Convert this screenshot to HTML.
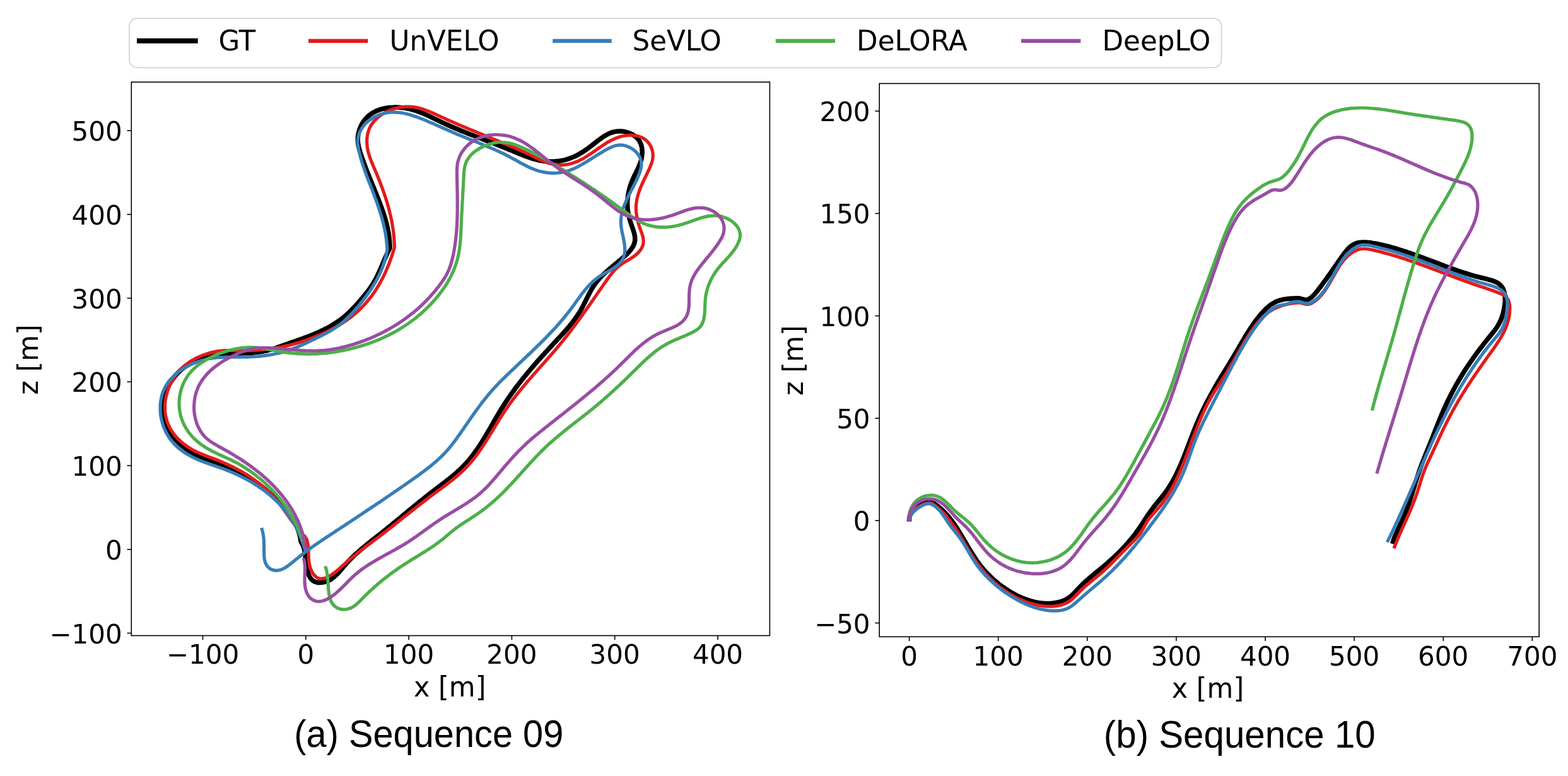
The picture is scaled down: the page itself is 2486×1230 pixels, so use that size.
<!DOCTYPE html>
<html><head><meta charset="utf-8"><style>
html,body{margin:0;padding:0;background:#fff;}
svg{display:block;}
.t{font-family:'DejaVu Sans', 'Liberation Sans', sans-serif;font-size:44.5px;fill:#000;}
.tk1{font-family:'DejaVu Sans', 'Liberation Sans', sans-serif;font-size:42.0px;fill:#000;}
.tl{font-family:'DejaVu Sans', 'Liberation Sans', sans-serif;font-size:43.6px;fill:#000;}
.cap{font-family:'Liberation Sans', sans-serif;font-size:61px;fill:#000;}
.tk{stroke:#000;stroke-width:1.6;}
.sp{fill:none;stroke:#000;stroke-width:1.6;}
</style></head><body>
<svg xmlns="http://www.w3.org/2000/svg" width="2486" height="1230" viewBox="0 0 2486 1230">
<rect width="2486" height="1230" fill="#fff"/>
<defs><clipPath id="cL"><rect x="208.3" y="130.1" width="1012.1000000000001" height="877.4"/></clipPath><clipPath id="cR"><rect x="1394.2" y="132.4" width="1045.9999999999998" height="876.9"/></clipPath></defs>
<g clip-path="url(#cL)"><path d="M476.1,857.1 C476.6,857.8 478.1,860.0 478.9,861.5 C479.7,863.0 480.3,864.5 480.9,866.0 C481.5,867.5 481.9,869.1 482.3,870.6 C482.7,872.2 483.1,873.8 483.3,875.4 C483.6,877.0 483.8,878.6 484.0,880.2 C484.2,881.9 484.4,883.5 484.5,885.2 C484.7,886.9 484.8,888.6 485.0,890.3 C485.2,892.0 485.4,893.8 485.7,895.5 C485.9,897.3 486.2,899.1 486.5,900.8 C486.9,902.6 487.3,904.3 487.8,906.0 C488.3,907.7 488.8,909.4 489.4,910.9 C490.1,912.4 490.8,913.9 491.6,915.2 C492.5,916.6 493.4,917.8 494.4,918.8 C495.5,919.9 496.7,920.8 498.0,921.4 C499.2,922.1 500.7,922.6 502.2,923.0 C503.6,923.3 505.2,923.5 506.8,923.5 C508.4,923.5 510.1,923.4 511.7,923.1 C513.4,922.8 515.0,922.4 516.6,921.9 C518.2,921.4 519.8,920.7 521.3,920.0 C522.8,919.3 524.2,918.4 525.6,917.5 C527.0,916.6 528.3,915.6 529.6,914.6 C530.9,913.5 532.1,912.4 533.3,911.2 C534.5,910.0 535.7,908.8 536.9,907.5 C538.0,906.3 539.1,905.0 540.3,903.7 C541.4,902.4 542.5,901.0 543.6,899.7 C544.7,898.4 545.8,897.1 547.0,895.8 C548.1,894.5 549.2,893.2 550.4,891.9 C551.5,890.7 552.7,889.4 553.9,888.2 C555.0,887.0 556.2,885.8 557.4,884.6 C558.6,883.4 559.8,882.2 561.1,881.0 C562.3,879.9 563.5,878.7 564.7,877.6 C566.0,876.5 567.2,875.4 568.5,874.3 C569.7,873.2 571.0,872.1 572.2,871.0 C573.5,869.9 574.8,868.8 576.0,867.8 C577.3,866.7 578.6,865.6 579.9,864.6 C581.2,863.5 582.5,862.5 583.7,861.5 C585.0,860.4 586.3,859.4 587.6,858.4 C588.9,857.3 590.2,856.3 591.5,855.3 C592.8,854.3 594.1,853.2 595.4,852.2 C596.7,851.2 598.0,850.2 599.3,849.2 C600.6,848.1 601.9,847.1 603.2,846.1 C604.5,845.1 605.8,844.0 607.1,843.0 C608.4,842.0 609.7,840.9 610.9,839.9 C612.2,838.9 613.5,837.8 614.8,836.8 C616.1,835.8 617.4,834.7 618.6,833.7 C619.9,832.6 621.2,831.6 622.5,830.5 C623.8,829.5 625.0,828.4 626.3,827.4 C627.6,826.3 628.9,825.3 630.1,824.2 C631.4,823.2 632.7,822.1 634.0,821.1 C635.2,820.0 636.5,819.0 637.8,817.9 C639.1,816.9 640.3,815.8 641.6,814.8 C642.9,813.7 644.2,812.6 645.4,811.6 C646.7,810.5 648.0,809.5 649.3,808.4 C650.6,807.4 651.8,806.3 653.1,805.3 C654.4,804.2 655.7,803.2 657.0,802.1 C658.3,801.0 659.6,800.0 660.8,798.9 C662.1,797.9 663.4,796.8 664.7,795.8 C666.0,794.8 667.3,793.7 668.6,792.7 C669.9,791.6 671.2,790.6 672.5,789.5 C673.8,788.5 675.1,787.5 676.5,786.4 C677.8,785.4 679.1,784.3 680.4,783.3 C681.7,782.3 683.0,781.3 684.4,780.2 C685.7,779.2 687.0,778.2 688.4,777.2 C689.7,776.1 691.0,775.1 692.4,774.1 C693.7,773.1 695.1,772.1 696.4,771.0 C697.7,770.0 699.1,769.0 700.4,768.0 C701.7,767.0 703.1,765.9 704.4,764.9 C705.7,763.9 707.1,762.8 708.4,761.8 C709.7,760.8 711.0,759.7 712.3,758.7 C713.6,757.6 714.9,756.6 716.2,755.5 C717.5,754.4 718.8,753.4 720.1,752.3 C721.3,751.2 722.6,750.1 723.9,749.0 C725.1,747.9 726.3,746.8 727.6,745.7 C728.8,744.6 730.0,743.5 731.2,742.3 C732.4,741.2 733.5,740.0 734.7,738.8 C735.9,737.7 737.0,736.5 738.1,735.3 C739.2,734.1 740.3,732.8 741.4,731.6 C742.5,730.4 743.6,729.1 744.6,727.9 C745.7,726.6 746.7,725.3 747.7,724.0 C748.7,722.7 749.7,721.4 750.7,720.1 C751.7,718.8 752.7,717.5 753.6,716.1 C754.6,714.8 755.5,713.5 756.5,712.1 C757.4,710.7 758.3,709.4 759.3,708.0 C760.2,706.6 761.1,705.2 762.0,703.8 C762.9,702.5 763.7,701.1 764.6,699.7 C765.5,698.2 766.4,696.8 767.2,695.4 C768.1,694.0 769.0,692.6 769.8,691.1 C770.7,689.7 771.5,688.3 772.3,686.8 C773.2,685.4 774.0,684.0 774.9,682.5 C775.7,681.1 776.5,679.6 777.4,678.2 C778.2,676.7 779.0,675.3 779.9,673.9 C780.7,672.4 781.5,671.0 782.3,669.5 C783.2,668.1 784.0,666.6 784.8,665.2 C785.7,663.7 786.5,662.3 787.4,660.8 C788.2,659.4 789.0,657.9 789.9,656.5 C790.7,655.1 791.6,653.6 792.5,652.2 C793.3,650.8 794.2,649.4 795.1,648.0 C795.9,646.5 796.8,645.1 797.7,643.7 C798.6,642.3 799.5,640.9 800.4,639.5 C801.3,638.1 802.2,636.7 803.1,635.4 C804.1,634.0 805.0,632.6 805.9,631.2 C806.9,629.9 807.8,628.5 808.8,627.1 C809.7,625.8 810.7,624.4 811.6,623.1 C812.6,621.7 813.6,620.4 814.6,619.1 C815.5,617.7 816.5,616.4 817.5,615.1 C818.5,613.7 819.5,612.4 820.5,611.1 C821.5,609.8 822.5,608.5 823.5,607.1 C824.6,605.8 825.6,604.5 826.6,603.2 C827.6,601.9 828.7,600.6 829.7,599.3 C830.8,598.1 831.8,596.8 832.8,595.5 C833.9,594.2 834.9,592.9 836.0,591.6 C837.1,590.4 838.1,589.1 839.2,587.8 C840.3,586.5 841.3,585.3 842.4,584.0 C843.5,582.8 844.6,581.5 845.7,580.2 C846.7,579.0 847.8,577.7 848.9,576.5 C850.0,575.2 851.1,574.0 852.2,572.7 C853.3,571.5 854.4,570.2 855.5,569.0 C856.6,567.8 857.7,566.5 858.8,565.3 C859.9,564.0 861.1,562.8 862.2,561.6 C863.3,560.3 864.4,559.1 865.5,557.9 C866.7,556.7 867.8,555.4 868.9,554.2 C870.0,553.0 871.2,551.8 872.3,550.5 C873.4,549.3 874.5,548.1 875.7,546.9 C876.8,545.7 877.9,544.4 879.1,543.2 C880.2,542.0 881.4,540.8 882.5,539.6 C883.6,538.3 884.8,537.1 885.9,535.9 C887.0,534.7 888.2,533.5 889.3,532.2 C890.4,531.0 891.5,529.8 892.6,528.6 C893.8,527.3 894.9,526.1 896.0,524.8 C897.1,523.6 898.2,522.4 899.2,521.1 C900.3,519.8 901.4,518.6 902.5,517.3 C903.5,516.0 904.6,514.7 905.6,513.4 C906.7,512.1 907.7,510.8 908.7,509.5 C909.7,508.2 910.7,506.9 911.7,505.5 C912.6,504.2 913.6,502.8 914.5,501.5 C915.5,500.1 916.4,498.7 917.3,497.3 C918.2,495.9 919.1,494.5 919.9,493.0 C920.8,491.6 921.6,490.1 922.4,488.7 C923.3,487.2 924.0,485.7 924.8,484.2 C925.6,482.7 926.4,481.2 927.1,479.7 C927.9,478.2 928.6,476.6 929.4,475.1 C930.1,473.6 930.8,472.1 931.6,470.6 C932.4,469.1 933.1,467.5 933.9,466.1 C934.6,464.6 935.4,463.1 936.2,461.6 C937.0,460.2 937.8,458.7 938.7,457.3 C939.5,455.9 940.4,454.5 941.3,453.1 C942.2,451.8 943.1,450.4 944.1,449.1 C945.0,447.8 946.0,446.6 947.1,445.3 C948.1,444.1 949.1,442.9 950.2,441.7 C951.3,440.5 952.4,439.3 953.5,438.1 C954.7,437.0 955.8,435.8 957.0,434.7 C958.2,433.6 959.4,432.5 960.6,431.4 C961.8,430.3 963.0,429.2 964.3,428.1 C965.5,427.0 966.8,426.0 968.0,424.9 C969.3,423.8 970.6,422.8 971.9,421.7 C973.2,420.6 974.5,419.5 975.8,418.5 C977.1,417.4 978.4,416.3 979.7,415.2 C981.0,414.1 982.3,413.0 983.7,411.9 C985.0,410.8 986.3,409.7 987.6,408.5 C988.9,407.4 990.2,406.2 991.5,405.0 C992.8,403.9 994.0,402.7 995.2,401.4 C996.4,400.2 997.6,399.0 998.6,397.7 C999.7,396.4 1000.7,395.1 1001.6,393.8 C1002.5,392.5 1003.4,391.2 1004.0,389.8 C1004.7,388.4 1005.3,387.0 1005.8,385.5 C1006.2,384.1 1006.5,382.6 1006.7,381.1 C1006.8,379.6 1006.8,378.0 1006.7,376.5 C1006.6,374.9 1006.3,373.3 1005.9,371.7 C1005.6,370.0 1005.1,368.4 1004.6,366.7 C1004.2,365.1 1003.6,363.4 1003.0,361.7 C1002.4,360.1 1001.8,358.4 1001.3,356.7 C1000.7,355.1 1000.1,353.4 999.6,351.8 C999.0,350.1 998.6,348.5 998.1,346.8 C997.7,345.2 997.3,343.6 996.9,341.9 C996.5,340.3 996.2,338.7 995.9,337.1 C995.6,335.5 995.4,333.9 995.2,332.2 C995.0,330.6 994.9,329.0 994.8,327.4 C994.7,325.8 994.6,324.1 994.7,322.5 C994.7,320.9 994.7,319.3 994.8,317.6 C994.9,316.0 995.1,314.4 995.3,312.7 C995.5,311.1 995.7,309.5 996.0,307.8 C996.3,306.2 996.7,304.6 997.0,303.0 C997.4,301.3 997.8,299.7 998.3,298.1 C998.7,296.5 999.2,294.9 999.8,293.3 C1000.3,291.7 1000.9,290.2 1001.5,288.6 C1002.1,287.0 1002.8,285.5 1003.4,283.9 C1004.1,282.4 1004.8,280.9 1005.5,279.3 C1006.3,277.8 1007.0,276.3 1007.8,274.8 C1008.5,273.3 1009.2,271.8 1010.0,270.3 C1010.7,268.8 1011.4,267.2 1012.1,265.7 C1012.8,264.2 1013.4,262.7 1014.0,261.1 C1014.6,259.5 1015.2,258.0 1015.7,256.4 C1016.2,254.8 1016.6,253.2 1017.0,251.6 C1017.3,249.9 1017.6,248.3 1017.8,246.6 C1018.0,245.0 1018.1,243.3 1018.2,241.6 C1018.2,240.0 1018.1,238.3 1018.0,236.7 C1017.8,235.1 1017.5,233.5 1017.2,232.0 C1016.8,230.4 1016.3,228.9 1015.7,227.4 C1015.1,226.0 1014.4,224.5 1013.6,223.2 C1012.7,221.9 1011.8,220.6 1010.7,219.4 C1009.6,218.2 1008.4,217.1 1007.0,216.0 C1005.7,215.0 1004.2,214.1 1002.7,213.2 C1001.2,212.4 999.6,211.6 998.0,211.0 C996.3,210.3 994.6,209.8 992.9,209.3 C991.2,208.9 989.4,208.5 987.7,208.3 C986.0,208.1 984.3,207.9 982.6,207.9 C980.9,207.9 979.2,208.0 977.6,208.2 C976.0,208.4 974.4,208.8 972.9,209.2 C971.3,209.6 969.8,210.1 968.3,210.6 C966.8,211.2 965.3,211.9 963.9,212.6 C962.4,213.3 961.0,214.1 959.6,214.9 C958.1,215.7 956.7,216.6 955.4,217.6 C954.0,218.5 952.6,219.5 951.3,220.5 C949.9,221.5 948.5,222.5 947.2,223.5 C945.9,224.5 944.5,225.6 943.2,226.7 C941.9,227.7 940.5,228.8 939.2,229.8 C937.9,230.9 936.5,231.9 935.2,232.9 C933.9,233.9 932.5,234.9 931.2,235.9 C929.8,236.9 928.5,237.8 927.1,238.7 C925.7,239.7 924.3,240.6 922.9,241.4 C921.6,242.3 920.2,243.1 918.7,243.9 C917.3,244.8 915.9,245.5 914.4,246.3 C913.0,247.0 911.5,247.7 910.0,248.4 C908.5,249.1 907.0,249.7 905.5,250.3 C904.0,250.9 902.4,251.4 900.8,251.9 C899.3,252.4 897.7,252.9 896.0,253.3 C894.4,253.7 892.8,254.1 891.1,254.4 C889.5,254.8 887.8,255.0 886.1,255.3 C884.4,255.5 882.7,255.7 881.0,255.8 C879.3,256.0 877.7,256.1 876.0,256.1 C874.3,256.1 872.6,256.1 870.9,256.1 C869.3,256.0 867.6,255.9 866.0,255.8 C864.3,255.6 862.7,255.4 861.0,255.2 C859.4,255.0 857.8,254.7 856.2,254.4 C854.6,254.0 853.0,253.7 851.4,253.3 C849.8,252.9 848.2,252.5 846.6,252.0 C845.0,251.6 843.5,251.1 841.9,250.6 C840.3,250.1 838.8,249.6 837.2,249.0 C835.7,248.5 834.1,247.9 832.6,247.3 C831.0,246.8 829.5,246.2 827.9,245.5 C826.4,244.9 824.8,244.3 823.3,243.7 C821.7,243.1 820.2,242.4 818.7,241.8 C817.1,241.1 815.6,240.5 814.0,239.8 C812.5,239.2 811.0,238.6 809.4,237.9 C807.9,237.3 806.3,236.6 804.8,236.0 C803.2,235.4 801.7,234.8 800.1,234.1 C798.6,233.5 797.0,232.9 795.5,232.3 C793.9,231.7 792.4,231.1 790.8,230.5 C789.3,229.8 787.7,229.2 786.2,228.6 C784.6,228.0 783.0,227.4 781.5,226.8 C779.9,226.2 778.4,225.6 776.8,225.0 C775.3,224.4 773.7,223.8 772.1,223.2 C770.6,222.6 769.0,222.0 767.5,221.4 C765.9,220.8 764.4,220.2 762.8,219.6 C761.2,219.0 759.7,218.4 758.1,217.8 C756.6,217.2 755.0,216.6 753.5,216.0 C751.9,215.4 750.4,214.8 748.8,214.2 C747.3,213.6 745.7,213.0 744.2,212.4 C742.6,211.8 741.1,211.2 739.5,210.6 C738.0,209.9 736.4,209.3 734.9,208.7 C733.4,208.1 731.8,207.5 730.3,206.8 C728.8,206.2 727.2,205.6 725.7,204.9 C724.2,204.3 722.6,203.6 721.1,203.0 C719.6,202.3 718.1,201.7 716.5,201.0 C715.0,200.4 713.5,199.7 712.0,199.0 C710.5,198.3 709.0,197.7 707.5,197.0 C705.9,196.3 704.4,195.6 702.9,194.9 C701.4,194.2 700.0,193.5 698.5,192.8 C697.0,192.1 695.5,191.3 694.0,190.6 C692.5,189.9 691.0,189.2 689.5,188.5 C688.0,187.7 686.6,187.0 685.1,186.3 C683.6,185.6 682.1,184.9 680.6,184.2 C679.1,183.5 677.6,182.8 676.1,182.1 C674.6,181.4 673.1,180.8 671.5,180.1 C670.0,179.5 668.5,178.9 667.0,178.3 C665.4,177.7 663.9,177.1 662.3,176.5 C660.7,176.0 659.2,175.5 657.6,175.0 C656.0,174.5 654.4,174.0 652.8,173.6 C651.1,173.1 649.5,172.7 647.9,172.4 C646.2,172.0 644.5,171.7 642.9,171.4 C641.2,171.2 639.5,170.9 637.8,170.7 C636.1,170.5 634.4,170.4 632.7,170.3 C631.0,170.2 629.3,170.1 627.5,170.1 C625.8,170.1 624.1,170.1 622.4,170.2 C620.8,170.2 619.1,170.4 617.4,170.6 C615.7,170.7 614.1,171.0 612.4,171.2 C610.8,171.5 609.1,171.9 607.5,172.3 C605.9,172.6 604.4,173.1 602.8,173.6 C601.2,174.1 599.7,174.7 598.2,175.3 C596.7,175.9 595.3,176.6 593.9,177.3 C592.4,178.1 591.0,178.9 589.7,179.7 C588.4,180.6 587.1,181.5 585.8,182.5 C584.5,183.5 583.3,184.6 582.2,185.7 C581.0,186.8 579.9,188.0 578.9,189.3 C577.8,190.5 576.8,191.9 575.9,193.3 C575.0,194.7 574.1,196.1 573.3,197.6 C572.5,199.1 571.8,200.7 571.2,202.3 C570.5,203.9 569.9,205.5 569.4,207.2 C568.9,208.8 568.5,210.5 568.2,212.2 C567.8,213.8 567.6,215.5 567.4,217.2 C567.3,218.9 567.2,220.6 567.3,222.3 C567.3,224.0 567.4,225.6 567.7,227.3 C567.9,228.9 568.2,230.5 568.5,232.2 C568.9,233.8 569.3,235.4 569.8,237.0 C570.2,238.6 570.7,240.2 571.2,241.8 C571.7,243.4 572.3,244.9 572.8,246.5 C573.3,248.1 573.9,249.7 574.4,251.2 C575.0,252.8 575.5,254.4 576.1,255.9 C576.7,257.5 577.2,259.1 577.8,260.6 C578.4,262.2 579.0,263.7 579.5,265.3 C580.1,266.8 580.7,268.4 581.3,269.9 C581.9,271.5 582.5,273.0 583.1,274.6 C583.7,276.1 584.4,277.6 585.0,279.2 C585.6,280.7 586.2,282.3 586.8,283.8 C587.5,285.3 588.1,286.9 588.7,288.4 C589.3,290.0 590.0,291.5 590.6,293.0 C591.2,294.6 591.8,296.1 592.5,297.6 C593.1,299.2 593.7,300.7 594.4,302.3 C595.0,303.8 595.6,305.4 596.2,306.9 C596.9,308.4 597.5,310.0 598.1,311.5 C598.7,313.1 599.3,314.6 600.0,316.2 C600.6,317.7 601.2,319.3 601.8,320.8 C602.4,322.4 603.0,323.9 603.5,325.5 C604.1,327.1 604.7,328.6 605.3,330.2 C605.8,331.8 606.4,333.3 606.9,334.9 C607.5,336.5 608.0,338.0 608.5,339.6 C609.0,341.2 609.5,342.8 610.0,344.4 C610.5,346.0 610.9,347.5 611.4,349.1 C611.8,350.7 612.3,352.3 612.7,353.9 C613.1,355.5 613.5,357.1 613.9,358.8 C614.2,360.4 614.6,362.0 614.9,363.6 C615.2,365.2 615.5,366.9 615.8,368.5 C616.1,370.1 616.4,371.8 616.6,373.4 C616.8,375.0 617.0,376.7 617.2,378.3 C617.4,380.0 617.5,381.7 617.7,383.3 C617.8,385.0 617.9,386.7 617.9,388.3 C618.0,390.0 618.4,391.8 618.0,393.4 C617.6,395.0 616.5,396.3 615.8,397.8 C615.0,399.3 614.3,400.8 613.6,402.3 C612.9,403.8 612.2,405.4 611.6,406.9 C610.9,408.4 610.2,409.9 609.6,411.5 C608.9,413.0 608.3,414.5 607.6,416.1 C607.0,417.6 606.3,419.1 605.7,420.7 C605.0,422.2 604.3,423.7 603.7,425.3 C603.0,426.8 602.3,428.3 601.7,429.8 C601.0,431.4 600.3,432.9 599.6,434.4 C598.9,435.9 598.1,437.4 597.4,438.9 C596.6,440.3 595.9,441.8 595.1,443.3 C594.3,444.7 593.5,446.2 592.6,447.6 C591.8,449.0 590.9,450.4 590.0,451.8 C589.1,453.2 588.2,454.6 587.2,456.0 C586.3,457.4 585.3,458.7 584.3,460.1 C583.4,461.4 582.3,462.7 581.3,464.0 C580.3,465.4 579.3,466.7 578.2,468.0 C577.1,469.3 576.1,470.6 575.0,471.8 C573.9,473.1 572.8,474.4 571.7,475.7 C570.6,476.9 569.5,478.2 568.4,479.4 C567.3,480.7 566.2,481.9 565.1,483.2 C563.9,484.4 562.8,485.6 561.7,486.9 C560.5,488.1 559.4,489.3 558.2,490.5 C557.0,491.7 555.9,492.8 554.7,494.0 C553.5,495.1 552.3,496.3 551.1,497.4 C549.8,498.5 548.6,499.6 547.3,500.7 C546.1,501.8 544.8,502.8 543.5,503.9 C542.2,504.9 540.9,505.9 539.6,506.9 C538.2,507.9 536.9,508.8 535.5,509.8 C534.2,510.7 532.8,511.6 531.4,512.5 C530.0,513.4 528.6,514.3 527.1,515.2 C525.7,516.0 524.3,516.8 522.8,517.7 C521.4,518.5 519.9,519.3 518.4,520.1 C516.9,520.8 515.5,521.6 514.0,522.3 C512.5,523.1 511.0,523.8 509.5,524.5 C507.9,525.2 506.4,525.9 504.9,526.6 C503.4,527.3 501.8,528.0 500.3,528.6 C498.8,529.3 497.2,529.9 495.7,530.6 C494.1,531.2 492.6,531.8 491.0,532.4 C489.5,533.0 487.9,533.6 486.4,534.2 C484.8,534.8 483.3,535.4 481.7,535.9 C480.2,536.5 478.6,537.1 477.0,537.6 C475.5,538.2 473.9,538.8 472.3,539.3 C470.8,539.9 469.2,540.4 467.6,541.0 C466.0,541.5 464.5,542.1 462.9,542.6 C461.3,543.1 459.7,543.7 458.1,544.2 C456.6,544.8 455.0,545.3 453.4,545.9 C451.8,546.5 450.2,547.0 448.6,547.6 C447.1,548.1 445.5,548.7 443.9,549.3 C442.3,549.8 440.7,550.4 439.1,550.9 C437.5,551.5 435.9,552.0 434.3,552.5 C432.7,553.1 431.1,553.6 429.5,554.0 C427.9,554.5 426.3,554.9 424.7,555.3 C423.1,555.7 421.5,556.1 419.9,556.4 C418.3,556.8 416.7,557.0 415.1,557.3 C413.4,557.6 411.8,557.8 410.2,558.0 C408.6,558.2 406.9,558.4 405.3,558.6 C403.7,558.7 402.0,558.9 400.4,559.0 C398.7,559.2 397.1,559.3 395.4,559.4 C393.8,559.5 392.1,559.6 390.5,559.6 C388.8,559.7 387.2,559.8 385.5,559.9 C383.8,560.0 382.2,560.0 380.5,560.1 C378.8,560.2 377.1,560.3 375.4,560.4 C373.8,560.4 372.1,560.5 370.4,560.6 C368.7,560.7 367.0,560.8 365.3,560.9 C363.6,561.1 361.9,561.2 360.2,561.3 C358.6,561.5 356.9,561.6 355.2,561.8 C353.5,561.9 351.8,562.1 350.2,562.3 C348.5,562.5 346.8,562.7 345.1,563.0 C343.5,563.2 341.8,563.4 340.2,563.7 C338.5,564.0 336.9,564.3 335.2,564.6 C333.6,564.9 332.0,565.3 330.4,565.6 C328.8,566.0 327.2,566.4 325.6,566.8 C324.0,567.2 322.4,567.7 320.8,568.2 C319.3,568.6 317.7,569.1 316.2,569.7 C314.6,570.2 313.1,570.8 311.6,571.4 C310.1,572.0 308.6,572.7 307.1,573.4 C305.7,574.0 304.2,574.8 302.8,575.5 C301.4,576.3 299.9,577.1 298.6,577.9 C297.2,578.8 295.8,579.7 294.4,580.6 C293.1,581.5 291.8,582.5 290.5,583.5 C289.2,584.6 287.9,585.6 286.6,586.7 C285.4,587.9 284.2,589.0 283.0,590.2 C281.8,591.4 280.6,592.7 279.5,593.9 C278.4,595.2 277.2,596.5 276.2,597.9 C275.1,599.2 274.1,600.6 273.1,602.0 C272.1,603.3 271.1,604.8 270.2,606.2 C269.3,607.6 268.4,609.1 267.6,610.5 C266.7,612.0 265.9,613.4 265.2,614.9 C264.5,616.4 263.7,617.9 263.1,619.4 C262.5,620.9 261.9,622.5 261.3,624.0 C260.8,625.6 260.3,627.2 259.9,628.8 C259.4,630.4 259.1,632.0 258.8,633.7 C258.5,635.3 258.2,637.0 258.0,638.7 C257.8,640.4 257.7,642.1 257.6,643.8 C257.6,645.5 257.5,647.2 257.6,648.9 C257.6,650.5 257.7,652.2 257.9,653.9 C258.1,655.6 258.3,657.2 258.6,658.9 C258.9,660.5 259.2,662.1 259.6,663.7 C260.0,665.3 260.5,666.9 261.0,668.5 C261.5,670.0 262.1,671.5 262.7,673.0 C263.3,674.5 264.0,676.0 264.7,677.5 C265.5,678.9 266.2,680.3 267.1,681.8 C267.9,683.2 268.7,684.5 269.6,685.9 C270.6,687.2 271.5,688.6 272.5,689.9 C273.5,691.2 274.5,692.5 275.6,693.7 C276.6,695.0 277.7,696.2 278.9,697.4 C280.0,698.6 281.2,699.8 282.4,701.0 C283.6,702.1 284.8,703.3 286.1,704.4 C287.4,705.5 288.6,706.5 290.0,707.6 C291.3,708.7 292.6,709.7 294.0,710.7 C295.3,711.7 296.7,712.7 298.1,713.6 C299.5,714.5 301.0,715.5 302.4,716.4 C303.8,717.3 305.3,718.1 306.8,719.0 C308.2,719.8 309.7,720.6 311.2,721.4 C312.7,722.2 314.2,722.9 315.7,723.7 C317.3,724.4 318.8,725.1 320.3,725.8 C321.8,726.5 323.4,727.1 324.9,727.8 C326.5,728.4 328.0,729.1 329.6,729.7 C331.1,730.3 332.7,730.9 334.3,731.5 C335.8,732.1 337.4,732.6 339.0,733.2 C340.5,733.8 342.1,734.3 343.7,734.9 C345.2,735.5 346.8,736.0 348.4,736.6 C350.0,737.1 351.5,737.7 353.1,738.2 C354.7,738.8 356.2,739.4 357.8,739.9 C359.3,740.5 360.9,741.1 362.4,741.7 C364.0,742.3 365.5,742.9 367.1,743.5 C368.6,744.1 370.1,744.7 371.7,745.3 C373.2,746.0 374.7,746.6 376.2,747.3 C377.7,748.0 379.2,748.7 380.7,749.4 C382.2,750.1 383.7,750.9 385.1,751.7 C386.6,752.4 388.0,753.2 389.5,754.0 C390.9,754.8 392.3,755.7 393.8,756.5 C395.2,757.4 396.6,758.3 398.0,759.1 C399.4,760.0 400.8,760.9 402.2,761.9 C403.6,762.8 404.9,763.7 406.3,764.7 C407.7,765.7 409.0,766.6 410.4,767.6 C411.7,768.6 413.0,769.6 414.4,770.7 C415.7,771.7 417.0,772.7 418.3,773.8 C419.6,774.8 420.9,775.9 422.2,777.0 C423.5,778.1 424.8,779.2 426.0,780.3 C427.3,781.4 428.6,782.5 429.8,783.6 C431.1,784.8 432.3,785.9 433.6,787.1 C434.8,788.2 436.0,789.4 437.2,790.6 C438.5,791.7 439.7,792.9 440.9,794.1 C442.1,795.3 443.2,796.5 444.4,797.7 C445.6,799.0 446.7,800.2 447.8,801.4 C449.0,802.7 450.1,803.9 451.2,805.2 C452.3,806.5 453.3,807.8 454.4,809.1 C455.4,810.4 456.5,811.7 457.5,813.0 C458.5,814.3 459.4,815.7 460.4,817.0 C461.3,818.4 462.2,819.8 463.1,821.1 C464.0,822.5 464.8,823.9 465.7,825.4 C466.5,826.8 467.3,828.2 468.0,829.7 C468.8,831.2 469.5,832.6 470.1,834.1 C470.8,835.6 471.4,837.1 472.0,838.7 C472.6,840.2 473.2,841.7 473.7,843.3 C474.2,844.9 474.7,846.5 475.1,848.1 C475.5,849.7 475.9,851.3 476.2,853.0 C476.5,854.6 476.9,857.2 477.0,858.0" fill="none" stroke="#000000" stroke-width="7.5" stroke-linejoin="round" stroke-linecap="butt"/>
<path d="M484.9,851.9 C485.2,852.7 486.2,855.1 486.7,856.7 C487.2,858.3 487.5,859.9 487.8,861.5 C488.1,863.1 488.3,864.8 488.5,866.4 C488.7,868.1 488.8,869.7 488.9,871.4 C489.0,873.1 489.0,874.7 489.1,876.4 C489.1,878.1 489.2,879.7 489.2,881.4 C489.3,883.1 489.4,884.8 489.5,886.5 C489.6,888.1 489.8,889.8 490.0,891.5 C490.3,893.2 490.6,894.9 491.0,896.5 C491.4,898.2 491.9,899.9 492.5,901.5 C493.1,903.1 493.8,904.8 494.6,906.3 C495.5,907.8 496.4,909.3 497.4,910.6 C498.4,911.9 499.5,913.2 500.6,914.1 C501.8,915.1 503.0,915.9 504.4,916.5 C505.7,917.0 507.1,917.3 508.5,917.4 C510.0,917.4 511.5,917.2 513.0,916.9 C514.6,916.6 516.1,916.0 517.7,915.4 C519.3,914.7 520.8,913.9 522.4,913.0 C524.0,912.1 525.5,911.1 527.0,910.1 C528.5,909.0 530.0,907.9 531.4,906.9 C532.8,905.8 534.1,904.7 535.4,903.6 C536.7,902.5 538.0,901.4 539.2,900.3 C540.4,899.2 541.6,898.1 542.9,897.1 C544.1,896.0 545.2,894.9 546.5,893.8 C547.7,892.7 548.9,891.6 550.1,890.5 C551.3,889.5 552.5,888.4 553.8,887.3 C555.0,886.3 556.3,885.2 557.6,884.2 C558.8,883.1 560.1,882.1 561.4,881.0 C562.7,880.0 564.0,878.9 565.3,877.9 C566.6,876.9 567.9,875.8 569.2,874.8 C570.5,873.8 571.8,872.8 573.1,871.7 C574.5,870.7 575.8,869.7 577.1,868.7 C578.5,867.7 579.8,866.6 581.1,865.6 C582.5,864.6 583.8,863.6 585.2,862.6 C586.5,861.6 587.8,860.6 589.2,859.6 C590.5,858.6 591.9,857.5 593.2,856.5 C594.6,855.5 595.9,854.5 597.2,853.5 C598.6,852.5 599.9,851.5 601.3,850.5 C602.6,849.5 603.9,848.4 605.2,847.4 C606.6,846.4 607.9,845.4 609.2,844.4 C610.5,843.4 611.8,842.3 613.2,841.3 C614.5,840.3 615.8,839.3 617.1,838.2 C618.4,837.2 619.7,836.2 621.0,835.2 C622.3,834.1 623.6,833.1 624.9,832.1 C626.2,831.1 627.5,830.0 628.8,829.0 C630.1,828.0 631.4,826.9 632.7,825.9 C634.0,824.9 635.3,823.9 636.6,822.8 C637.9,821.8 639.2,820.8 640.4,819.7 C641.7,818.7 643.0,817.7 644.3,816.6 C645.6,815.6 646.9,814.6 648.2,813.6 C649.5,812.5 650.8,811.5 652.1,810.5 C653.4,809.4 654.7,808.4 656.0,807.4 C657.3,806.4 658.6,805.3 659.9,804.3 C661.2,803.3 662.5,802.3 663.8,801.2 C665.1,800.2 666.4,799.2 667.7,798.2 C669.0,797.2 670.3,796.1 671.7,795.1 C673.0,794.1 674.3,793.1 675.6,792.1 C676.9,791.1 678.3,790.1 679.6,789.0 C680.9,788.0 682.3,787.0 683.6,786.0 C685.0,785.0 686.3,784.0 687.7,783.0 C689.0,782.0 690.4,781.0 691.7,780.0 C693.1,779.0 694.4,778.0 695.8,777.0 C697.1,776.0 698.5,775.0 699.9,774.0 C701.2,773.0 702.6,772.0 703.9,771.0 C705.3,770.0 706.6,768.9 708.0,767.9 C709.3,766.9 710.6,765.9 712.0,764.8 C713.3,763.8 714.6,762.8 715.9,761.7 C717.3,760.7 718.6,759.6 719.9,758.6 C721.2,757.5 722.5,756.4 723.7,755.4 C725.0,754.3 726.3,753.2 727.5,752.1 C728.8,751.0 730.0,749.9 731.2,748.7 C732.5,747.6 733.7,746.5 734.8,745.3 C736.0,744.1 737.2,743.0 738.4,741.8 C739.5,740.6 740.6,739.4 741.8,738.2 C742.9,737.0 744.0,735.7 745.1,734.5 C746.1,733.3 747.2,732.0 748.3,730.7 C749.3,729.5 750.4,728.2 751.4,726.9 C752.4,725.6 753.4,724.3 754.4,723.0 C755.4,721.7 756.4,720.3 757.3,719.0 C758.3,717.7 759.3,716.3 760.2,715.0 C761.2,713.6 762.1,712.2 763.0,710.9 C764.0,709.5 764.9,708.1 765.8,706.7 C766.7,705.4 767.6,704.0 768.5,702.6 C769.4,701.2 770.3,699.8 771.2,698.4 C772.1,697.0 773.0,695.5 773.9,694.1 C774.7,692.7 775.6,691.3 776.5,689.9 C777.3,688.5 778.2,687.0 779.1,685.6 C780.0,684.2 780.8,682.8 781.7,681.3 C782.5,679.9 783.4,678.5 784.3,677.0 C785.1,675.6 786.0,674.2 786.9,672.8 C787.8,671.3 788.6,669.9 789.5,668.5 C790.4,667.1 791.3,665.6 792.1,664.2 C793.0,662.8 793.9,661.4 794.8,660.0 C795.7,658.6 796.6,657.2 797.5,655.8 C798.4,654.4 799.3,653.0 800.2,651.6 C801.2,650.2 802.1,648.8 803.0,647.5 C804.0,646.1 804.9,644.7 805.9,643.4 C806.8,642.0 807.8,640.7 808.8,639.3 C809.8,638.0 810.8,636.6 811.8,635.3 C812.7,634.0 813.7,632.6 814.8,631.3 C815.8,630.0 816.8,628.7 817.8,627.4 C818.8,626.1 819.9,624.7 820.9,623.4 C821.9,622.1 823.0,620.9 824.0,619.6 C825.1,618.3 826.1,617.0 827.2,615.7 C828.2,614.4 829.3,613.1 830.4,611.9 C831.4,610.6 832.5,609.3 833.6,608.0 C834.7,606.8 835.7,605.5 836.8,604.2 C837.9,603.0 839.0,601.7 840.1,600.5 C841.2,599.2 842.3,598.0 843.4,596.7 C844.5,595.4 845.6,594.2 846.7,592.9 C847.8,591.7 848.9,590.4 850.0,589.2 C851.1,588.0 852.2,586.7 853.3,585.5 C854.4,584.2 855.5,583.0 856.6,581.7 C857.7,580.5 858.8,579.2 859.9,578.0 C861.0,576.7 862.1,575.5 863.3,574.2 C864.4,573.0 865.5,571.8 866.6,570.5 C867.7,569.3 868.8,568.0 869.9,566.8 C871.0,565.5 872.1,564.3 873.2,563.0 C874.3,561.7 875.4,560.5 876.5,559.2 C877.5,558.0 878.6,556.7 879.7,555.5 C880.8,554.2 881.9,552.9 883.0,551.7 C884.0,550.4 885.1,549.1 886.2,547.8 C887.2,546.6 888.3,545.3 889.4,544.0 C890.4,542.7 891.5,541.4 892.5,540.1 C893.6,538.8 894.6,537.5 895.6,536.2 C896.7,534.9 897.7,533.6 898.7,532.3 C899.8,531.0 900.8,529.7 901.8,528.4 C902.8,527.1 903.8,525.8 904.8,524.5 C905.8,523.1 906.8,521.8 907.8,520.5 C908.8,519.1 909.8,517.8 910.8,516.5 C911.8,515.2 912.8,513.8 913.8,512.5 C914.8,511.1 915.8,509.8 916.7,508.5 C917.7,507.1 918.7,505.8 919.7,504.4 C920.6,503.1 921.6,501.7 922.6,500.4 C923.6,499.0 924.5,497.7 925.5,496.3 C926.5,494.9 927.4,493.6 928.4,492.2 C929.3,490.9 930.3,489.5 931.2,488.2 C932.2,486.8 933.2,485.4 934.1,484.1 C935.1,482.7 936.0,481.3 937.0,480.0 C937.9,478.6 938.9,477.2 939.8,475.9 C940.8,474.5 941.7,473.1 942.7,471.8 C943.6,470.4 944.6,469.0 945.5,467.7 C946.5,466.3 947.4,464.9 948.4,463.5 C949.3,462.2 950.3,460.8 951.2,459.4 C952.2,458.1 953.1,456.7 954.1,455.3 C955.0,454.0 956.0,452.6 956.9,451.2 C957.9,449.9 958.8,448.5 959.8,447.1 C960.8,445.8 961.7,444.4 962.7,443.1 C963.7,441.7 964.6,440.4 965.6,439.0 C966.6,437.7 967.6,436.4 968.6,435.1 C969.7,433.8 970.7,432.5 971.8,431.3 C972.9,430.0 974.0,428.8 975.1,427.6 C976.2,426.4 977.4,425.3 978.6,424.2 C979.8,423.1 981.1,422.0 982.3,420.9 C983.6,419.9 985.0,418.9 986.3,418.0 C987.7,417.0 989.1,416.2 990.6,415.3 C992.0,414.4 993.6,413.6 995.1,412.8 C996.5,411.9 998.1,411.1 999.6,410.1 C1001.0,409.2 1002.5,408.2 1004.0,407.2 C1005.4,406.2 1006.8,405.1 1008.1,404.0 C1009.4,402.8 1010.7,401.6 1011.9,400.4 C1013.0,399.2 1014.1,397.9 1015.1,396.6 C1016.1,395.3 1016.9,393.9 1017.7,392.5 C1018.4,391.1 1019.0,389.7 1019.4,388.3 C1019.8,386.8 1020.0,385.3 1020.1,383.8 C1020.2,382.3 1020.1,380.7 1019.9,379.2 C1019.7,377.6 1019.4,376.0 1019.0,374.4 C1018.5,372.8 1018.0,371.2 1017.5,369.5 C1016.9,367.9 1016.3,366.3 1015.7,364.6 C1015.1,363.0 1014.5,361.3 1013.9,359.6 C1013.4,358.0 1012.8,356.3 1012.3,354.7 C1011.8,353.0 1011.4,351.3 1011.0,349.7 C1010.5,348.0 1010.2,346.3 1009.9,344.7 C1009.6,343.0 1009.3,341.4 1009.1,339.7 C1008.9,338.1 1008.7,336.4 1008.6,334.8 C1008.5,333.1 1008.4,331.5 1008.4,329.8 C1008.4,328.2 1008.5,326.6 1008.6,325.0 C1008.7,323.4 1008.9,321.8 1009.1,320.2 C1009.3,318.6 1009.6,317.0 1010.0,315.4 C1010.3,313.8 1010.7,312.2 1011.1,310.7 C1011.5,309.1 1012.0,307.5 1012.5,306.0 C1013.0,304.4 1013.5,302.8 1014.1,301.3 C1014.7,299.7 1015.3,298.2 1015.9,296.6 C1016.5,295.1 1017.2,293.6 1017.9,292.0 C1018.6,290.5 1019.3,288.9 1020.0,287.4 C1020.7,285.9 1021.4,284.3 1022.1,282.8 C1022.9,281.2 1023.6,279.7 1024.4,278.2 C1025.1,276.6 1025.9,275.1 1026.6,273.5 C1027.4,272.0 1028.1,270.5 1028.8,268.9 C1029.6,267.4 1030.3,265.8 1030.9,264.2 C1031.6,262.7 1032.2,261.1 1032.8,259.5 C1033.3,258.0 1033.8,256.4 1034.2,254.8 C1034.5,253.2 1034.9,251.6 1035.0,250.0 C1035.2,248.4 1035.3,246.8 1035.2,245.2 C1035.1,243.5 1034.9,241.9 1034.6,240.3 C1034.3,238.7 1033.8,237.0 1033.2,235.5 C1032.7,233.9 1031.9,232.3 1031.1,230.9 C1030.3,229.4 1029.4,228.0 1028.4,226.7 C1027.4,225.4 1026.2,224.1 1025.0,223.0 C1023.8,221.9 1022.5,220.9 1021.1,220.0 C1019.8,219.1 1018.3,218.4 1016.8,217.7 C1015.3,217.0 1013.7,216.5 1012.1,216.0 C1010.5,215.6 1008.8,215.2 1007.2,215.0 C1005.5,214.7 1003.8,214.5 1002.1,214.4 C1000.4,214.4 998.7,214.4 997.0,214.4 C995.3,214.5 993.6,214.7 991.9,214.9 C990.2,215.1 988.6,215.4 986.9,215.8 C985.3,216.1 983.7,216.6 982.2,217.0 C980.6,217.5 979.0,218.1 977.5,218.6 C976.0,219.2 974.5,219.9 973.0,220.6 C971.5,221.2 970.0,222.0 968.5,222.7 C967.1,223.5 965.6,224.3 964.2,225.1 C962.7,226.0 961.3,226.8 959.9,227.7 C958.5,228.6 957.1,229.5 955.7,230.5 C954.3,231.4 952.9,232.3 951.5,233.3 C950.1,234.2 948.7,235.2 947.3,236.2 C945.9,237.2 944.6,238.1 943.2,239.1 C941.8,240.1 940.4,241.0 939.0,242.0 C937.6,243.0 936.2,243.9 934.8,244.8 C933.5,245.8 932.1,246.7 930.6,247.6 C929.2,248.5 927.8,249.4 926.4,250.2 C924.9,251.0 923.5,251.9 922.0,252.6 C920.6,253.4 919.1,254.1 917.6,254.8 C916.2,255.5 914.7,256.2 913.1,256.8 C911.6,257.4 910.1,258.0 908.5,258.5 C907.0,259.0 905.4,259.4 903.8,259.8 C902.2,260.2 900.5,260.5 898.9,260.7 C897.2,261.0 895.5,261.1 893.8,261.3 C892.2,261.4 890.4,261.4 888.7,261.4 C887.0,261.4 885.3,261.3 883.6,261.2 C881.9,261.0 880.2,260.8 878.5,260.5 C876.8,260.3 875.2,259.9 873.5,259.6 C871.9,259.2 870.3,258.7 868.7,258.2 C867.1,257.7 865.5,257.2 864.0,256.6 C862.5,256.0 861.0,255.3 859.5,254.7 C858.0,254.0 856.5,253.3 855.0,252.6 C853.5,251.9 852.0,251.1 850.6,250.4 C849.1,249.7 847.6,248.9 846.1,248.2 C844.7,247.5 843.2,246.7 841.7,246.0 C840.2,245.3 838.7,244.6 837.2,243.9 C835.7,243.2 834.2,242.5 832.7,241.8 C831.2,241.1 829.6,240.4 828.1,239.7 C826.6,239.1 825.1,238.4 823.5,237.7 C822.0,237.0 820.5,236.4 819.0,235.7 C817.4,235.1 815.9,234.4 814.4,233.7 C812.8,233.1 811.3,232.4 809.7,231.8 C808.2,231.1 806.7,230.5 805.1,229.8 C803.6,229.2 802.0,228.6 800.5,227.9 C799.0,227.3 797.4,226.6 795.9,226.0 C794.3,225.4 792.8,224.7 791.3,224.1 C789.7,223.4 788.2,222.8 786.6,222.2 C785.1,221.5 783.5,220.9 782.0,220.3 C780.5,219.6 778.9,219.0 777.4,218.4 C775.8,217.8 774.3,217.1 772.8,216.5 C771.2,215.9 769.7,215.2 768.1,214.6 C766.6,214.0 765.0,213.3 763.5,212.7 C762.0,212.1 760.4,211.4 758.9,210.8 C757.3,210.2 755.8,209.5 754.3,208.9 C752.7,208.3 751.2,207.6 749.6,207.0 C748.1,206.4 746.6,205.7 745.0,205.1 C743.5,204.4 741.9,203.8 740.4,203.2 C738.9,202.5 737.3,201.9 735.8,201.2 C734.3,200.6 732.7,199.9 731.2,199.3 C729.7,198.6 728.1,198.0 726.6,197.3 C725.1,196.7 723.5,196.0 722.0,195.3 C720.5,194.7 718.9,194.0 717.4,193.3 C715.9,192.7 714.4,192.0 712.8,191.3 C711.3,190.6 709.8,190.0 708.3,189.3 C706.7,188.6 705.2,187.9 703.7,187.2 C702.2,186.5 700.7,185.8 699.1,185.1 C697.6,184.4 696.1,183.7 694.6,183.0 C693.1,182.3 691.6,181.6 690.0,180.9 C688.5,180.2 687.0,179.6 685.5,178.9 C684.0,178.2 682.4,177.6 680.9,177.0 C679.4,176.3 677.8,175.7 676.3,175.2 C674.7,174.6 673.2,174.0 671.6,173.5 C670.1,173.0 668.5,172.5 666.9,172.1 C665.4,171.6 663.8,171.2 662.2,170.9 C660.6,170.5 659.0,170.2 657.4,169.9 C655.8,169.7 654.1,169.5 652.5,169.3 C650.9,169.2 649.2,169.1 647.5,169.1 C645.9,169.1 644.2,169.1 642.5,169.2 C640.8,169.3 639.1,169.5 637.4,169.7 C635.7,169.9 634.0,170.2 632.3,170.5 C630.7,170.8 629.0,171.2 627.3,171.7 C625.6,172.1 624.0,172.6 622.3,173.2 C620.7,173.8 619.1,174.4 617.5,175.0 C615.9,175.7 614.3,176.4 612.8,177.2 C611.3,178.0 609.8,178.8 608.3,179.7 C606.8,180.5 605.4,181.4 604.0,182.4 C602.6,183.4 601.3,184.4 600.0,185.5 C598.7,186.5 597.5,187.6 596.3,188.8 C595.1,189.9 594.0,191.1 592.9,192.4 C591.9,193.6 590.9,194.9 590.0,196.2 C589.0,197.5 588.2,198.9 587.4,200.3 C586.6,201.7 585.9,203.1 585.3,204.6 C584.7,206.1 584.1,207.6 583.7,209.2 C583.2,210.7 582.9,212.3 582.6,213.9 C582.3,215.5 582.0,217.2 581.9,218.8 C581.8,220.4 581.7,222.1 581.7,223.8 C581.7,225.4 581.7,227.1 581.9,228.8 C582.0,230.5 582.2,232.2 582.4,233.8 C582.7,235.5 583.0,237.2 583.3,238.8 C583.7,240.4 584.1,242.1 584.6,243.7 C585.0,245.3 585.6,246.9 586.1,248.5 C586.6,250.1 587.2,251.6 587.8,253.2 C588.4,254.8 589.0,256.4 589.6,257.9 C590.3,259.5 590.9,261.0 591.6,262.6 C592.2,264.1 592.9,265.7 593.6,267.2 C594.2,268.7 594.9,270.3 595.5,271.8 C596.2,273.4 596.8,274.9 597.5,276.4 C598.1,278.0 598.7,279.5 599.4,281.1 C600.0,282.6 600.6,284.1 601.2,285.7 C601.9,287.2 602.5,288.8 603.1,290.3 C603.7,291.9 604.3,293.4 604.8,295.0 C605.4,296.5 606.0,298.1 606.6,299.6 C607.1,301.2 607.7,302.8 608.2,304.3 C608.8,305.9 609.3,307.5 609.9,309.0 C610.4,310.6 610.9,312.2 611.4,313.8 C611.9,315.4 612.4,317.0 612.9,318.5 C613.4,320.1 613.9,321.7 614.4,323.3 C614.8,324.9 615.3,326.5 615.7,328.1 C616.2,329.8 616.6,331.4 617.0,333.0 C617.4,334.6 617.8,336.2 618.2,337.8 C618.6,339.4 619.0,341.1 619.4,342.7 C619.7,344.3 620.1,346.0 620.4,347.6 C620.7,349.2 621.1,350.9 621.4,352.5 C621.7,354.1 622.0,355.8 622.2,357.4 C622.5,359.1 622.8,360.7 623.0,362.3 C623.2,364.0 623.5,365.6 623.7,367.3 C623.9,368.9 624.1,370.6 624.2,372.3 C624.4,373.9 624.6,375.6 624.7,377.2 C624.8,378.9 624.9,380.5 625.0,382.2 C625.1,383.9 625.2,385.5 625.3,387.2 C625.3,388.9 625.6,390.6 625.4,392.2 C625.2,393.8 624.5,395.4 624.0,396.9 C623.5,398.5 623.0,400.1 622.5,401.7 C622.0,403.3 621.5,404.8 621.0,406.4 C620.4,408.0 619.9,409.6 619.3,411.1 C618.8,412.7 618.2,414.3 617.6,415.8 C617.0,417.4 616.4,418.9 615.8,420.5 C615.2,422.1 614.5,423.6 613.9,425.1 C613.2,426.7 612.6,428.2 611.9,429.7 C611.2,431.3 610.5,432.8 609.8,434.3 C609.1,435.8 608.3,437.3 607.6,438.8 C606.9,440.3 606.1,441.8 605.3,443.3 C604.5,444.8 603.7,446.3 602.9,447.7 C602.1,449.2 601.3,450.6 600.4,452.1 C599.6,453.5 598.7,454.9 597.9,456.3 C597.0,457.8 596.1,459.2 595.2,460.6 C594.2,461.9 593.3,463.3 592.4,464.7 C591.4,466.1 590.4,467.4 589.5,468.7 C588.5,470.1 587.5,471.4 586.4,472.7 C585.4,474.0 584.4,475.3 583.3,476.6 C582.2,477.8 581.2,479.1 580.1,480.3 C579.0,481.6 577.8,482.8 576.7,484.0 C575.6,485.2 574.4,486.4 573.3,487.6 C572.1,488.8 570.9,489.9 569.7,491.1 C568.5,492.2 567.3,493.3 566.1,494.5 C564.8,495.6 563.6,496.7 562.3,497.7 C561.1,498.8 559.8,499.9 558.5,500.9 C557.2,501.9 555.9,503.0 554.5,504.0 C553.2,505.0 551.9,505.9 550.5,506.9 C549.2,507.9 547.8,508.8 546.4,509.7 C545.0,510.7 543.6,511.6 542.2,512.5 C540.8,513.4 539.4,514.2 538.0,515.1 C536.5,516.0 535.1,516.8 533.6,517.6 C532.2,518.5 530.7,519.3 529.2,520.1 C527.8,520.9 526.3,521.6 524.8,522.4 C523.3,523.2 521.8,523.9 520.3,524.7 C518.8,525.4 517.3,526.1 515.8,526.8 C514.3,527.5 512.7,528.2 511.2,528.9 C509.7,529.6 508.1,530.3 506.6,530.9 C505.1,531.6 503.5,532.2 502.0,532.9 C500.4,533.5 498.9,534.1 497.3,534.7 C495.8,535.3 494.2,535.9 492.6,536.5 C491.1,537.1 489.5,537.7 487.9,538.2 C486.4,538.8 484.8,539.4 483.2,539.9 C481.7,540.4 480.1,540.9 478.5,541.5 C476.9,542.0 475.3,542.5 473.7,543.0 C472.2,543.4 470.6,543.9 469.0,544.4 C467.4,544.8 465.8,545.3 464.2,545.7 C462.6,546.1 461.0,546.5 459.4,547.0 C457.7,547.4 456.1,547.7 454.5,548.1 C452.9,548.5 451.3,548.9 449.7,549.2 C448.0,549.6 446.4,549.9 444.8,550.2 C443.2,550.5 441.5,550.9 439.9,551.1 C438.3,551.4 436.6,551.7 435.0,552.0 C433.3,552.3 431.7,552.5 430.1,552.7 C428.4,553.0 426.8,553.2 425.1,553.4 C423.5,553.6 421.8,553.8 420.1,554.0 C418.5,554.2 416.8,554.3 415.2,554.5 C413.5,554.6 411.8,554.8 410.2,554.9 C408.5,555.0 406.8,555.1 405.2,555.2 C403.5,555.3 401.8,555.4 400.2,555.5 C398.5,555.6 396.8,555.6 395.2,555.7 C393.5,555.7 391.8,555.8 390.2,555.8 C388.5,555.8 386.8,555.8 385.2,555.8 C383.5,555.8 381.8,555.8 380.2,555.8 C378.5,555.8 376.8,555.7 375.2,555.7 C373.5,555.7 371.8,555.6 370.2,555.6 C368.5,555.5 366.9,555.5 365.2,555.5 C363.6,555.5 361.9,555.5 360.2,555.5 C358.6,555.5 356.9,555.6 355.3,555.7 C353.7,555.8 352.0,555.9 350.4,556.1 C348.7,556.3 347.1,556.5 345.5,556.7 C343.8,556.9 342.2,557.2 340.6,557.6 C338.9,557.9 337.3,558.2 335.7,558.6 C334.1,559.0 332.5,559.4 330.9,559.9 C329.3,560.4 327.7,560.9 326.1,561.4 C324.5,561.9 322.9,562.5 321.4,563.1 C319.8,563.7 318.2,564.3 316.7,565.0 C315.2,565.7 313.6,566.4 312.1,567.1 C310.6,567.9 309.1,568.7 307.7,569.5 C306.2,570.3 304.7,571.2 303.3,572.0 C301.9,572.9 300.5,573.9 299.1,574.8 C297.7,575.8 296.4,576.8 295.1,577.8 C293.7,578.8 292.5,579.9 291.2,581.0 C289.9,582.1 288.7,583.3 287.5,584.4 C286.3,585.6 285.2,586.8 284.0,588.1 C282.9,589.3 281.8,590.6 280.8,591.9 C279.7,593.3 278.7,594.6 277.7,596.0 C276.8,597.3 275.8,598.8 274.9,600.2 C274.0,601.6 273.2,603.1 272.4,604.5 C271.6,606.0 270.8,607.5 270.1,609.0 C269.3,610.5 268.6,612.1 268.0,613.6 C267.4,615.2 266.8,616.7 266.2,618.3 C265.7,619.9 265.2,621.5 264.7,623.1 C264.2,624.7 263.8,626.3 263.5,627.9 C263.1,629.6 262.8,631.2 262.5,632.8 C262.2,634.5 262.0,636.1 261.8,637.7 C261.7,639.4 261.6,641.0 261.5,642.7 C261.4,644.3 261.4,646.0 261.5,647.6 C261.5,649.2 261.6,650.9 261.7,652.5 C261.9,654.1 262.1,655.7 262.3,657.4 C262.6,659.0 262.9,660.6 263.3,662.2 C263.7,663.7 264.1,665.3 264.6,666.9 C265.1,668.4 265.6,670.0 266.2,671.5 C266.8,673.0 267.5,674.6 268.2,676.0 C268.9,677.5 269.7,679.0 270.6,680.4 C271.4,681.9 272.3,683.3 273.3,684.7 C274.2,686.1 275.2,687.4 276.3,688.8 C277.3,690.1 278.4,691.4 279.5,692.7 C280.7,694.0 281.9,695.2 283.1,696.4 C284.3,697.6 285.6,698.8 286.8,700.0 C288.1,701.1 289.4,702.2 290.8,703.3 C292.1,704.4 293.5,705.4 294.9,706.4 C296.2,707.4 297.7,708.4 299.1,709.3 C300.5,710.2 301.9,711.1 303.4,711.9 C304.8,712.7 306.3,713.5 307.8,714.3 C309.3,715.0 310.7,715.8 312.2,716.5 C313.7,717.2 315.2,717.8 316.8,718.5 C318.3,719.1 319.8,719.8 321.3,720.4 C322.8,721.0 324.4,721.6 325.9,722.2 C327.5,722.8 329.0,723.4 330.5,724.0 C332.1,724.5 333.6,725.1 335.2,725.7 C336.7,726.3 338.3,726.8 339.8,727.4 C341.4,728.0 342.9,728.6 344.5,729.2 C346.0,729.8 347.5,730.5 349.1,731.1 C350.6,731.7 352.1,732.4 353.7,733.0 C355.2,733.7 356.7,734.4 358.3,735.1 C359.8,735.7 361.3,736.4 362.8,737.2 C364.3,737.9 365.8,738.6 367.3,739.3 C368.8,740.1 370.3,740.8 371.8,741.6 C373.3,742.3 374.8,743.1 376.3,743.9 C377.7,744.7 379.2,745.5 380.7,746.3 C382.1,747.1 383.6,747.9 385.0,748.8 C386.5,749.6 387.9,750.5 389.3,751.4 C390.8,752.2 392.2,753.1 393.6,754.0 C395.0,754.9 396.4,755.8 397.8,756.8 C399.1,757.7 400.5,758.6 401.9,759.6 C403.3,760.5 404.6,761.5 405.9,762.5 C407.3,763.5 408.6,764.5 409.9,765.5 C411.2,766.5 412.5,767.6 413.8,768.6 C415.1,769.7 416.4,770.7 417.7,771.8 C418.9,772.9 420.2,774.0 421.4,775.1 C422.6,776.2 423.9,777.4 425.1,778.5 C426.3,779.6 427.4,780.8 428.6,782.0 C429.8,783.2 430.9,784.4 432.1,785.6 C433.2,786.8 434.3,788.0 435.4,789.3 C436.5,790.5 437.6,791.8 438.7,793.0 C439.8,794.3 440.8,795.6 441.9,796.9 C442.9,798.2 443.9,799.6 444.9,800.9 C445.9,802.2 446.9,803.6 447.9,804.9 C448.9,806.3 449.9,807.6 450.9,809.0 C451.8,810.4 452.8,811.7 453.8,813.1 C454.7,814.5 455.7,815.9 456.7,817.2 C457.6,818.6 458.6,820.0 459.5,821.4 C460.5,822.7 461.5,824.1 462.5,825.4 C463.4,826.8 464.4,828.2 465.4,829.5 C466.4,830.8 467.4,832.2 468.4,833.5 C469.4,834.8 470.4,836.1 471.5,837.4 C472.5,838.7 473.6,840.0 474.7,841.2 C475.7,842.5 476.8,843.7 477.9,844.9 C479.1,846.1 480.2,847.3 481.3,848.5 C482.5,849.6 484.3,851.3 484.9,851.9" fill="none" stroke="#e41a1c" stroke-width="5.2" stroke-linejoin="round" stroke-linecap="butt"/>
<path d="M414.6,836.6 C414.8,837.4 415.6,839.9 416.0,841.5 C416.5,843.1 416.8,844.8 417.1,846.4 C417.4,848.0 417.6,849.6 417.8,851.2 C418.0,852.8 418.1,854.4 418.3,856.1 C418.4,857.7 418.5,859.3 418.5,861.0 C418.6,862.6 418.6,864.3 418.6,865.9 C418.6,867.6 418.6,869.3 418.6,871.0 C418.6,872.7 418.6,874.5 418.6,876.2 C418.7,878.0 418.7,879.8 418.8,881.5 C418.9,883.3 419.1,885.0 419.4,886.7 C419.7,888.4 420.1,890.0 420.6,891.6 C421.2,893.1 421.9,894.6 422.8,896.0 C423.7,897.3 424.7,898.6 425.9,899.7 C427.1,900.7 428.4,901.6 429.8,902.3 C431.2,903.0 432.8,903.6 434.3,903.9 C435.8,904.2 437.4,904.3 439.0,904.3 C440.5,904.2 442.1,903.9 443.6,903.5 C445.2,903.1 446.7,902.5 448.2,901.8 C449.7,901.2 451.2,900.3 452.7,899.4 C454.2,898.6 455.6,897.5 457.1,896.5 C458.5,895.5 459.9,894.4 461.3,893.3 C462.7,892.2 464.1,891.0 465.4,889.9 C466.8,888.8 468.1,887.7 469.4,886.6 C470.8,885.6 472.0,884.5 473.3,883.5 C474.6,882.4 475.9,881.4 477.2,880.4 C478.4,879.4 479.7,878.4 481.0,877.4 C482.2,876.4 483.5,875.4 484.8,874.4 C486.1,873.5 487.4,872.5 488.7,871.5 C490.0,870.6 491.4,869.6 492.7,868.6 C494.0,867.7 495.4,866.7 496.7,865.8 C498.1,864.8 499.4,863.9 500.8,863.0 C502.2,862.0 503.5,861.1 504.9,860.2 C506.3,859.2 507.7,858.3 509.1,857.4 C510.5,856.4 511.9,855.5 513.2,854.6 C514.6,853.7 516.0,852.7 517.4,851.8 C518.8,850.9 520.2,850.0 521.6,849.1 C523.0,848.1 524.4,847.2 525.8,846.3 C527.2,845.4 528.6,844.5 530.0,843.6 C531.4,842.6 532.8,841.7 534.2,840.8 C535.6,839.9 536.9,839.0 538.3,838.1 C539.7,837.1 541.1,836.2 542.5,835.3 C543.9,834.4 545.3,833.5 546.7,832.6 C548.1,831.6 549.4,830.7 550.8,829.8 C552.2,828.9 553.6,828.0 555.0,827.1 C556.4,826.1 557.8,825.2 559.1,824.3 C560.5,823.4 561.9,822.5 563.3,821.6 C564.7,820.6 566.1,819.7 567.4,818.8 C568.8,817.9 570.2,817.0 571.6,816.1 C573.0,815.1 574.4,814.2 575.7,813.3 C577.1,812.4 578.5,811.5 579.9,810.6 C581.3,809.6 582.6,808.7 584.0,807.8 C585.4,806.9 586.8,805.9 588.2,805.0 C589.5,804.1 590.9,803.2 592.3,802.3 C593.7,801.3 595.0,800.4 596.4,799.5 C597.8,798.6 599.2,797.6 600.5,796.7 C601.9,795.8 603.3,794.9 604.7,793.9 C606.0,793.0 607.4,792.1 608.8,791.1 C610.2,790.2 611.5,789.3 612.9,788.3 C614.3,787.4 615.6,786.5 617.0,785.5 C618.4,784.6 619.8,783.7 621.1,782.7 C622.5,781.8 623.9,780.9 625.2,779.9 C626.6,779.0 628.0,778.0 629.4,777.1 C630.7,776.2 632.1,775.2 633.5,774.3 C634.8,773.3 636.2,772.4 637.6,771.4 C638.9,770.5 640.3,769.5 641.7,768.6 C643.0,767.6 644.4,766.7 645.8,765.7 C647.2,764.7 648.5,763.8 649.9,762.8 C651.3,761.9 652.6,760.9 654.0,759.9 C655.4,759.0 656.7,758.0 658.1,757.1 C659.4,756.1 660.8,755.1 662.2,754.1 C663.5,753.2 664.9,752.2 666.2,751.2 C667.6,750.2 668.9,749.2 670.3,748.2 C671.6,747.2 673.0,746.2 674.3,745.2 C675.6,744.2 676.9,743.2 678.3,742.2 C679.6,741.1 680.9,740.1 682.2,739.1 C683.5,738.0 684.8,737.0 686.0,735.9 C687.3,734.8 688.6,733.8 689.8,732.7 C691.1,731.6 692.4,730.5 693.6,729.4 C694.8,728.3 696.0,727.2 697.2,726.0 C698.4,724.9 699.6,723.8 700.8,722.6 C702.0,721.4 703.1,720.3 704.3,719.1 C705.4,717.9 706.5,716.7 707.6,715.4 C708.7,714.2 709.8,713.0 710.9,711.7 C712.0,710.5 713.0,709.2 714.1,707.9 C715.1,706.6 716.2,705.3 717.2,704.0 C718.2,702.7 719.2,701.4 720.2,700.1 C721.2,698.7 722.2,697.4 723.2,696.1 C724.1,694.7 725.1,693.4 726.1,692.0 C727.0,690.7 728.0,689.3 729.0,687.9 C729.9,686.6 730.9,685.2 731.8,683.8 C732.8,682.5 733.7,681.1 734.7,679.7 C735.6,678.4 736.6,677.0 737.5,675.6 C738.5,674.3 739.4,672.9 740.4,671.5 C741.3,670.1 742.2,668.8 743.2,667.4 C744.1,666.0 745.1,664.7 746.1,663.3 C747.0,661.9 748.0,660.6 748.9,659.2 C749.9,657.8 750.8,656.5 751.8,655.1 C752.8,653.8 753.7,652.4 754.7,651.1 C755.7,649.7 756.7,648.4 757.7,647.0 C758.6,645.7 759.6,644.3 760.6,643.0 C761.6,641.7 762.6,640.4 763.6,639.0 C764.7,637.7 765.7,636.4 766.7,635.1 C767.7,633.8 768.7,632.5 769.8,631.2 C770.8,629.9 771.9,628.6 772.9,627.3 C774.0,626.0 775.1,624.8 776.1,623.5 C777.2,622.2 778.3,621.0 779.4,619.7 C780.5,618.5 781.6,617.3 782.7,616.0 C783.8,614.8 785.0,613.6 786.1,612.4 C787.2,611.2 788.4,610.0 789.5,608.8 C790.7,607.6 791.8,606.4 793.0,605.2 C794.2,604.0 795.4,602.8 796.5,601.6 C797.7,600.5 798.9,599.3 800.1,598.1 C801.3,597.0 802.5,595.8 803.7,594.6 C804.8,593.5 806.0,592.3 807.3,591.2 C808.5,590.0 809.7,588.9 810.9,587.7 C812.1,586.6 813.3,585.4 814.5,584.3 C815.7,583.1 816.9,582.0 818.1,580.8 C819.3,579.7 820.6,578.5 821.8,577.4 C823.0,576.3 824.2,575.1 825.4,574.0 C826.6,572.8 827.8,571.7 829.0,570.6 C830.3,569.4 831.5,568.3 832.7,567.1 C833.9,566.0 835.1,564.8 836.3,563.7 C837.5,562.6 838.7,561.4 839.9,560.3 C841.1,559.1 842.3,558.0 843.5,556.8 C844.7,555.7 845.9,554.5 847.1,553.4 C848.3,552.2 849.5,551.1 850.7,549.9 C851.9,548.7 853.1,547.6 854.3,546.4 C855.5,545.2 856.7,544.1 857.8,542.9 C859.0,541.7 860.2,540.6 861.4,539.4 C862.5,538.2 863.7,537.0 864.9,535.9 C866.0,534.7 867.2,533.5 868.3,532.3 C869.5,531.1 870.6,529.9 871.8,528.7 C872.9,527.5 874.1,526.3 875.2,525.1 C876.3,523.9 877.5,522.7 878.6,521.5 C879.7,520.2 880.8,519.0 882.0,517.8 C883.1,516.5 884.2,515.3 885.3,514.1 C886.4,512.8 887.5,511.6 888.5,510.3 C889.6,509.1 890.7,507.8 891.8,506.5 C892.8,505.3 893.9,504.0 895.0,502.7 C896.0,501.4 897.1,500.1 898.1,498.8 C899.1,497.5 900.2,496.2 901.2,494.9 C902.2,493.6 903.2,492.3 904.2,491.0 C905.3,489.6 906.3,488.3 907.2,486.9 C908.2,485.6 909.2,484.3 910.2,482.9 C911.2,481.5 912.1,480.2 913.1,478.8 C914.1,477.5 915.1,476.1 916.0,474.8 C917.0,473.4 918.0,472.0 919.0,470.7 C919.9,469.4 920.9,468.0 921.9,466.7 C922.9,465.4 923.9,464.1 925.0,462.8 C926.0,461.5 927.0,460.2 928.1,458.9 C929.1,457.6 930.2,456.4 931.3,455.2 C932.4,453.9 933.5,452.7 934.6,451.5 C935.7,450.4 936.9,449.2 938.1,448.1 C939.3,446.9 940.5,445.8 941.7,444.8 C942.9,443.7 944.2,442.7 945.5,441.7 C946.8,440.7 948.2,439.7 949.5,438.8 C950.9,437.9 952.3,437.0 953.8,436.1 C955.2,435.3 956.7,434.5 958.2,433.6 C959.7,432.8 961.2,432.0 962.7,431.1 C964.2,430.3 965.7,429.5 967.3,428.6 C968.8,427.7 970.3,426.7 971.8,425.7 C973.3,424.8 974.7,423.7 976.1,422.6 C977.5,421.6 978.9,420.4 980.2,419.3 C981.4,418.1 982.6,416.9 983.7,415.6 C984.8,414.4 985.7,413.0 986.6,411.7 C987.4,410.3 988.1,408.9 988.7,407.5 C989.2,406.1 989.6,404.6 990.0,403.1 C990.3,401.6 990.5,400.0 990.6,398.5 C990.7,396.9 990.7,395.3 990.7,393.7 C990.6,392.1 990.5,390.4 990.3,388.8 C990.1,387.1 989.8,385.5 989.6,383.8 C989.3,382.1 988.9,380.4 988.6,378.7 C988.3,377.0 987.9,375.3 987.5,373.6 C987.2,371.9 986.8,370.2 986.4,368.6 C986.1,366.9 985.8,365.2 985.5,363.5 C985.2,361.8 984.9,360.1 984.7,358.4 C984.6,356.8 984.4,355.1 984.4,353.5 C984.3,351.8 984.3,350.2 984.4,348.6 C984.5,347.0 984.6,345.4 984.9,343.8 C985.1,342.2 985.3,340.6 985.7,339.0 C986.0,337.4 986.4,335.9 986.8,334.3 C987.2,332.8 987.7,331.2 988.2,329.7 C988.7,328.1 989.3,326.6 989.9,325.1 C990.5,323.5 991.1,322.0 991.8,320.5 C992.4,319.0 993.1,317.5 993.8,315.9 C994.5,314.4 995.3,312.9 996.0,311.4 C996.7,309.9 997.5,308.4 998.3,306.9 C999.1,305.4 999.8,303.9 1000.6,302.3 C1001.4,300.8 1002.2,299.3 1003.0,297.8 C1003.8,296.3 1004.6,294.8 1005.3,293.3 C1006.1,291.7 1006.9,290.2 1007.6,288.7 C1008.4,287.1 1009.1,285.6 1009.8,284.1 C1010.5,282.5 1011.2,281.0 1011.9,279.4 C1012.6,277.8 1013.2,276.3 1013.8,274.7 C1014.3,273.1 1014.9,271.5 1015.3,270.0 C1015.7,268.4 1016.1,266.8 1016.4,265.2 C1016.6,263.7 1016.8,262.1 1016.8,260.5 C1016.8,259.0 1016.8,257.4 1016.5,255.9 C1016.2,254.3 1015.8,252.8 1015.2,251.3 C1014.7,249.8 1013.9,248.3 1013.1,246.9 C1012.2,245.5 1011.2,244.1 1010.1,242.8 C1009.0,241.5 1007.8,240.2 1006.5,239.1 C1005.2,237.9 1003.8,236.9 1002.4,235.9 C1000.9,234.9 999.4,234.1 997.8,233.3 C996.3,232.6 994.6,231.9 993.0,231.4 C991.4,230.9 989.7,230.5 988.1,230.2 C986.5,230.0 984.8,229.9 983.2,229.9 C981.6,229.9 980.0,230.1 978.4,230.4 C976.8,230.6 975.3,231.0 973.7,231.5 C972.2,232.0 970.6,232.6 969.1,233.3 C967.6,233.9 966.1,234.6 964.6,235.4 C963.1,236.2 961.6,237.0 960.1,237.8 C958.7,238.7 957.2,239.5 955.8,240.4 C954.3,241.3 952.9,242.1 951.5,243.0 C950.1,243.9 948.7,244.8 947.2,245.6 C945.8,246.5 944.4,247.4 943.0,248.2 C941.6,249.1 940.2,250.0 938.8,250.9 C937.4,251.7 936.0,252.6 934.6,253.5 C933.2,254.4 931.8,255.3 930.3,256.1 C928.9,257.0 927.5,257.9 926.0,258.8 C924.6,259.6 923.1,260.5 921.7,261.3 C920.2,262.1 918.7,262.9 917.2,263.7 C915.8,264.5 914.3,265.2 912.7,266.0 C911.2,266.7 909.7,267.4 908.2,268.0 C906.6,268.7 905.1,269.3 903.5,269.8 C902.0,270.4 900.4,270.9 898.8,271.3 C897.2,271.8 895.6,272.2 893.9,272.5 C892.3,272.9 890.7,273.2 889.0,273.4 C887.4,273.7 885.7,273.9 884.1,274.0 C882.4,274.2 880.7,274.3 879.1,274.3 C877.4,274.3 875.8,274.3 874.1,274.3 C872.4,274.2 870.8,274.1 869.1,273.9 C867.5,273.8 865.8,273.6 864.2,273.3 C862.6,273.0 860.9,272.7 859.3,272.3 C857.7,272.0 856.1,271.6 854.6,271.1 C853.0,270.6 851.4,270.1 849.9,269.6 C848.3,269.0 846.8,268.4 845.3,267.8 C843.7,267.2 842.2,266.6 840.7,265.9 C839.2,265.2 837.7,264.5 836.2,263.8 C834.7,263.0 833.2,262.3 831.7,261.5 C830.2,260.7 828.8,260.0 827.3,259.2 C825.8,258.4 824.3,257.6 822.9,256.7 C821.4,255.9 819.9,255.1 818.5,254.3 C817.0,253.5 815.5,252.7 814.0,251.9 C812.6,251.1 811.1,250.3 809.6,249.5 C808.1,248.7 806.6,247.9 805.1,247.1 C803.7,246.4 802.2,245.6 800.7,244.9 C799.2,244.1 797.7,243.4 796.2,242.7 C794.7,242.0 793.1,241.3 791.6,240.6 C790.1,239.8 788.6,239.2 787.1,238.5 C785.6,237.8 784.1,237.1 782.5,236.4 C781.0,235.8 779.5,235.1 778.0,234.4 C776.4,233.8 774.9,233.1 773.4,232.5 C771.8,231.8 770.3,231.2 768.8,230.6 C767.2,229.9 765.7,229.3 764.2,228.7 C762.6,228.0 761.1,227.4 759.6,226.8 C758.0,226.1 756.5,225.5 755.0,224.9 C753.4,224.3 751.9,223.7 750.3,223.1 C748.8,222.4 747.3,221.8 745.7,221.2 C744.2,220.6 742.6,220.0 741.1,219.3 C739.6,218.7 738.0,218.1 736.5,217.5 C735.0,216.9 733.4,216.2 731.9,215.6 C730.3,215.0 728.8,214.4 727.3,213.7 C725.7,213.1 724.2,212.5 722.7,211.8 C721.2,211.2 719.6,210.5 718.1,209.9 C716.6,209.2 715.1,208.6 713.5,207.9 C712.0,207.2 710.5,206.6 709.0,205.9 C707.5,205.2 705.9,204.6 704.4,203.9 C702.9,203.2 701.4,202.5 699.9,201.8 C698.4,201.2 696.8,200.5 695.3,199.8 C693.8,199.1 692.3,198.4 690.8,197.8 C689.2,197.1 687.7,196.4 686.2,195.7 C684.7,195.1 683.1,194.4 681.6,193.8 C680.1,193.1 678.5,192.4 677.0,191.8 C675.5,191.2 673.9,190.5 672.4,189.9 C670.8,189.3 669.3,188.6 667.7,188.0 C666.1,187.4 664.6,186.8 663.0,186.3 C661.4,185.7 659.9,185.1 658.3,184.6 C656.7,184.0 655.1,183.5 653.5,183.0 C651.9,182.5 650.3,182.0 648.7,181.6 C647.2,181.1 645.5,180.7 643.9,180.4 C642.3,180.0 640.7,179.6 639.1,179.3 C637.5,179.0 635.9,178.8 634.3,178.6 C632.6,178.4 631.0,178.2 629.4,178.1 C627.8,178.0 626.1,177.9 624.5,177.9 C622.9,177.9 621.2,177.9 619.6,178.0 C618.0,178.2 616.3,178.3 614.7,178.6 C613.0,178.8 611.4,179.1 609.8,179.5 C608.1,179.9 606.5,180.3 604.9,180.8 C603.2,181.3 601.6,181.9 600.0,182.5 C598.5,183.2 596.9,183.9 595.3,184.6 C593.8,185.4 592.3,186.2 590.8,187.1 C589.4,188.0 587.9,188.9 586.6,189.9 C585.2,190.9 583.9,192.0 582.6,193.1 C581.3,194.2 580.1,195.4 579.0,196.6 C577.8,197.9 576.7,199.1 575.7,200.5 C574.7,201.8 573.8,203.2 572.9,204.6 C572.1,206.0 571.3,207.5 570.6,208.9 C570.0,210.4 569.4,212.0 568.9,213.5 C568.4,215.1 568.0,216.6 567.7,218.2 C567.4,219.8 567.2,221.5 567.1,223.1 C567.1,224.7 567.1,226.4 567.2,228.0 C567.4,229.7 567.6,231.4 567.8,233.0 C568.1,234.7 568.5,236.4 568.8,238.0 C569.2,239.7 569.6,241.3 570.0,243.0 C570.4,244.6 570.8,246.3 571.2,247.9 C571.7,249.5 572.1,251.1 572.6,252.7 C573.1,254.3 573.5,255.9 574.0,257.5 C574.5,259.1 575.0,260.7 575.6,262.3 C576.1,263.9 576.6,265.4 577.2,267.0 C577.7,268.6 578.3,270.1 578.8,271.7 C579.4,273.3 580.0,274.8 580.5,276.4 C581.1,277.9 581.7,279.5 582.3,281.0 C582.9,282.6 583.5,284.1 584.1,285.7 C584.7,287.2 585.3,288.8 585.9,290.3 C586.5,291.9 587.1,293.4 587.7,294.9 C588.3,296.5 588.9,298.0 589.5,299.6 C590.1,301.1 590.7,302.7 591.3,304.2 C591.9,305.8 592.5,307.3 593.1,308.9 C593.6,310.4 594.2,312.0 594.8,313.6 C595.4,315.1 596.0,316.7 596.5,318.3 C597.1,319.8 597.7,321.4 598.2,323.0 C598.8,324.5 599.3,326.1 599.8,327.7 C600.4,329.3 600.9,330.8 601.4,332.4 C601.9,334.0 602.4,335.6 602.9,337.2 C603.4,338.8 603.9,340.4 604.4,342.0 C604.9,343.6 605.3,345.2 605.8,346.8 C606.2,348.4 606.6,350.0 607.1,351.6 C607.5,353.2 607.9,354.8 608.3,356.4 C608.6,358.0 609.0,359.7 609.4,361.3 C609.7,362.9 610.0,364.5 610.4,366.2 C610.7,367.8 611.0,369.4 611.3,371.1 C611.5,372.7 611.8,374.3 612.0,376.0 C612.3,377.6 612.5,379.3 612.7,380.9 C612.9,382.6 613.0,384.2 613.2,385.9 C613.3,387.6 613.5,389.2 613.6,390.9 C613.7,392.6 613.9,394.2 613.8,395.9 C613.7,397.6 613.3,399.2 613.0,400.8 C612.7,402.5 612.3,404.1 611.9,405.7 C611.6,407.3 611.2,408.9 610.7,410.5 C610.3,412.1 609.8,413.7 609.3,415.3 C608.8,416.9 608.3,418.4 607.8,420.0 C607.2,421.5 606.7,423.1 606.1,424.6 C605.5,426.2 604.8,427.7 604.2,429.2 C603.5,430.7 602.9,432.2 602.2,433.7 C601.5,435.2 600.8,436.7 600.0,438.2 C599.3,439.7 598.5,441.1 597.7,442.6 C596.9,444.1 596.1,445.5 595.3,446.9 C594.5,448.4 593.7,449.8 592.8,451.2 C591.9,452.7 591.1,454.1 590.2,455.5 C589.3,456.9 588.4,458.3 587.4,459.6 C586.5,461.0 585.6,462.4 584.6,463.8 C583.7,465.1 582.7,466.5 581.7,467.8 C580.8,469.2 579.8,470.5 578.8,471.9 C577.8,473.2 576.8,474.5 575.7,475.8 C574.7,477.1 573.7,478.4 572.6,479.7 C571.6,481.0 570.5,482.3 569.5,483.6 C568.4,484.9 567.4,486.2 566.3,487.4 C565.2,488.7 564.1,489.9 563.0,491.2 C562.0,492.4 560.9,493.6 559.7,494.8 C558.6,496.1 557.5,497.2 556.4,498.4 C555.2,499.6 554.1,500.8 552.9,501.9 C551.7,503.1 550.6,504.2 549.4,505.3 C548.2,506.5 547.0,507.6 545.7,508.7 C544.5,509.7 543.3,510.8 542.0,511.8 C540.7,512.9 539.5,513.9 538.2,514.9 C536.9,515.9 535.5,516.9 534.2,517.8 C532.9,518.8 531.5,519.7 530.1,520.6 C528.7,521.5 527.3,522.4 525.9,523.3 C524.5,524.1 523.1,524.9 521.6,525.8 C520.1,526.6 518.7,527.4 517.2,528.2 C515.7,528.9 514.2,529.7 512.7,530.5 C511.2,531.2 509.7,532.0 508.2,532.7 C506.7,533.5 505.2,534.2 503.7,534.9 C502.2,535.7 500.7,536.4 499.2,537.2 C497.7,537.9 496.2,538.6 494.7,539.3 C493.2,540.1 491.7,540.8 490.2,541.5 C488.7,542.2 487.3,542.9 485.8,543.6 C484.3,544.3 482.8,545.0 481.3,545.7 C479.8,546.4 478.3,547.1 476.8,547.7 C475.2,548.4 473.7,549.0 472.2,549.7 C470.7,550.3 469.2,550.9 467.7,551.5 C466.1,552.1 464.6,552.7 463.1,553.3 C461.5,553.8 460.0,554.4 458.4,554.9 C456.8,555.4 455.3,555.9 453.7,556.4 C452.1,556.9 450.5,557.4 448.9,557.8 C447.4,558.3 445.8,558.7 444.1,559.1 C442.5,559.5 440.9,559.9 439.3,560.2 C437.7,560.6 436.0,560.9 434.4,561.3 C432.8,561.6 431.1,561.9 429.5,562.2 C427.8,562.5 426.2,562.7 424.5,563.0 C422.9,563.2 421.2,563.5 419.5,563.7 C417.9,563.9 416.2,564.1 414.6,564.3 C412.9,564.5 411.2,564.6 409.6,564.8 C407.9,564.9 406.2,565.1 404.6,565.2 C402.9,565.3 401.2,565.4 399.6,565.5 C397.9,565.6 396.2,565.7 394.6,565.7 C392.9,565.8 391.3,565.8 389.6,565.9 C388.0,565.9 386.3,565.9 384.7,565.9 C383.0,566.0 381.4,566.0 379.7,566.0 C378.1,566.0 376.5,566.0 374.8,566.0 C373.2,566.0 371.6,565.9 369.9,565.9 C368.3,566.0 366.7,566.0 365.0,566.0 C363.4,566.0 361.8,566.0 360.1,566.0 C358.5,566.1 356.9,566.1 355.2,566.2 C353.6,566.2 352.0,566.3 350.4,566.4 C348.7,566.5 347.1,566.6 345.5,566.7 C343.8,566.9 342.2,567.0 340.6,567.2 C338.9,567.4 337.3,567.6 335.7,567.9 C334.0,568.2 332.4,568.4 330.7,568.8 C329.1,569.1 327.5,569.4 325.8,569.8 C324.2,570.2 322.5,570.6 320.9,571.1 C319.3,571.5 317.6,572.0 316.0,572.6 C314.4,573.1 312.8,573.7 311.2,574.3 C309.6,574.9 308.0,575.5 306.4,576.1 C304.8,576.8 303.2,577.5 301.7,578.2 C300.2,579.0 298.6,579.7 297.1,580.5 C295.6,581.3 294.1,582.2 292.7,583.0 C291.2,583.9 289.8,584.8 288.4,585.7 C287.0,586.7 285.6,587.6 284.2,588.6 C282.9,589.6 281.6,590.6 280.3,591.7 C279.0,592.7 277.7,593.8 276.5,594.9 C275.3,596.1 274.1,597.2 273.0,598.4 C271.9,599.6 270.8,600.8 269.8,602.0 C268.7,603.3 267.7,604.5 266.8,605.8 C265.8,607.2 264.9,608.5 264.1,609.8 C263.2,611.2 262.4,612.6 261.7,614.0 C260.9,615.4 260.2,616.9 259.6,618.4 C258.9,619.8 258.4,621.3 257.8,622.9 C257.3,624.4 256.9,625.9 256.4,627.5 C256.0,629.1 255.7,630.7 255.4,632.3 C255.0,633.9 254.8,635.5 254.6,637.1 C254.4,638.7 254.2,640.4 254.1,642.0 C254.0,643.7 254.0,645.3 254.0,647.0 C254.0,648.7 254.1,650.3 254.2,652.0 C254.3,653.7 254.4,655.3 254.6,657.0 C254.8,658.7 255.1,660.3 255.4,662.0 C255.7,663.6 256.1,665.3 256.5,666.9 C256.9,668.5 257.3,670.2 257.8,671.8 C258.3,673.4 258.9,675.0 259.4,676.6 C260.0,678.1 260.7,679.7 261.4,681.2 C262.0,682.8 262.8,684.3 263.5,685.8 C264.3,687.3 265.1,688.7 266.0,690.2 C266.9,691.6 267.8,693.0 268.7,694.4 C269.7,695.8 270.7,697.1 271.7,698.4 C272.8,699.7 273.8,701.0 275.0,702.2 C276.1,703.5 277.2,704.7 278.4,705.8 C279.6,707.0 280.8,708.1 282.1,709.2 C283.4,710.3 284.7,711.4 286.0,712.4 C287.3,713.4 288.6,714.4 290.0,715.4 C291.4,716.4 292.7,717.3 294.2,718.2 C295.6,719.1 297.0,720.0 298.4,720.8 C299.9,721.7 301.3,722.5 302.8,723.3 C304.3,724.0 305.8,724.8 307.2,725.5 C308.7,726.2 310.2,726.9 311.7,727.6 C313.2,728.3 314.8,728.9 316.3,729.6 C317.8,730.2 319.3,730.8 320.8,731.4 C322.4,732.0 323.9,732.6 325.4,733.1 C327.0,733.7 328.5,734.3 330.1,734.8 C331.6,735.3 333.2,735.9 334.7,736.4 C336.3,737.0 337.8,737.5 339.4,738.0 C340.9,738.6 342.5,739.1 344.0,739.6 C345.6,740.2 347.1,740.7 348.7,741.2 C350.2,741.8 351.8,742.3 353.4,742.9 C354.9,743.5 356.4,744.1 358.0,744.7 C359.5,745.3 361.1,745.9 362.6,746.5 C364.2,747.1 365.7,747.8 367.2,748.4 C368.8,749.1 370.3,749.7 371.8,750.4 C373.3,751.1 374.8,751.8 376.4,752.5 C377.9,753.2 379.4,753.9 380.9,754.6 C382.4,755.4 383.9,756.1 385.4,756.9 C386.8,757.6 388.3,758.4 389.8,759.2 C391.3,760.0 392.7,760.8 394.2,761.6 C395.6,762.4 397.1,763.3 398.5,764.1 C400.0,765.0 401.4,765.8 402.8,766.7 C404.2,767.6 405.6,768.5 407.0,769.4 C408.4,770.3 409.8,771.2 411.2,772.2 C412.6,773.1 413.9,774.0 415.3,775.0 C416.6,776.0 418.0,777.0 419.3,777.9 C420.6,778.9 421.9,780.0 423.2,781.0 C424.5,782.0 425.8,783.0 427.1,784.1 C428.4,785.2 429.6,786.2 430.9,787.3 C432.1,788.4 433.4,789.5 434.6,790.6 C435.8,791.7 437.0,792.9 438.2,794.0 C439.4,795.2 440.5,796.3 441.7,797.5 C442.8,798.7 444.0,799.9 445.1,801.1 C446.2,802.3 447.3,803.5 448.4,804.8 C449.5,806.0 450.5,807.3 451.6,808.5 C452.6,809.8 453.6,811.1 454.6,812.4 C455.6,813.7 456.6,815.0 457.6,816.4 C458.5,817.7 459.5,819.1 460.4,820.4 C461.3,821.8 462.2,823.2 463.1,824.6 C464.0,826.0 464.8,827.4 465.7,828.8 C466.5,830.3 467.3,831.7 468.1,833.2 C468.9,834.7 469.7,836.1 470.4,837.6 C471.2,839.1 471.9,840.6 472.6,842.2 C473.3,843.7 474.0,845.2 474.6,846.7 C475.3,848.3 475.9,849.8 476.6,851.3 C477.2,852.9 477.8,854.4 478.4,856.0 C478.9,857.5 479.5,859.1 480.0,860.6 C480.6,862.2 481.1,863.7 481.6,865.3 C482.1,866.8 482.6,868.4 483.1,869.9 C483.6,871.5 484.3,873.7 484.5,874.5" fill="none" stroke="#377eb8" stroke-width="5.2" stroke-linejoin="round" stroke-linecap="butt"/>
<path d="M515.6,897.3 C515.9,898.1 516.7,900.4 517.1,902.0 C517.6,903.6 517.9,905.2 518.2,906.8 C518.6,908.4 518.8,910.0 519.0,911.7 C519.3,913.3 519.4,914.9 519.6,916.6 C519.8,918.2 519.9,919.9 520.0,921.6 C520.1,923.3 520.2,925.0 520.3,926.7 C520.4,928.4 520.5,930.1 520.6,931.9 C520.8,933.6 520.9,935.4 521.1,937.2 C521.3,938.9 521.5,940.7 521.8,942.4 C522.1,944.2 522.4,945.9 522.9,947.5 C523.3,949.2 523.9,950.8 524.5,952.3 C525.2,953.8 526.0,955.3 526.9,956.6 C527.8,957.9 528.8,959.2 530.0,960.2 C531.1,961.3 532.3,962.3 533.7,963.1 C535.0,963.8 536.5,964.5 538.0,964.9 C539.4,965.4 541.0,965.7 542.6,965.9 C544.2,966.1 545.8,966.1 547.4,966.0 C549.0,965.8 550.6,965.6 552.2,965.1 C553.7,964.7 555.3,964.1 556.7,963.5 C558.2,962.8 559.6,961.9 561.0,961.0 C562.3,960.1 563.7,959.0 565.0,957.9 C566.3,956.9 567.5,955.7 568.8,954.5 C570.0,953.3 571.2,952.0 572.5,950.8 C573.7,949.5 574.9,948.3 576.2,947.0 C577.4,945.8 578.6,944.6 579.8,943.4 C581.1,942.2 582.3,941.0 583.5,939.8 C584.8,938.6 586.0,937.4 587.3,936.3 C588.5,935.1 589.7,934.0 591.0,932.8 C592.2,931.7 593.5,930.6 594.8,929.5 C596.0,928.4 597.3,927.3 598.5,926.2 C599.8,925.1 601.1,924.0 602.4,923.0 C603.6,921.9 604.9,920.9 606.2,919.8 C607.5,918.8 608.8,917.8 610.1,916.7 C611.4,915.7 612.7,914.7 614.0,913.7 C615.3,912.7 616.6,911.7 617.9,910.7 C619.2,909.7 620.5,908.8 621.9,907.8 C623.2,906.8 624.5,905.9 625.9,904.9 C627.2,904.0 628.6,903.0 629.9,902.1 C631.3,901.1 632.6,900.2 634.0,899.3 C635.4,898.4 636.7,897.5 638.1,896.5 C639.5,895.6 640.9,894.7 642.3,893.8 C643.7,892.9 645.1,892.0 646.5,891.1 C647.9,890.3 649.3,889.4 650.7,888.5 C652.2,887.6 653.6,886.7 655.0,885.8 C656.4,885.0 657.9,884.1 659.3,883.2 C660.7,882.3 662.2,881.5 663.6,880.6 C665.0,879.7 666.5,878.8 667.9,877.9 C669.3,877.0 670.8,876.2 672.2,875.3 C673.6,874.4 675.1,873.5 676.5,872.6 C677.9,871.7 679.3,870.7 680.7,869.8 C682.1,868.9 683.5,868.0 684.9,867.0 C686.3,866.1 687.7,865.2 689.0,864.2 C690.4,863.2 691.8,862.3 693.1,861.3 C694.5,860.3 695.8,859.3 697.1,858.3 C698.4,857.3 699.7,856.3 701.0,855.2 C702.3,854.2 703.6,853.1 704.9,852.1 C706.2,851.0 707.4,849.9 708.7,848.9 C710.0,847.8 711.2,846.7 712.5,845.7 C713.8,844.6 715.0,843.5 716.3,842.5 C717.6,841.5 718.9,840.4 720.2,839.4 C721.5,838.4 722.9,837.4 724.2,836.4 C725.5,835.5 726.9,834.5 728.3,833.5 C729.6,832.6 731.0,831.7 732.4,830.7 C733.8,829.8 735.2,828.9 736.6,827.9 C738.0,827.0 739.4,826.1 740.8,825.2 C742.2,824.3 743.6,823.4 745.0,822.5 C746.4,821.6 747.8,820.7 749.2,819.7 C750.6,818.8 752.0,817.9 753.4,817.0 C754.8,816.0 756.2,815.1 757.6,814.2 C759.0,813.2 760.3,812.3 761.7,811.3 C763.0,810.3 764.4,809.4 765.7,808.4 C767.1,807.4 768.4,806.4 769.7,805.3 C771.0,804.3 772.3,803.3 773.6,802.2 C774.9,801.2 776.2,800.1 777.4,799.1 C778.7,798.0 780.0,796.9 781.2,795.8 C782.5,794.7 783.7,793.6 785.0,792.5 C786.2,791.4 787.4,790.3 788.6,789.2 C789.8,788.0 791.1,786.9 792.3,785.7 C793.5,784.6 794.6,783.4 795.8,782.3 C797.0,781.1 798.2,779.9 799.4,778.8 C800.5,777.6 801.7,776.4 802.9,775.2 C804.0,774.0 805.2,772.8 806.3,771.6 C807.5,770.4 808.6,769.2 809.8,768.0 C810.9,766.8 812.0,765.5 813.2,764.3 C814.3,763.1 815.4,761.9 816.5,760.6 C817.7,759.4 818.8,758.2 819.9,756.9 C821.0,755.7 822.1,754.4 823.2,753.2 C824.4,752.0 825.5,750.7 826.6,749.5 C827.7,748.2 828.8,747.0 829.9,745.8 C831.0,744.5 832.2,743.3 833.3,742.0 C834.4,740.8 835.5,739.6 836.6,738.3 C837.7,737.1 838.9,735.8 840.0,734.6 C841.1,733.4 842.2,732.2 843.4,730.9 C844.5,729.7 845.6,728.5 846.8,727.3 C847.9,726.1 849.1,724.8 850.2,723.6 C851.4,722.4 852.5,721.2 853.7,720.0 C854.8,718.9 856.0,717.7 857.2,716.5 C858.3,715.3 859.5,714.1 860.7,713.0 C861.9,711.8 863.1,710.7 864.3,709.5 C865.5,708.4 866.7,707.2 867.9,706.1 C869.2,705.0 870.4,703.8 871.6,702.7 C872.9,701.6 874.1,700.5 875.4,699.4 C876.6,698.3 877.9,697.2 879.1,696.1 C880.4,695.1 881.7,694.0 882.9,692.9 C884.2,691.8 885.5,690.8 886.8,689.7 C888.1,688.6 889.4,687.6 890.7,686.5 C891.9,685.5 893.2,684.4 894.5,683.4 C895.8,682.3 897.1,681.3 898.5,680.2 C899.8,679.2 901.1,678.2 902.4,677.1 C903.7,676.1 905.0,675.1 906.3,674.0 C907.6,673.0 908.9,672.0 910.3,670.9 C911.6,669.9 912.9,668.9 914.2,667.9 C915.5,666.8 916.9,665.8 918.2,664.8 C919.5,663.8 920.8,662.7 922.1,661.7 C923.4,660.7 924.8,659.6 926.1,658.6 C927.4,657.6 928.7,656.5 930.0,655.5 C931.3,654.5 932.6,653.4 933.9,652.4 C935.2,651.4 936.5,650.3 937.8,649.3 C939.1,648.2 940.4,647.2 941.7,646.1 C943.0,645.0 944.3,644.0 945.5,642.9 C946.8,641.9 948.1,640.8 949.4,639.7 C950.6,638.6 951.9,637.6 953.2,636.5 C954.4,635.4 955.7,634.3 956.9,633.2 C958.2,632.1 959.5,631.0 960.7,629.9 C962.0,628.8 963.2,627.7 964.4,626.6 C965.7,625.5 966.9,624.4 968.1,623.3 C969.4,622.2 970.6,621.1 971.8,619.9 C973.1,618.8 974.3,617.7 975.5,616.6 C976.7,615.4 978.0,614.3 979.2,613.2 C980.4,612.0 981.6,610.9 982.8,609.8 C984.0,608.6 985.2,607.5 986.4,606.3 C987.6,605.2 988.8,604.0 990.1,602.9 C991.3,601.7 992.5,600.6 993.7,599.4 C994.8,598.3 996.0,597.1 997.2,595.9 C998.4,594.8 999.6,593.6 1000.8,592.4 C1002.0,591.3 1003.2,590.1 1004.4,588.9 C1005.6,587.8 1006.8,586.6 1008.0,585.4 C1009.1,584.2 1010.3,583.1 1011.5,581.9 C1012.7,580.7 1013.9,579.6 1015.1,578.4 C1016.3,577.2 1017.5,576.1 1018.7,574.9 C1019.9,573.8 1021.1,572.6 1022.3,571.5 C1023.5,570.3 1024.8,569.2 1026.0,568.1 C1027.2,567.0 1028.5,565.9 1029.7,564.8 C1031.0,563.7 1032.2,562.6 1033.5,561.6 C1034.8,560.5 1036.1,559.5 1037.3,558.4 C1038.6,557.4 1040.0,556.4 1041.3,555.4 C1042.6,554.4 1043.9,553.5 1045.3,552.5 C1046.7,551.6 1048.0,550.7 1049.4,549.8 C1050.8,548.9 1052.2,548.0 1053.6,547.2 C1055.1,546.3 1056.5,545.5 1058.0,544.7 C1059.4,543.9 1060.9,543.2 1062.4,542.4 C1063.9,541.7 1065.5,541.0 1067.0,540.3 C1068.5,539.6 1070.1,538.9 1071.6,538.2 C1073.2,537.6 1074.8,536.9 1076.3,536.3 C1077.9,535.6 1079.5,534.9 1081.1,534.3 C1082.6,533.6 1084.2,533.0 1085.8,532.3 C1087.4,531.6 1088.9,530.9 1090.5,530.2 C1092.1,529.5 1093.6,528.8 1095.2,528.1 C1096.7,527.3 1098.3,526.6 1099.8,525.8 C1101.2,524.9 1102.7,524.1 1104.1,523.2 C1105.4,522.3 1106.7,521.3 1107.9,520.3 C1109.0,519.2 1110.1,518.1 1111.0,516.9 C1111.9,515.7 1112.6,514.3 1113.3,513.0 C1114.0,511.6 1114.5,510.2 1115.0,508.7 C1115.5,507.2 1115.8,505.6 1116.1,504.1 C1116.5,502.5 1116.7,500.8 1116.9,499.2 C1117.1,497.5 1117.2,495.8 1117.3,494.1 C1117.5,492.4 1117.5,490.7 1117.6,489.0 C1117.7,487.3 1117.7,485.6 1117.8,483.9 C1117.9,482.2 1117.9,480.5 1118.0,478.8 C1118.1,477.1 1118.2,475.4 1118.4,473.7 C1118.6,472.0 1118.8,470.3 1119.0,468.7 C1119.3,467.0 1119.6,465.4 1120.0,463.7 C1120.3,462.1 1120.8,460.5 1121.2,458.9 C1121.7,457.2 1122.2,455.7 1122.7,454.1 C1123.3,452.5 1123.9,450.9 1124.5,449.4 C1125.1,447.9 1125.8,446.3 1126.5,444.8 C1127.3,443.3 1128.0,441.8 1128.8,440.4 C1129.6,438.9 1130.4,437.5 1131.3,436.0 C1132.1,434.6 1133.0,433.2 1134.0,431.9 C1134.9,430.5 1135.8,429.1 1136.8,427.8 C1137.8,426.5 1138.8,425.2 1139.8,423.9 C1140.9,422.7 1141.9,421.4 1143.0,420.2 C1144.1,419.0 1145.2,417.8 1146.3,416.6 C1147.4,415.4 1148.5,414.2 1149.7,413.0 C1150.8,411.8 1151.9,410.6 1153.0,409.3 C1154.1,408.1 1155.3,406.9 1156.4,405.6 C1157.5,404.4 1158.6,403.1 1159.7,401.7 C1160.8,400.4 1161.8,399.0 1162.9,397.6 C1163.9,396.2 1164.9,394.7 1165.9,393.2 C1166.9,391.7 1167.8,390.2 1168.7,388.6 C1169.5,387.0 1170.3,385.4 1170.9,383.9 C1171.6,382.3 1172.2,380.6 1172.6,379.0 C1173.0,377.5 1173.3,375.8 1173.4,374.3 C1173.5,372.7 1173.5,371.2 1173.3,369.7 C1173.0,368.2 1172.6,366.7 1172.1,365.2 C1171.6,363.8 1170.9,362.4 1170.1,361.1 C1169.3,359.7 1168.3,358.4 1167.3,357.2 C1166.3,356.0 1165.1,354.8 1163.9,353.7 C1162.6,352.6 1161.3,351.5 1159.9,350.5 C1158.5,349.5 1157.0,348.6 1155.5,347.8 C1154.0,346.9 1152.4,346.2 1150.8,345.5 C1149.3,344.8 1147.6,344.3 1146.0,343.8 C1144.4,343.3 1142.7,342.9 1141.1,342.6 C1139.4,342.3 1137.8,342.1 1136.2,341.9 C1134.6,341.8 1132.9,341.8 1131.3,341.8 C1129.7,341.9 1128.1,342.0 1126.5,342.2 C1124.9,342.3 1123.2,342.6 1121.6,342.9 C1120.0,343.2 1118.4,343.6 1116.8,343.9 C1115.2,344.3 1113.6,344.8 1112.0,345.3 C1110.4,345.7 1108.8,346.3 1107.2,346.8 C1105.6,347.3 1104.0,347.9 1102.4,348.4 C1100.8,349.0 1099.1,349.6 1097.5,350.2 C1095.9,350.7 1094.3,351.3 1092.7,351.9 C1091.1,352.5 1089.4,353.1 1087.8,353.6 C1086.2,354.1 1084.5,354.7 1082.9,355.2 C1081.3,355.7 1079.6,356.2 1078.0,356.6 C1076.3,357.0 1074.7,357.4 1073.0,357.8 C1071.4,358.1 1069.7,358.5 1068.0,358.7 C1066.4,359.0 1064.7,359.3 1063.0,359.5 C1061.4,359.7 1059.7,359.8 1058.0,360.0 C1056.4,360.1 1054.7,360.1 1053.1,360.2 C1051.4,360.2 1049.8,360.2 1048.1,360.1 C1046.5,360.1 1044.8,360.0 1043.2,359.8 C1041.6,359.7 1039.9,359.5 1038.3,359.2 C1036.7,359.0 1035.1,358.7 1033.5,358.3 C1031.9,358.0 1030.4,357.6 1028.8,357.1 C1027.2,356.7 1025.7,356.2 1024.1,355.6 C1022.6,355.1 1021.1,354.5 1019.6,353.8 C1018.1,353.1 1016.6,352.4 1015.1,351.7 C1013.6,350.9 1012.2,350.1 1010.7,349.2 C1009.3,348.4 1007.9,347.5 1006.5,346.5 C1005.0,345.6 1003.6,344.7 1002.3,343.7 C1000.9,342.8 999.5,341.8 998.1,340.8 C996.7,339.8 995.4,338.8 994.0,337.9 C992.7,336.9 991.3,335.9 989.9,334.9 C988.6,333.9 987.3,332.9 985.9,331.9 C984.6,331.0 983.2,330.0 981.9,329.0 C980.5,328.0 979.2,327.0 977.9,326.0 C976.5,325.0 975.2,324.1 973.8,323.1 C972.5,322.1 971.1,321.1 969.8,320.2 C968.4,319.2 967.1,318.2 965.7,317.3 C964.4,316.3 963.0,315.4 961.7,314.4 C960.3,313.5 958.9,312.5 957.6,311.6 C956.2,310.6 954.8,309.7 953.5,308.7 C952.1,307.8 950.7,306.8 949.4,305.9 C948.0,305.0 946.6,304.0 945.2,303.1 C943.8,302.2 942.5,301.2 941.1,300.3 C939.7,299.4 938.3,298.5 936.9,297.5 C935.6,296.6 934.2,295.7 932.8,294.8 C931.4,293.9 930.0,293.0 928.6,292.1 C927.2,291.2 925.8,290.2 924.4,289.3 C923.0,288.4 921.6,287.5 920.2,286.6 C918.8,285.7 917.4,284.8 916.0,283.9 C914.6,283.0 913.2,282.1 911.8,281.3 C910.4,280.4 909.0,279.5 907.6,278.6 C906.2,277.7 904.8,276.8 903.3,275.9 C901.9,275.0 900.5,274.2 899.1,273.3 C897.7,272.4 896.3,271.5 894.8,270.6 C893.4,269.8 892.0,268.9 890.6,268.0 C889.2,267.1 887.7,266.3 886.3,265.4 C884.9,264.5 883.5,263.7 882.0,262.8 C880.6,261.9 879.2,261.1 877.7,260.2 C876.3,259.4 874.8,258.5 873.4,257.7 C872.0,256.9 870.5,256.0 869.1,255.2 C867.6,254.4 866.2,253.5 864.7,252.7 C863.3,251.9 861.8,251.1 860.4,250.3 C858.9,249.5 857.4,248.7 856.0,247.9 C854.5,247.1 853.0,246.3 851.5,245.5 C850.1,244.7 848.6,243.9 847.1,243.2 C845.6,242.4 844.1,241.7 842.7,240.9 C841.2,240.2 839.7,239.4 838.2,238.7 C836.7,238.0 835.2,237.3 833.7,236.6 C832.1,235.8 830.6,235.1 829.1,234.5 C827.6,233.8 826.1,233.1 824.5,232.5 C823.0,231.8 821.5,231.2 819.9,230.6 C818.4,230.1 816.8,229.5 815.3,229.0 C813.7,228.5 812.1,228.0 810.5,227.6 C809.0,227.2 807.4,226.9 805.8,226.6 C804.2,226.2 802.6,226.0 801.0,225.8 C799.3,225.6 797.7,225.5 796.1,225.5 C794.4,225.4 792.8,225.4 791.1,225.5 C789.4,225.6 787.7,225.8 786.1,226.1 C784.4,226.3 782.7,226.7 781.0,227.1 C779.3,227.5 777.6,227.9 776.0,228.4 C774.3,229.0 772.7,229.5 771.0,230.2 C769.4,230.8 767.8,231.5 766.2,232.2 C764.6,233.0 763.0,233.7 761.5,234.6 C760.0,235.4 758.5,236.3 757.1,237.2 C755.7,238.1 754.3,239.1 752.9,240.1 C751.6,241.1 750.3,242.2 749.1,243.3 C747.9,244.5 746.7,245.6 745.7,246.9 C744.6,248.1 743.6,249.3 742.7,250.7 C741.8,252.0 740.9,253.4 740.2,254.8 C739.4,256.2 738.8,257.7 738.3,259.2 C737.7,260.7 737.3,262.3 736.9,263.9 C736.6,265.5 736.3,267.2 736.1,268.8 C735.9,270.5 735.7,272.2 735.6,273.9 C735.5,275.6 735.4,277.3 735.3,279.0 C735.2,280.8 735.1,282.5 735.0,284.2 C734.9,285.9 734.8,287.5 734.7,289.2 C734.7,290.9 734.6,292.6 734.5,294.3 C734.4,295.9 734.3,297.6 734.2,299.3 C734.1,300.9 734.0,302.6 733.9,304.2 C733.8,305.9 733.7,307.6 733.6,309.2 C733.5,310.9 733.4,312.5 733.4,314.1 C733.3,315.8 733.2,317.4 733.1,319.1 C733.0,320.7 732.9,322.4 732.8,324.0 C732.7,325.6 732.6,327.3 732.6,328.9 C732.5,330.6 732.4,332.2 732.3,333.9 C732.2,335.5 732.1,337.2 732.0,338.8 C732.0,340.5 731.9,342.1 731.8,343.8 C731.7,345.4 731.7,347.1 731.6,348.7 C731.5,350.4 731.4,352.1 731.4,353.8 C731.3,355.4 731.2,357.1 731.2,358.8 C731.1,360.5 731.0,362.2 730.9,363.9 C730.9,365.5 730.8,367.2 730.7,368.9 C730.6,370.6 730.5,372.3 730.4,374.0 C730.3,375.7 730.2,377.4 730.1,379.1 C729.9,380.8 729.8,382.5 729.6,384.1 C729.5,385.8 729.3,387.5 729.1,389.2 C728.9,390.9 728.7,392.5 728.5,394.2 C728.2,395.9 728.0,397.5 727.7,399.2 C727.4,400.8 727.1,402.5 726.8,404.1 C726.4,405.7 726.1,407.3 725.7,409.0 C725.3,410.6 724.8,412.2 724.4,413.8 C723.9,415.3 723.4,416.9 722.9,418.5 C722.4,420.1 721.9,421.6 721.3,423.2 C720.7,424.7 720.1,426.2 719.5,427.8 C718.8,429.3 718.2,430.8 717.5,432.3 C716.8,433.8 716.1,435.3 715.4,436.8 C714.7,438.2 713.9,439.7 713.1,441.2 C712.3,442.6 711.5,444.1 710.7,445.5 C709.9,446.9 709.0,448.4 708.2,449.8 C707.3,451.2 706.4,452.6 705.5,454.0 C704.6,455.3 703.7,456.7 702.7,458.1 C701.8,459.5 700.8,460.8 699.8,462.1 C698.8,463.5 697.8,464.8 696.8,466.1 C695.8,467.4 694.7,468.7 693.7,470.0 C692.6,471.3 691.6,472.6 690.5,473.9 C689.4,475.1 688.3,476.4 687.2,477.6 C686.0,478.9 684.9,480.1 683.8,481.3 C682.6,482.5 681.5,483.7 680.3,484.9 C679.1,486.1 677.9,487.3 676.7,488.5 C675.5,489.6 674.3,490.8 673.1,491.9 C671.9,493.1 670.6,494.2 669.4,495.3 C668.1,496.4 666.9,497.5 665.6,498.6 C664.3,499.7 663.0,500.8 661.7,501.8 C660.4,502.9 659.1,503.9 657.8,505.0 C656.5,506.0 655.1,507.0 653.8,508.0 C652.4,509.0 651.1,510.0 649.7,511.0 C648.4,512.0 647.0,512.9 645.6,513.9 C644.2,514.8 642.8,515.7 641.4,516.7 C640.0,517.6 638.6,518.5 637.2,519.4 C635.8,520.3 634.4,521.1 632.9,522.0 C631.5,522.8 630.1,523.7 628.6,524.5 C627.2,525.3 625.7,526.2 624.2,527.0 C622.8,527.7 621.3,528.5 619.8,529.3 C618.4,530.1 616.9,530.8 615.4,531.6 C613.9,532.3 612.4,533.0 610.9,533.7 C609.4,534.4 607.9,535.1 606.4,535.8 C604.9,536.5 603.3,537.2 601.8,537.8 C600.3,538.5 598.8,539.1 597.2,539.7 C595.7,540.3 594.1,541.0 592.6,541.5 C591.0,542.1 589.5,542.7 587.9,543.3 C586.4,543.9 584.8,544.4 583.2,544.9 C581.7,545.5 580.1,546.0 578.5,546.5 C576.9,547.0 575.3,547.5 573.7,548.0 C572.2,548.5 570.6,549.0 569.0,549.4 C567.4,549.9 565.8,550.3 564.2,550.8 C562.6,551.2 560.9,551.6 559.3,552.0 C557.7,552.4 556.1,552.8 554.5,553.2 C552.9,553.6 551.2,554.0 549.6,554.3 C548.0,554.7 546.4,555.0 544.7,555.4 C543.1,555.7 541.5,556.0 539.8,556.3 C538.2,556.6 536.5,556.9 534.9,557.2 C533.2,557.4 531.6,557.7 530.0,558.0 C528.3,558.2 526.7,558.4 525.0,558.6 C523.3,558.9 521.7,559.1 520.0,559.3 C518.4,559.5 516.7,559.6 515.1,559.8 C513.4,559.9 511.7,560.1 510.1,560.2 C508.4,560.4 506.8,560.5 505.1,560.6 C503.4,560.7 501.8,560.8 500.1,560.8 C498.4,560.9 496.8,561.0 495.1,561.0 C493.4,561.0 491.8,561.1 490.1,561.1 C488.4,561.1 486.8,561.1 485.1,561.1 C483.4,561.0 481.8,561.0 480.1,560.9 C478.4,560.9 476.7,560.8 475.1,560.7 C473.4,560.6 471.8,560.5 470.1,560.4 C468.4,560.3 466.8,560.2 465.1,560.0 C463.4,559.9 461.8,559.7 460.1,559.5 C458.4,559.3 456.8,559.1 455.1,558.9 C453.5,558.7 451.8,558.4 450.2,558.2 C448.5,557.9 446.8,557.6 445.2,557.4 C443.5,557.1 441.9,556.8 440.2,556.5 C438.6,556.2 437.0,555.8 435.3,555.5 C433.7,555.2 432.0,554.9 430.4,554.6 C428.7,554.3 427.1,554.0 425.4,553.7 C423.8,553.4 422.2,553.1 420.5,552.8 C418.9,552.5 417.2,552.3 415.6,552.0 C413.9,551.8 412.3,551.6 410.6,551.4 C409.0,551.2 407.4,551.0 405.7,550.9 C404.1,550.8 402.4,550.7 400.8,550.6 C399.1,550.6 397.5,550.6 395.8,550.6 C394.2,550.6 392.5,550.7 390.9,550.8 C389.2,550.9 387.5,551.0 385.9,551.2 C384.2,551.4 382.6,551.6 380.9,551.9 C379.3,552.1 377.6,552.4 376.0,552.7 C374.4,553.0 372.7,553.3 371.1,553.6 C369.4,554.0 367.8,554.4 366.2,554.8 C364.6,555.2 363.0,555.6 361.3,556.0 C359.7,556.5 358.1,556.9 356.5,557.4 C354.9,557.9 353.3,558.5 351.8,559.0 C350.2,559.5 348.6,560.1 347.1,560.7 C345.5,561.3 343.9,561.9 342.4,562.6 C340.9,563.2 339.3,563.9 337.8,564.6 C336.3,565.3 334.8,566.1 333.3,566.8 C331.8,567.6 330.3,568.4 328.8,569.2 C327.4,570.0 325.9,570.8 324.5,571.7 C323.1,572.6 321.6,573.4 320.2,574.4 C318.8,575.3 317.4,576.3 316.1,577.2 C314.7,578.2 313.4,579.3 312.1,580.3 C310.8,581.4 309.5,582.5 308.3,583.6 C307.1,584.7 305.9,585.9 304.7,587.1 C303.6,588.3 302.4,589.5 301.4,590.8 C300.3,592.1 299.3,593.4 298.3,594.7 C297.4,596.1 296.4,597.5 295.6,598.9 C294.7,600.3 293.8,601.7 293.1,603.2 C292.3,604.6 291.6,606.1 290.9,607.7 C290.2,609.2 289.5,610.7 289.0,612.3 C288.4,613.8 287.8,615.4 287.4,617.0 C286.9,618.6 286.4,620.2 286.1,621.9 C285.7,623.5 285.4,625.1 285.1,626.8 C284.8,628.4 284.6,630.1 284.4,631.8 C284.2,633.4 284.1,635.1 284.1,636.8 C284.0,638.4 284.0,640.1 284.1,641.8 C284.1,643.5 284.2,645.2 284.4,646.8 C284.5,648.5 284.8,650.2 285.0,651.8 C285.3,653.5 285.6,655.1 286.0,656.8 C286.4,658.4 286.8,660.0 287.3,661.7 C287.8,663.3 288.4,664.9 288.9,666.4 C289.5,668.0 290.2,669.6 290.9,671.1 C291.6,672.6 292.3,674.1 293.1,675.6 C293.9,677.0 294.7,678.5 295.6,679.9 C296.5,681.3 297.4,682.7 298.3,684.0 C299.3,685.4 300.3,686.7 301.4,688.0 C302.4,689.3 303.5,690.5 304.6,691.8 C305.7,693.0 306.9,694.2 308.1,695.3 C309.3,696.5 310.5,697.6 311.7,698.7 C313.0,699.8 314.3,700.9 315.6,701.9 C316.9,703.0 318.2,704.0 319.5,704.9 C320.9,705.9 322.3,706.9 323.7,707.8 C325.1,708.7 326.5,709.6 327.9,710.4 C329.3,711.3 330.8,712.1 332.2,712.9 C333.7,713.7 335.2,714.5 336.7,715.2 C338.2,716.0 339.7,716.7 341.2,717.4 C342.7,718.2 344.2,718.9 345.7,719.6 C347.2,720.3 348.7,721.0 350.3,721.7 C351.8,722.4 353.3,723.1 354.9,723.8 C356.4,724.4 357.9,725.1 359.4,725.8 C361.0,726.5 362.5,727.2 364.0,727.9 C365.5,728.6 367.0,729.4 368.5,730.1 C370.0,730.8 371.5,731.6 373.0,732.4 C374.5,733.1 375.9,733.9 377.4,734.7 C378.8,735.5 380.3,736.4 381.7,737.2 C383.1,738.0 384.6,738.9 386.0,739.8 C387.4,740.7 388.8,741.6 390.2,742.5 C391.6,743.4 392.9,744.3 394.3,745.3 C395.7,746.2 397.0,747.2 398.4,748.1 C399.7,749.1 401.1,750.1 402.4,751.1 C403.8,752.1 405.1,753.1 406.4,754.1 C407.7,755.1 409.0,756.2 410.3,757.2 C411.6,758.3 412.9,759.4 414.2,760.4 C415.5,761.5 416.7,762.6 418.0,763.7 C419.2,764.8 420.5,765.9 421.7,767.1 C422.9,768.2 424.1,769.3 425.3,770.5 C426.6,771.7 427.7,772.8 428.9,774.0 C430.1,775.2 431.3,776.4 432.4,777.6 C433.6,778.8 434.7,780.0 435.9,781.3 C437.0,782.5 438.1,783.7 439.2,785.0 C440.3,786.2 441.4,787.5 442.4,788.8 C443.5,790.1 444.6,791.4 445.6,792.7 C446.7,794.0 447.7,795.3 448.7,796.6 C449.7,797.9 450.7,799.3 451.7,800.6 C452.7,802.0 453.6,803.3 454.6,804.7 C455.5,806.1 456.4,807.4 457.3,808.8 C458.3,810.2 459.1,811.6 460.0,813.0 C460.9,814.5 461.8,815.9 462.6,817.3 C463.4,818.8 464.3,820.2 465.1,821.7 C465.9,823.1 466.6,824.6 467.4,826.1 C468.2,827.5 468.9,829.0 469.7,830.5 C470.4,832.0 471.1,833.5 471.8,835.0 C472.5,836.6 473.1,838.1 473.8,839.6 C474.4,841.2 475.0,842.7 475.6,844.3 C476.3,845.8 476.8,847.4 477.4,848.9 C478.0,850.5 478.5,852.1 479.0,853.7 C479.5,855.3 480.3,857.7 480.5,858.5" fill="none" stroke="#4daf4a" stroke-width="5.2" stroke-linejoin="round" stroke-linecap="butt"/>
<path d="M481.2,884.9 C481.4,885.7 482.2,888.0 482.5,889.6 C482.8,891.2 483.0,892.9 483.2,894.5 C483.4,896.2 483.5,897.8 483.5,899.5 C483.5,901.2 483.5,902.8 483.5,904.5 C483.5,906.2 483.4,907.9 483.3,909.6 C483.3,911.3 483.2,913.1 483.1,914.8 C483.1,916.5 483.0,918.2 483.1,919.9 C483.1,921.6 483.1,923.4 483.2,925.1 C483.4,926.8 483.5,928.5 483.8,930.2 C484.1,931.8 484.4,933.5 484.9,935.2 C485.4,936.8 485.9,938.5 486.6,940.0 C487.3,941.5 488.1,943.0 489.0,944.4 C489.9,945.7 491.0,947.0 492.2,948.1 C493.3,949.1 494.6,950.1 496.0,950.9 C497.3,951.6 498.8,952.3 500.3,952.7 C501.7,953.1 503.2,953.4 504.8,953.4 C506.3,953.5 507.8,953.3 509.4,953.0 C510.9,952.8 512.5,952.3 514.0,951.8 C515.6,951.2 517.1,950.5 518.7,949.7 C520.2,948.9 521.8,948.0 523.3,947.1 C524.8,946.1 526.3,945.1 527.7,944.0 C529.2,942.9 530.6,941.8 532.0,940.7 C533.3,939.6 534.7,938.4 536.0,937.2 C537.3,936.1 538.6,934.9 539.8,933.7 C541.0,932.6 542.3,931.4 543.4,930.2 C544.6,929.0 545.8,927.8 547.0,926.7 C548.2,925.5 549.3,924.3 550.5,923.1 C551.6,921.9 552.7,920.8 553.9,919.6 C555.0,918.5 556.2,917.3 557.4,916.2 C558.5,915.1 559.7,914.0 560.9,912.9 C562.1,911.8 563.3,910.7 564.5,909.7 C565.8,908.6 567.0,907.6 568.3,906.6 C569.6,905.6 570.9,904.6 572.2,903.6 C573.5,902.6 574.8,901.7 576.1,900.7 C577.5,899.8 578.8,898.8 580.2,897.9 C581.6,897.0 582.9,896.1 584.3,895.2 C585.7,894.3 587.1,893.4 588.6,892.6 C590.0,891.7 591.4,890.8 592.8,890.0 C594.3,889.1 595.7,888.3 597.1,887.5 C598.6,886.6 600.1,885.8 601.5,885.0 C603.0,884.1 604.4,883.3 605.9,882.5 C607.4,881.7 608.9,880.9 610.3,880.1 C611.8,879.3 613.3,878.4 614.8,877.6 C616.2,876.8 617.7,876.0 619.2,875.2 C620.7,874.4 622.2,873.6 623.6,872.8 C625.1,871.9 626.6,871.1 628.0,870.3 C629.5,869.5 631.0,868.7 632.4,867.8 C633.9,867.0 635.3,866.1 636.8,865.3 C638.2,864.4 639.7,863.6 641.1,862.7 C642.5,861.8 643.9,860.9 645.4,860.1 C646.8,859.2 648.2,858.3 649.6,857.3 C650.9,856.4 652.3,855.5 653.7,854.6 C655.1,853.6 656.4,852.7 657.8,851.8 C659.2,850.8 660.5,849.9 661.9,848.9 C663.2,848.0 664.6,847.0 665.9,846.0 C667.3,845.1 668.6,844.1 669.9,843.1 C671.3,842.2 672.6,841.2 674.0,840.2 C675.3,839.3 676.6,838.3 678.0,837.3 C679.3,836.3 680.7,835.4 682.0,834.4 C683.4,833.5 684.7,832.5 686.1,831.5 C687.4,830.6 688.8,829.6 690.1,828.7 C691.5,827.8 692.9,826.8 694.3,825.9 C695.6,825.0 697.0,824.0 698.4,823.1 C699.8,822.2 701.2,821.3 702.6,820.4 C704.0,819.5 705.4,818.7 706.9,817.8 C708.3,816.9 709.7,816.0 711.2,815.2 C712.6,814.3 714.0,813.5 715.5,812.6 C716.9,811.7 718.4,810.9 719.8,810.0 C721.2,809.2 722.7,808.3 724.1,807.4 C725.5,806.6 727.0,805.7 728.4,804.8 C729.8,804.0 731.3,803.1 732.7,802.2 C734.1,801.3 735.5,800.5 736.9,799.6 C738.4,798.7 739.8,797.8 741.2,796.8 C742.5,795.9 743.9,795.0 745.3,794.0 C746.7,793.1 748.0,792.2 749.4,791.2 C750.7,790.2 752.1,789.2 753.4,788.2 C754.7,787.2 756.0,786.2 757.3,785.2 C758.6,784.1 759.9,783.1 761.1,782.0 C762.4,780.9 763.6,779.8 764.8,778.7 C766.1,777.6 767.3,776.5 768.4,775.3 C769.6,774.1 770.8,773.0 772.0,771.8 C773.1,770.6 774.3,769.4 775.4,768.2 C776.5,767.0 777.7,765.7 778.8,764.5 C779.9,763.3 781.0,762.0 782.1,760.7 C783.2,759.5 784.3,758.2 785.4,757.0 C786.5,755.7 787.6,754.4 788.6,753.1 C789.7,751.8 790.8,750.6 791.9,749.3 C792.9,748.0 794.0,746.7 795.1,745.4 C796.2,744.2 797.3,742.9 798.3,741.6 C799.4,740.3 800.5,739.0 801.6,737.8 C802.7,736.5 803.8,735.2 804.9,734.0 C806.0,732.7 807.1,731.5 808.2,730.2 C809.3,729.0 810.4,727.7 811.5,726.5 C812.6,725.3 813.8,724.1 814.9,722.8 C816.0,721.6 817.2,720.4 818.3,719.2 C819.4,718.0 820.6,716.8 821.7,715.6 C822.9,714.4 824.1,713.2 825.2,712.0 C826.4,710.9 827.6,709.7 828.8,708.6 C830.0,707.4 831.2,706.2 832.4,705.1 C833.6,704.0 834.8,702.8 836.0,701.7 C837.2,700.6 838.5,699.5 839.7,698.4 C841.0,697.3 842.2,696.2 843.5,695.1 C844.7,694.1 846.0,693.0 847.3,691.9 C848.6,690.9 849.9,689.8 851.1,688.8 C852.4,687.7 853.7,686.7 855.0,685.6 C856.3,684.6 857.6,683.5 858.9,682.5 C860.2,681.4 861.5,680.4 862.8,679.4 C864.1,678.3 865.4,677.3 866.7,676.3 C868.0,675.2 869.3,674.2 870.6,673.2 C871.9,672.1 873.2,671.1 874.6,670.1 C875.9,669.0 877.2,668.0 878.5,667.0 C879.8,665.9 881.1,664.9 882.4,663.9 C883.7,662.8 885.0,661.8 886.3,660.8 C887.6,659.7 889.0,658.7 890.3,657.7 C891.6,656.7 892.9,655.6 894.2,654.6 C895.5,653.6 896.8,652.5 898.1,651.5 C899.4,650.5 900.7,649.4 902.0,648.4 C903.3,647.4 904.6,646.3 906.0,645.3 C907.3,644.2 908.6,643.2 909.9,642.2 C911.2,641.1 912.5,640.1 913.8,639.1 C915.1,638.0 916.4,637.0 917.7,635.9 C919.0,634.9 920.3,633.8 921.6,632.8 C922.9,631.7 924.1,630.7 925.4,629.6 C926.7,628.6 928.0,627.5 929.3,626.5 C930.6,625.4 931.9,624.3 933.2,623.3 C934.4,622.2 935.7,621.2 937.0,620.1 C938.3,619.0 939.6,618.0 940.8,616.9 C942.1,615.8 943.4,614.7 944.6,613.7 C945.9,612.6 947.2,611.5 948.4,610.4 C949.7,609.3 951.0,608.2 952.2,607.1 C953.5,606.0 954.7,605.0 956.0,603.9 C957.2,602.8 958.5,601.7 959.7,600.5 C961.0,599.4 962.2,598.3 963.4,597.2 C964.7,596.1 965.9,595.0 967.1,593.8 C968.3,592.7 969.6,591.6 970.8,590.5 C972.0,589.3 973.2,588.2 974.4,587.1 C975.6,585.9 976.9,584.8 978.1,583.6 C979.3,582.5 980.5,581.3 981.6,580.1 C982.8,579.0 984.0,577.8 985.2,576.6 C986.4,575.5 987.6,574.3 988.8,573.1 C989.9,571.9 991.1,570.8 992.3,569.6 C993.5,568.4 994.7,567.2 995.8,566.1 C997.0,564.9 998.2,563.7 999.4,562.6 C1000.6,561.4 1001.8,560.2 1003.0,559.1 C1004.2,557.9 1005.4,556.8 1006.6,555.7 C1007.8,554.5 1009.0,553.4 1010.3,552.3 C1011.5,551.2 1012.7,550.1 1014.0,549.0 C1015.3,548.0 1016.5,546.9 1017.8,545.8 C1019.1,544.8 1020.4,543.8 1021.7,542.7 C1023.0,541.7 1024.3,540.7 1025.7,539.8 C1027.0,538.8 1028.4,537.8 1029.8,536.9 C1031.2,536.0 1032.6,535.1 1034.0,534.2 C1035.4,533.3 1036.8,532.5 1038.3,531.7 C1039.8,530.9 1041.3,530.1 1042.8,529.3 C1044.3,528.5 1045.9,527.8 1047.4,527.1 C1049.0,526.4 1050.6,525.8 1052.2,525.1 C1053.8,524.4 1055.4,523.8 1057.0,523.1 C1058.6,522.5 1060.2,521.9 1061.8,521.2 C1063.4,520.5 1065.0,519.9 1066.5,519.2 C1068.0,518.5 1069.5,517.8 1071.0,517.0 C1072.5,516.3 1073.9,515.5 1075.3,514.6 C1076.7,513.8 1078.0,512.9 1079.3,511.9 C1080.5,510.9 1081.7,509.9 1082.8,508.8 C1083.9,507.7 1085.0,506.5 1085.9,505.3 C1086.8,504.1 1087.6,502.8 1088.3,501.4 C1089.1,500.0 1089.6,498.6 1090.1,497.1 C1090.6,495.6 1091.0,494.1 1091.3,492.5 C1091.6,491.0 1091.8,489.3 1092.0,487.7 C1092.2,486.1 1092.3,484.4 1092.4,482.7 C1092.4,481.0 1092.5,479.3 1092.5,477.5 C1092.5,475.8 1092.5,474.0 1092.6,472.3 C1092.6,470.6 1092.6,468.8 1092.6,467.1 C1092.7,465.3 1092.8,463.6 1092.9,461.9 C1093.0,460.1 1093.2,458.4 1093.4,456.8 C1093.7,455.1 1094.0,453.4 1094.4,451.8 C1094.8,450.2 1095.2,448.6 1095.8,447.1 C1096.3,445.5 1096.9,444.0 1097.5,442.5 C1098.2,441.0 1098.9,439.5 1099.7,438.1 C1100.5,436.6 1101.3,435.2 1102.1,433.8 C1103.0,432.3 1103.9,431.0 1104.8,429.6 C1105.8,428.2 1106.7,426.8 1107.7,425.5 C1108.7,424.1 1109.7,422.8 1110.8,421.5 C1111.8,420.1 1112.9,418.8 1113.9,417.5 C1115.0,416.2 1116.1,414.9 1117.1,413.6 C1118.2,412.3 1119.3,411.0 1120.3,409.7 C1121.4,408.5 1122.5,407.2 1123.5,405.9 C1124.6,404.6 1125.6,403.3 1126.7,402.0 C1127.7,400.7 1128.8,399.4 1129.8,398.1 C1130.8,396.8 1131.8,395.5 1132.8,394.1 C1133.8,392.8 1134.8,391.4 1135.8,390.1 C1136.8,388.7 1137.7,387.3 1138.7,385.9 C1139.6,384.5 1140.5,383.1 1141.4,381.7 C1142.3,380.3 1143.2,378.8 1144.0,377.3 C1144.7,375.8 1145.5,374.3 1146.0,372.8 C1146.6,371.2 1147.1,369.7 1147.4,368.1 C1147.7,366.5 1147.9,364.9 1148.0,363.3 C1148.0,361.7 1148.0,360.1 1147.8,358.5 C1147.5,356.9 1147.2,355.3 1146.7,353.7 C1146.2,352.2 1145.6,350.6 1144.9,349.2 C1144.1,347.7 1143.3,346.3 1142.3,344.9 C1141.2,343.5 1140.1,342.2 1138.8,341.0 C1137.6,339.7 1136.2,338.6 1134.7,337.5 C1133.3,336.5 1131.8,335.5 1130.2,334.6 C1128.7,333.7 1127.0,333.0 1125.4,332.3 C1123.9,331.6 1122.2,331.1 1120.7,330.7 C1119.1,330.2 1117.5,329.9 1115.9,329.7 C1114.3,329.5 1112.7,329.3 1111.1,329.3 C1109.5,329.2 1107.9,329.3 1106.4,329.4 C1104.8,329.5 1103.2,329.7 1101.6,329.9 C1100.0,330.2 1098.4,330.5 1096.9,330.9 C1095.3,331.2 1093.7,331.6 1092.1,332.1 C1090.5,332.5 1088.9,333.0 1087.3,333.6 C1085.7,334.1 1084.2,334.6 1082.6,335.2 C1081.0,335.8 1079.4,336.3 1077.8,336.9 C1076.1,337.5 1074.5,338.1 1072.9,338.7 C1071.3,339.3 1069.7,339.9 1068.1,340.5 C1066.4,341.0 1064.8,341.6 1063.2,342.1 C1061.5,342.6 1059.9,343.1 1058.2,343.6 C1056.6,344.0 1054.9,344.5 1053.3,344.9 C1051.6,345.3 1049.9,345.7 1048.3,346.0 C1046.6,346.3 1044.9,346.6 1043.3,346.9 C1041.6,347.2 1039.9,347.4 1038.3,347.6 C1036.6,347.8 1035.0,347.9 1033.3,348.1 C1031.6,348.2 1030.0,348.3 1028.3,348.3 C1026.7,348.3 1025.0,348.3 1023.4,348.3 C1021.7,348.2 1020.1,348.1 1018.5,348.0 C1016.9,347.9 1015.3,347.7 1013.6,347.5 C1012.0,347.2 1010.4,347.0 1008.9,346.7 C1007.3,346.3 1005.7,346.0 1004.2,345.5 C1002.6,345.1 1001.1,344.7 999.5,344.1 C998.0,343.6 996.5,343.1 995.0,342.4 C993.5,341.8 992.0,341.1 990.6,340.4 C989.1,339.7 987.7,338.9 986.3,338.0 C984.8,337.2 983.4,336.4 982.0,335.4 C980.6,334.5 979.2,333.6 977.9,332.6 C976.5,331.7 975.1,330.7 973.8,329.6 C972.4,328.6 971.1,327.6 969.7,326.5 C968.4,325.4 967.0,324.3 965.7,323.3 C964.4,322.2 963.0,321.1 961.7,320.0 C960.4,318.9 959.0,317.8 957.7,316.7 C956.4,315.6 955.1,314.5 953.7,313.4 C952.4,312.3 951.1,311.3 949.7,310.2 C948.4,309.2 947.0,308.1 945.7,307.1 C944.3,306.1 943.0,305.1 941.6,304.1 C940.3,303.1 938.9,302.1 937.5,301.2 C936.2,300.2 934.8,299.3 933.4,298.3 C932.0,297.4 930.7,296.5 929.3,295.6 C927.9,294.6 926.5,293.7 925.1,292.8 C923.8,291.9 922.4,291.0 921.0,290.1 C919.6,289.3 918.2,288.4 916.8,287.5 C915.5,286.6 914.1,285.7 912.7,284.8 C911.3,284.0 909.9,283.1 908.5,282.2 C907.2,281.3 905.8,280.4 904.4,279.6 C903.0,278.7 901.6,277.8 900.3,276.9 C898.9,276.0 897.5,275.1 896.1,274.2 C894.8,273.3 893.4,272.4 892.0,271.5 C890.7,270.6 889.3,269.7 887.9,268.7 C886.6,267.8 885.2,266.8 883.9,265.9 C882.5,264.9 881.2,264.0 879.8,263.0 C878.5,262.0 877.1,261.0 875.8,260.0 C874.5,259.0 873.2,257.9 871.8,256.9 C870.5,255.9 869.2,254.8 867.9,253.8 C866.6,252.7 865.3,251.7 863.9,250.6 C862.6,249.5 861.3,248.5 860.0,247.4 C858.7,246.3 857.4,245.3 856.0,244.2 C854.7,243.1 853.4,242.1 852.1,241.0 C850.7,240.0 849.4,239.0 848.1,237.9 C846.7,236.9 845.4,235.9 844.0,234.9 C842.7,233.9 841.3,233.0 839.9,232.0 C838.6,231.1 837.2,230.1 835.8,229.2 C834.4,228.3 833.0,227.4 831.6,226.6 C830.2,225.7 828.7,224.9 827.3,224.1 C825.8,223.3 824.4,222.6 822.9,221.9 C821.4,221.2 819.9,220.5 818.4,219.8 C816.9,219.2 815.4,218.6 813.8,218.1 C812.3,217.5 810.7,217.0 809.1,216.5 C807.5,216.1 805.9,215.7 804.3,215.3 C802.6,215.0 801.0,214.7 799.3,214.4 C797.7,214.1 796.0,213.9 794.3,213.8 C792.7,213.6 791.0,213.5 789.3,213.5 C787.6,213.4 785.9,213.4 784.2,213.5 C782.6,213.6 780.9,213.7 779.2,213.8 C777.5,214.0 775.9,214.2 774.2,214.5 C772.6,214.8 770.9,215.1 769.3,215.5 C767.7,215.9 766.0,216.4 764.5,216.9 C762.9,217.4 761.3,218.0 759.8,218.6 C758.2,219.2 756.7,219.9 755.2,220.7 C753.7,221.4 752.3,222.2 750.9,223.1 C749.5,224.0 748.1,224.9 746.7,225.9 C745.4,226.9 744.1,227.9 742.8,229.1 C741.6,230.2 740.4,231.3 739.2,232.5 C738.0,233.7 736.9,235.0 735.9,236.3 C734.9,237.6 733.9,239.0 733.0,240.4 C732.0,241.7 731.2,243.2 730.4,244.6 C729.6,246.1 728.9,247.6 728.3,249.1 C727.7,250.6 727.1,252.2 726.7,253.7 C726.2,255.3 725.8,256.9 725.5,258.5 C725.2,260.1 725.0,261.7 724.9,263.4 C724.7,265.0 724.6,266.7 724.5,268.3 C724.5,270.0 724.5,271.7 724.5,273.4 C724.5,275.0 724.5,276.7 724.5,278.4 C724.6,280.1 724.6,281.8 724.6,283.5 C724.7,285.2 724.7,286.8 724.7,288.5 C724.8,290.2 724.8,291.9 724.8,293.6 C724.9,295.3 724.9,296.9 724.9,298.6 C725.0,300.3 725.0,302.0 725.0,303.7 C725.1,305.3 725.1,307.0 725.1,308.7 C725.1,310.4 725.2,312.1 725.2,313.7 C725.2,315.4 725.2,317.1 725.2,318.8 C725.2,320.5 725.2,322.1 725.2,323.8 C725.2,325.5 725.2,327.1 725.2,328.8 C725.2,330.5 725.2,332.2 725.2,333.8 C725.2,335.5 725.1,337.2 725.1,338.8 C725.1,340.5 725.0,342.2 725.0,343.8 C724.9,345.5 724.9,347.2 724.8,348.8 C724.7,350.5 724.7,352.2 724.6,353.8 C724.5,355.5 724.4,357.1 724.3,358.8 C724.2,360.5 724.1,362.1 724.0,363.8 C723.9,365.4 723.7,367.1 723.6,368.7 C723.4,370.4 723.3,372.0 723.1,373.7 C723.0,375.3 722.8,377.0 722.6,378.6 C722.4,380.3 722.2,381.9 722.0,383.5 C721.8,385.2 721.6,386.8 721.3,388.5 C721.1,390.1 720.8,391.7 720.5,393.4 C720.3,395.0 720.0,396.6 719.7,398.3 C719.4,399.9 719.1,401.5 718.8,403.1 C718.4,404.8 718.1,406.4 717.7,408.0 C717.3,409.6 716.9,411.2 716.5,412.8 C716.1,414.4 715.7,416.0 715.2,417.6 C714.7,419.2 714.2,420.8 713.6,422.3 C713.1,423.9 712.5,425.5 711.9,427.0 C711.2,428.5 710.6,430.0 709.9,431.5 C709.1,433.0 708.4,434.5 707.6,436.0 C706.8,437.4 705.9,438.9 705.0,440.3 C704.1,441.7 703.2,443.1 702.3,444.5 C701.3,445.9 700.4,447.3 699.4,448.7 C698.4,450.0 697.4,451.4 696.4,452.7 C695.4,454.1 694.3,455.4 693.3,456.7 C692.3,458.0 691.2,459.3 690.1,460.6 C689.1,461.9 688.0,463.2 686.9,464.5 C685.8,465.8 684.7,467.0 683.6,468.3 C682.5,469.5 681.4,470.7 680.2,472.0 C679.1,473.2 677.9,474.4 676.8,475.6 C675.6,476.8 674.5,478.0 673.3,479.1 C672.1,480.3 670.9,481.5 669.7,482.6 C668.5,483.8 667.3,484.9 666.1,486.0 C664.8,487.1 663.6,488.3 662.3,489.3 C661.1,490.4 659.8,491.5 658.6,492.6 C657.3,493.7 656.0,494.7 654.7,495.8 C653.5,496.8 652.2,497.9 650.8,498.9 C649.5,499.9 648.2,500.9 646.9,501.9 C645.6,502.9 644.2,503.9 642.9,504.9 C641.6,505.8 640.2,506.8 638.8,507.7 C637.5,508.7 636.1,509.6 634.7,510.5 C633.3,511.5 632.0,512.4 630.6,513.3 C629.2,514.2 627.8,515.1 626.3,515.9 C624.9,516.8 623.5,517.7 622.1,518.5 C620.6,519.3 619.2,520.2 617.8,521.0 C616.3,521.8 614.9,522.6 613.4,523.4 C611.9,524.2 610.5,525.0 609.0,525.8 C607.5,526.5 606.0,527.3 604.6,528.0 C603.1,528.8 601.6,529.5 600.1,530.2 C598.6,530.9 597.1,531.6 595.5,532.3 C594.0,533.0 592.5,533.7 591.0,534.4 C589.4,535.0 587.9,535.7 586.4,536.3 C584.8,536.9 583.3,537.6 581.7,538.2 C580.2,538.8 578.6,539.4 577.1,540.0 C575.5,540.6 573.9,541.1 572.3,541.7 C570.8,542.3 569.2,542.8 567.6,543.3 C566.0,543.9 564.4,544.4 562.8,544.9 C561.2,545.4 559.6,545.9 558.0,546.4 C556.4,546.9 554.8,547.3 553.2,547.8 C551.6,548.2 550.0,548.7 548.4,549.1 C546.8,549.5 545.1,549.9 543.5,550.3 C541.9,550.7 540.2,551.1 538.6,551.5 C537.0,551.8 535.4,552.2 533.7,552.5 C532.1,552.8 530.4,553.1 528.8,553.4 C527.2,553.7 525.5,553.9 523.9,554.2 C522.2,554.4 520.6,554.6 518.9,554.8 C517.3,555.0 515.6,555.2 514.0,555.4 C512.3,555.5 510.7,555.6 509.0,555.7 C507.4,555.8 505.7,555.9 504.1,556.0 C502.4,556.1 500.8,556.1 499.1,556.1 C497.5,556.1 495.8,556.1 494.2,556.1 C492.5,556.1 490.9,556.1 489.2,556.0 C487.6,556.0 485.9,555.9 484.3,555.8 C482.6,555.8 480.9,555.7 479.3,555.6 C477.6,555.5 476.0,555.3 474.3,555.2 C472.6,555.1 471.0,555.0 469.3,554.8 C467.7,554.7 466.0,554.6 464.3,554.4 C462.7,554.3 461.0,554.1 459.3,553.9 C457.6,553.8 456.0,553.6 454.3,553.5 C452.6,553.3 450.9,553.2 449.3,553.0 C447.6,552.8 445.9,552.7 444.2,552.5 C442.5,552.4 440.8,552.2 439.2,552.1 C437.5,552.0 435.8,551.8 434.1,551.7 C432.4,551.6 430.7,551.5 429.1,551.5 C427.4,551.4 425.7,551.3 424.0,551.3 C422.3,551.3 420.7,551.2 419.0,551.3 C417.4,551.3 415.7,551.3 414.0,551.4 C412.4,551.5 410.7,551.6 409.1,551.8 C407.5,551.9 405.8,552.1 404.2,552.3 C402.6,552.5 401.0,552.8 399.4,553.1 C397.8,553.4 396.2,553.8 394.6,554.2 C393.0,554.6 391.5,555.1 389.9,555.6 C388.4,556.0 386.8,556.6 385.3,557.1 C383.7,557.7 382.2,558.3 380.6,558.9 C379.1,559.5 377.6,560.2 376.0,560.9 C374.5,561.6 373.0,562.3 371.5,563.0 C369.9,563.7 368.4,564.4 366.9,565.2 C365.4,566.0 363.9,566.7 362.4,567.5 C360.9,568.3 359.4,569.2 357.9,570.0 C356.4,570.9 355.0,571.7 353.5,572.6 C352.1,573.5 350.6,574.4 349.2,575.4 C347.8,576.3 346.4,577.3 345.0,578.3 C343.6,579.3 342.3,580.3 341.0,581.3 C339.6,582.3 338.3,583.4 337.0,584.5 C335.8,585.6 334.5,586.7 333.3,587.8 C332.1,589.0 330.9,590.1 329.7,591.3 C328.6,592.5 327.5,593.7 326.4,595.0 C325.3,596.2 324.3,597.5 323.3,598.8 C322.3,600.1 321.3,601.4 320.4,602.8 C319.5,604.1 318.6,605.5 317.8,606.9 C316.9,608.3 316.2,609.8 315.4,611.2 C314.7,612.7 314.0,614.2 313.4,615.7 C312.8,617.3 312.2,618.8 311.6,620.4 C311.1,621.9 310.6,623.5 310.2,625.1 C309.8,626.8 309.4,628.4 309.1,630.0 C308.8,631.6 308.5,633.3 308.3,635.0 C308.0,636.6 307.9,638.3 307.8,640.0 C307.6,641.6 307.6,643.3 307.6,645.0 C307.6,646.7 307.6,648.4 307.7,650.0 C307.8,651.7 308.0,653.4 308.2,655.1 C308.4,656.8 308.7,658.4 309.0,660.1 C309.3,661.7 309.7,663.4 310.1,665.0 C310.6,666.7 311.0,668.3 311.6,669.9 C312.1,671.5 312.7,673.0 313.4,674.6 C314.1,676.1 314.8,677.7 315.6,679.1 C316.3,680.6 317.2,682.1 318.0,683.5 C318.9,684.9 319.9,686.2 320.9,687.6 C321.9,688.9 322.9,690.2 324.0,691.4 C325.1,692.6 326.3,693.8 327.5,694.9 C328.7,696.0 330.0,697.0 331.4,698.0 C332.7,699.1 334.1,700.0 335.4,700.9 C336.8,701.9 338.3,702.7 339.7,703.6 C341.2,704.5 342.7,705.3 344.2,706.1 C345.6,707.0 347.1,707.8 348.6,708.6 C350.1,709.4 351.6,710.2 353.0,711.1 C354.5,711.9 356.0,712.7 357.4,713.5 C358.9,714.4 360.3,715.2 361.8,716.0 C363.2,716.9 364.7,717.7 366.1,718.6 C367.5,719.4 369.0,720.3 370.4,721.1 C371.8,722.0 373.2,722.8 374.6,723.7 C376.0,724.6 377.4,725.5 378.8,726.3 C380.2,727.2 381.6,728.1 383.0,729.0 C384.3,729.9 385.7,730.8 387.1,731.7 C388.4,732.6 389.8,733.6 391.2,734.5 C392.5,735.4 393.8,736.4 395.2,737.3 C396.5,738.3 397.9,739.2 399.2,740.2 C400.5,741.2 401.8,742.2 403.1,743.2 C404.4,744.1 405.7,745.2 407.0,746.2 C408.3,747.2 409.6,748.2 410.9,749.3 C412.2,750.3 413.4,751.4 414.7,752.4 C416.0,753.5 417.2,754.6 418.5,755.7 C419.7,756.8 421.0,757.9 422.2,759.0 C423.5,760.1 424.7,761.3 425.9,762.4 C427.1,763.6 428.3,764.8 429.5,765.9 C430.7,767.1 431.9,768.3 433.1,769.5 C434.3,770.7 435.4,772.0 436.6,773.2 C437.7,774.4 438.9,775.7 440.0,776.9 C441.1,778.2 442.3,779.5 443.3,780.7 C444.4,782.0 445.5,783.3 446.6,784.6 C447.7,785.9 448.7,787.3 449.8,788.6 C450.8,789.9 451.8,791.3 452.8,792.6 C453.8,794.0 454.8,795.3 455.8,796.7 C456.8,798.1 457.7,799.5 458.6,800.9 C459.6,802.3 460.5,803.7 461.4,805.1 C462.3,806.5 463.1,807.9 464.0,809.4 C464.8,810.8 465.7,812.3 466.5,813.7 C467.3,815.2 468.1,816.7 468.8,818.2 C469.6,819.6 470.3,821.1 471.0,822.6 C471.7,824.1 472.4,825.6 473.1,827.2 C473.7,828.7 474.4,830.2 475.0,831.7 C475.6,833.3 476.2,834.8 476.7,836.4 C477.3,837.9 477.8,839.5 478.3,841.1 C478.8,842.6 479.3,844.2 479.8,845.8 C480.2,847.4 480.6,849.0 481.0,850.6 C481.4,852.2 481.7,853.8 482.1,855.4 C482.4,857.0 482.7,858.7 482.9,860.3 C483.2,861.9 483.4,863.6 483.6,865.2 C483.8,866.9 484.0,869.4 484.1,870.2" fill="none" stroke="#984ea3" stroke-width="5.2" stroke-linejoin="round" stroke-linecap="butt"/></g>
<g clip-path="url(#cR)"><path d="M1441.6,826.5 C1441.6,825.6 1441.5,822.6 1441.7,820.9 C1442.0,819.2 1442.4,817.6 1443.0,816.2 C1443.6,814.7 1444.4,813.4 1445.3,812.1 C1446.2,810.9 1447.3,809.7 1448.4,808.6 C1449.6,807.5 1450.8,806.5 1452.2,805.5 C1453.5,804.5 1455.0,803.6 1456.5,802.7 C1458.0,801.8 1459.5,800.8 1461.1,800.0 C1462.7,799.1 1464.3,798.3 1465.9,797.7 C1467.6,797.0 1469.2,796.5 1470.8,796.2 C1472.4,795.9 1474.0,795.8 1475.5,796.1 C1477.1,796.3 1478.6,796.9 1480.0,797.6 C1481.5,798.3 1482.9,799.3 1484.2,800.2 C1485.6,801.2 1487.0,802.3 1488.3,803.4 C1489.6,804.4 1490.8,805.5 1492.1,806.7 C1493.3,807.8 1494.5,808.9 1495.7,810.1 C1496.9,811.3 1498.0,812.5 1499.2,813.7 C1500.3,814.9 1501.4,816.1 1502.5,817.4 C1503.6,818.6 1504.6,819.9 1505.7,821.2 C1506.7,822.5 1507.7,823.8 1508.7,825.1 C1509.7,826.4 1510.7,827.8 1511.6,829.1 C1512.6,830.5 1513.6,831.8 1514.5,833.2 C1515.4,834.6 1516.3,836.0 1517.2,837.4 C1518.1,838.8 1519.0,840.2 1519.9,841.6 C1520.8,843.0 1521.7,844.4 1522.5,845.9 C1523.4,847.3 1524.3,848.7 1525.1,850.2 C1526.0,851.6 1526.8,853.0 1527.7,854.5 C1528.5,855.9 1529.4,857.4 1530.2,858.8 C1531.1,860.3 1531.9,861.7 1532.8,863.2 C1533.6,864.6 1534.5,866.1 1535.3,867.5 C1536.2,868.9 1537.0,870.4 1537.9,871.8 C1538.7,873.3 1539.6,874.7 1540.5,876.1 C1541.4,877.5 1542.3,878.9 1543.2,880.3 C1544.1,881.7 1545.0,883.1 1545.9,884.5 C1546.8,885.9 1547.8,887.3 1548.7,888.7 C1549.7,890.0 1550.6,891.4 1551.6,892.7 C1552.6,894.0 1553.6,895.3 1554.7,896.7 C1555.7,898.0 1556.7,899.2 1557.8,900.5 C1558.8,901.8 1559.9,903.0 1561.0,904.3 C1562.1,905.5 1563.2,906.8 1564.4,908.0 C1565.5,909.2 1566.7,910.4 1567.8,911.5 C1569.0,912.7 1570.2,913.9 1571.4,915.0 C1572.6,916.2 1573.8,917.3 1575.0,918.4 C1576.2,919.5 1577.5,920.6 1578.8,921.7 C1580.0,922.7 1581.3,923.8 1582.6,924.8 C1583.9,925.9 1585.2,926.9 1586.5,927.9 C1587.9,928.9 1589.2,929.8 1590.6,930.8 C1591.9,931.8 1593.3,932.7 1594.7,933.6 C1596.1,934.6 1597.5,935.5 1598.9,936.3 C1600.3,937.2 1601.8,938.1 1603.2,938.9 C1604.6,939.8 1606.1,940.6 1607.6,941.4 C1609.1,942.2 1610.5,943.0 1612.0,943.7 C1613.5,944.5 1615.0,945.2 1616.6,945.9 C1618.1,946.6 1619.6,947.3 1621.2,947.9 C1622.7,948.6 1624.3,949.2 1625.8,949.8 C1627.4,950.3 1629.0,950.9 1630.6,951.4 C1632.1,951.9 1633.7,952.4 1635.3,952.8 C1636.9,953.3 1638.5,953.7 1640.2,954.1 C1641.8,954.4 1643.4,954.8 1645.0,955.1 C1646.6,955.4 1648.3,955.6 1649.9,955.8 C1651.6,956.0 1653.2,956.2 1654.8,956.3 C1656.5,956.4 1658.2,956.5 1659.8,956.5 C1661.5,956.5 1663.1,956.5 1664.8,956.4 C1666.4,956.3 1668.1,956.2 1669.8,956.0 C1671.4,955.9 1673.1,955.6 1674.7,955.3 C1676.3,955.0 1678.0,954.7 1679.6,954.2 C1681.1,953.8 1682.7,953.3 1684.3,952.7 C1685.8,952.2 1687.3,951.5 1688.8,950.8 C1690.2,950.1 1691.7,949.3 1693.1,948.4 C1694.4,947.5 1695.8,946.6 1697.1,945.5 C1698.3,944.5 1699.6,943.4 1700.8,942.3 C1702.0,941.1 1703.2,939.9 1704.4,938.7 C1705.6,937.5 1706.7,936.2 1707.9,935.0 C1709.0,933.7 1710.2,932.5 1711.4,931.2 C1712.5,930.0 1713.7,928.8 1714.9,927.6 C1716.1,926.4 1717.3,925.2 1718.5,924.1 C1719.7,922.9 1720.9,921.8 1722.2,920.7 C1723.4,919.6 1724.7,918.5 1725.9,917.4 C1727.2,916.3 1728.4,915.2 1729.7,914.1 C1731.0,913.1 1732.2,912.0 1733.5,911.0 C1734.8,909.9 1736.1,908.9 1737.3,907.8 C1738.6,906.8 1739.9,905.7 1741.2,904.7 C1742.5,903.6 1743.7,902.6 1745.0,901.5 C1746.3,900.5 1747.6,899.4 1748.9,898.4 C1750.1,897.3 1751.4,896.2 1752.7,895.1 C1753.9,894.1 1755.2,893.0 1756.4,891.9 C1757.7,890.8 1759.0,889.7 1760.2,888.6 C1761.4,887.4 1762.7,886.3 1763.9,885.2 C1765.1,884.1 1766.4,882.9 1767.6,881.8 C1768.8,880.6 1770.0,879.5 1771.2,878.3 C1772.4,877.1 1773.6,876.0 1774.8,874.8 C1776.0,873.6 1777.2,872.4 1778.3,871.2 C1779.5,870.0 1780.6,868.8 1781.8,867.6 C1782.9,866.4 1784.1,865.1 1785.2,863.9 C1786.3,862.7 1787.4,861.4 1788.5,860.2 C1789.6,858.9 1790.7,857.6 1791.8,856.4 C1792.8,855.1 1793.9,853.8 1794.9,852.5 C1796.0,851.2 1797.0,849.9 1798.0,848.6 C1799.0,847.3 1800.0,846.0 1801.0,844.6 C1802.0,843.3 1803.0,842.0 1803.9,840.6 C1804.9,839.3 1805.8,837.9 1806.7,836.5 C1807.7,835.2 1808.6,833.8 1809.5,832.4 C1810.4,831.0 1811.3,829.6 1812.2,828.3 C1813.1,826.9 1814.0,825.5 1814.9,824.1 C1815.8,822.7 1816.7,821.3 1817.7,819.9 C1818.6,818.6 1819.5,817.2 1820.4,815.8 C1821.3,814.4 1822.3,813.1 1823.2,811.7 C1824.2,810.3 1825.2,809.0 1826.2,807.6 C1827.1,806.3 1828.2,805.0 1829.2,803.7 C1830.2,802.3 1831.3,801.0 1832.3,799.7 C1833.4,798.4 1834.5,797.1 1835.5,795.8 C1836.6,794.5 1837.7,793.2 1838.7,791.9 C1839.8,790.6 1840.9,789.3 1841.9,788.0 C1843.0,786.7 1844.0,785.4 1845.0,784.1 C1846.1,782.7 1847.1,781.4 1848.0,780.1 C1849.0,778.7 1850.0,777.4 1850.9,776.0 C1851.8,774.6 1852.8,773.2 1853.6,771.8 C1854.5,770.4 1855.4,769.0 1856.3,767.6 C1857.1,766.2 1858.0,764.8 1858.8,763.3 C1859.6,761.9 1860.4,760.4 1861.2,759.0 C1862.0,757.5 1862.7,756.1 1863.5,754.6 C1864.2,753.1 1865.0,751.6 1865.7,750.2 C1866.4,748.7 1867.1,747.2 1867.8,745.7 C1868.5,744.2 1869.2,742.7 1869.9,741.2 C1870.6,739.6 1871.2,738.1 1871.9,736.6 C1872.6,735.1 1873.2,733.5 1873.9,732.0 C1874.5,730.5 1875.1,728.9 1875.7,727.4 C1876.4,725.8 1877.0,724.3 1877.6,722.7 C1878.2,721.2 1878.8,719.6 1879.4,718.1 C1880.0,716.5 1880.6,715.0 1881.2,713.4 C1881.8,711.8 1882.4,710.3 1883.0,708.7 C1883.6,707.2 1884.2,705.6 1884.8,704.0 C1885.4,702.5 1886.0,700.9 1886.6,699.3 C1887.1,697.8 1887.7,696.2 1888.3,694.6 C1888.9,693.1 1889.5,691.5 1890.1,690.0 C1890.7,688.4 1891.3,686.8 1891.9,685.3 C1892.5,683.7 1893.2,682.2 1893.8,680.6 C1894.4,679.1 1895.0,677.5 1895.7,676.0 C1896.3,674.5 1896.9,672.9 1897.6,671.4 C1898.2,669.8 1898.9,668.3 1899.6,666.8 C1900.2,665.3 1900.9,663.7 1901.6,662.2 C1902.3,660.7 1902.9,659.2 1903.6,657.7 C1904.3,656.2 1905.0,654.7 1905.7,653.2 C1906.5,651.7 1907.2,650.2 1907.9,648.7 C1908.6,647.2 1909.3,645.7 1910.1,644.2 C1910.8,642.7 1911.6,641.2 1912.3,639.7 C1913.1,638.2 1913.8,636.8 1914.6,635.3 C1915.4,633.8 1916.1,632.4 1916.9,630.9 C1917.7,629.4 1918.5,628.0 1919.3,626.5 C1920.1,625.0 1920.9,623.6 1921.7,622.1 C1922.5,620.7 1923.3,619.2 1924.1,617.8 C1924.9,616.3 1925.7,614.9 1926.6,613.4 C1927.4,612.0 1928.2,610.6 1929.1,609.1 C1929.9,607.7 1930.8,606.3 1931.6,604.8 C1932.5,603.4 1933.3,602.0 1934.2,600.6 C1935.0,599.1 1935.9,597.7 1936.8,596.3 C1937.6,594.9 1938.5,593.5 1939.4,592.0 C1940.2,590.6 1941.1,589.2 1942.0,587.8 C1942.9,586.4 1943.7,584.9 1944.6,583.5 C1945.5,582.1 1946.3,580.7 1947.2,579.3 C1948.1,577.8 1949.0,576.4 1949.8,575.0 C1950.7,573.6 1951.6,572.1 1952.4,570.7 C1953.3,569.3 1954.1,567.9 1955.0,566.4 C1955.8,565.0 1956.7,563.6 1957.5,562.1 C1958.4,560.7 1959.2,559.2 1960.1,557.8 C1960.9,556.4 1961.7,554.9 1962.6,553.5 C1963.4,552.0 1964.3,550.6 1965.1,549.1 C1965.9,547.7 1966.8,546.3 1967.6,544.8 C1968.5,543.4 1969.3,541.9 1970.1,540.5 C1971.0,539.1 1971.8,537.6 1972.7,536.2 C1973.5,534.8 1974.4,533.3 1975.3,531.9 C1976.1,530.5 1977.0,529.1 1977.9,527.7 C1978.8,526.3 1979.7,524.9 1980.6,523.5 C1981.5,522.1 1982.4,520.7 1983.3,519.3 C1984.2,517.9 1985.2,516.5 1986.1,515.2 C1987.1,513.8 1988.0,512.4 1989.0,511.1 C1989.9,509.7 1990.9,508.4 1991.9,507.1 C1992.9,505.7 1993.9,504.4 1995.0,503.1 C1996.0,501.8 1997.1,500.5 1998.1,499.2 C1999.2,498.0 2000.3,496.7 2001.4,495.5 C2002.5,494.2 2003.6,493.0 2004.8,491.8 C2006.0,490.6 2007.1,489.5 2008.4,488.3 C2009.6,487.2 2010.8,486.1 2012.1,485.1 C2013.4,484.1 2014.7,483.1 2016.1,482.2 C2017.4,481.3 2018.8,480.5 2020.3,479.7 C2021.7,478.9 2023.2,478.2 2024.7,477.6 C2026.3,477.0 2027.9,476.4 2029.5,475.9 C2031.1,475.5 2032.8,475.1 2034.4,474.7 C2036.1,474.4 2037.8,474.1 2039.5,473.9 C2041.2,473.6 2042.9,473.5 2044.6,473.3 C2046.3,473.1 2048.0,473.0 2049.6,472.9 C2051.3,472.8 2052.9,472.7 2054.5,472.7 C2056.1,472.7 2057.6,472.6 2059.2,472.8 C2060.8,473.0 2062.4,473.5 2064.1,473.9 C2065.7,474.3 2067.4,475.0 2069.0,475.2 C2070.5,475.3 2072.1,475.2 2073.6,474.7 C2075.1,474.2 2076.5,473.3 2077.8,472.3 C2079.2,471.4 2080.4,470.2 2081.6,469.1 C2082.9,467.9 2084.0,466.6 2085.1,465.3 C2086.3,464.0 2087.3,462.7 2088.4,461.3 C2089.5,460.0 2090.5,458.6 2091.5,457.3 C2092.6,455.9 2093.6,454.6 2094.6,453.2 C2095.6,451.9 2096.6,450.6 2097.6,449.2 C2098.6,447.9 2099.5,446.5 2100.5,445.2 C2101.5,443.9 2102.4,442.5 2103.4,441.2 C2104.3,439.9 2105.3,438.5 2106.2,437.2 C2107.2,435.9 2108.1,434.5 2109.1,433.2 C2110.0,431.9 2110.9,430.5 2111.9,429.2 C2112.8,427.8 2113.8,426.5 2114.7,425.1 C2115.7,423.8 2116.6,422.4 2117.5,421.1 C2118.5,419.7 2119.4,418.3 2120.4,417.0 C2121.4,415.6 2122.3,414.2 2123.3,412.9 C2124.3,411.5 2125.3,410.1 2126.2,408.7 C2127.2,407.3 2128.2,405.9 2129.2,404.5 C2130.3,403.1 2131.3,401.7 2132.3,400.3 C2133.4,399.0 2134.5,397.6 2135.6,396.3 C2136.7,395.1 2137.9,393.8 2139.0,392.7 C2140.2,391.5 2141.5,390.5 2142.8,389.5 C2144.1,388.6 2145.4,387.7 2146.8,387.0 C2148.2,386.3 2149.7,385.7 2151.2,385.2 C2152.8,384.8 2154.4,384.5 2156.0,384.3 C2157.6,384.1 2159.3,384.0 2161.0,383.9 C2162.7,383.9 2164.4,384.0 2166.2,384.1 C2167.9,384.2 2169.6,384.4 2171.4,384.6 C2173.1,384.8 2174.8,385.1 2176.5,385.4 C2178.2,385.6 2179.9,385.9 2181.5,386.2 C2183.2,386.5 2184.8,386.8 2186.4,387.2 C2188.0,387.5 2189.6,387.8 2191.2,388.2 C2192.8,388.5 2194.4,388.9 2196.0,389.3 C2197.6,389.7 2199.1,390.1 2200.7,390.5 C2202.3,390.9 2203.9,391.3 2205.4,391.8 C2207.0,392.2 2208.6,392.7 2210.1,393.1 C2211.7,393.6 2213.3,394.1 2214.9,394.5 C2216.5,395.0 2218.1,395.5 2219.6,396.0 C2221.2,396.5 2222.8,397.0 2224.4,397.5 C2226.0,398.1 2227.6,398.6 2229.2,399.1 C2230.8,399.7 2232.4,400.2 2234.0,400.8 C2235.6,401.3 2237.2,401.9 2238.8,402.4 C2240.4,403.0 2242.0,403.5 2243.6,404.1 C2245.2,404.7 2246.8,405.2 2248.4,405.8 C2250.0,406.4 2251.6,407.0 2253.2,407.6 C2254.7,408.1 2256.3,408.7 2257.9,409.3 C2259.5,409.9 2261.0,410.5 2262.6,411.1 C2264.2,411.7 2265.7,412.2 2267.3,412.8 C2268.9,413.4 2270.4,414.0 2272.0,414.6 C2273.5,415.2 2275.0,415.8 2276.6,416.3 C2278.1,416.9 2279.7,417.5 2281.2,418.1 C2282.7,418.7 2284.2,419.2 2285.8,419.8 C2287.3,420.4 2288.8,421.0 2290.3,421.5 C2291.9,422.1 2293.4,422.7 2294.9,423.2 C2296.4,423.8 2298.0,424.4 2299.5,424.9 C2301.0,425.5 2302.6,426.0 2304.1,426.6 C2305.6,427.1 2307.2,427.7 2308.7,428.2 C2310.3,428.7 2311.8,429.3 2313.4,429.8 C2314.9,430.3 2316.5,430.9 2318.1,431.4 C2319.6,431.9 2321.2,432.4 2322.8,432.9 C2324.4,433.4 2326.0,433.9 2327.6,434.4 C2329.2,434.9 2330.8,435.4 2332.4,435.9 C2334.1,436.3 2335.7,436.8 2337.4,437.3 C2339.0,437.7 2340.7,438.2 2342.4,438.6 C2344.1,439.1 2345.7,439.5 2347.5,440.0 C2349.2,440.4 2350.9,440.8 2352.6,441.2 C2354.4,441.7 2356.1,442.1 2357.8,442.5 C2359.6,443.0 2361.3,443.4 2363.0,443.9 C2364.6,444.4 2366.3,444.9 2367.8,445.5 C2369.4,446.1 2370.9,446.7 2372.3,447.4 C2373.7,448.1 2375.1,448.9 2376.3,449.8 C2377.5,450.7 2378.7,451.6 2379.6,452.7 C2380.6,453.8 2381.5,455.0 2382.2,456.3 C2383.0,457.6 2383.6,458.9 2384.1,460.4 C2384.6,461.8 2385.0,463.4 2385.4,464.9 C2385.7,466.5 2385.9,468.1 2386.0,469.8 C2386.2,471.5 2386.2,473.2 2386.2,474.9 C2386.2,476.7 2386.1,478.4 2386.0,480.2 C2385.8,481.9 2385.6,483.7 2385.3,485.4 C2385.1,487.2 2384.8,488.9 2384.4,490.6 C2384.1,492.3 2383.7,494.0 2383.3,495.6 C2382.8,497.3 2382.4,498.9 2381.9,500.5 C2381.3,502.1 2380.8,503.6 2380.2,505.2 C2379.6,506.7 2379.0,508.2 2378.3,509.7 C2377.6,511.2 2376.8,512.6 2376.1,514.0 C2375.3,515.5 2374.4,516.9 2373.6,518.2 C2372.7,519.6 2371.7,521.0 2370.8,522.3 C2369.8,523.6 2368.8,524.9 2367.8,526.2 C2366.7,527.5 2365.7,528.8 2364.6,530.1 C2363.6,531.4 2362.5,532.7 2361.4,534.0 C2360.4,535.3 2359.3,536.6 2358.3,537.9 C2357.2,539.1 2356.2,540.5 2355.1,541.8 C2354.1,543.1 2353.1,544.4 2352.0,545.7 C2351.0,547.0 2350.0,548.3 2349.0,549.7 C2348.0,551.0 2346.9,552.3 2345.9,553.6 C2344.9,555.0 2343.9,556.3 2342.9,557.6 C2341.9,559.0 2341.0,560.3 2340.0,561.7 C2339.0,563.0 2338.0,564.4 2337.1,565.7 C2336.1,567.1 2335.1,568.5 2334.2,569.8 C2333.2,571.2 2332.3,572.6 2331.3,573.9 C2330.4,575.3 2329.4,576.7 2328.5,578.1 C2327.6,579.4 2326.7,580.8 2325.7,582.2 C2324.8,583.6 2323.9,585.0 2323.0,586.4 C2322.1,587.8 2321.2,589.2 2320.3,590.6 C2319.4,592.0 2318.6,593.4 2317.7,594.9 C2316.8,596.3 2316.0,597.7 2315.1,599.1 C2314.2,600.5 2313.4,602.0 2312.6,603.4 C2311.7,604.8 2310.9,606.3 2310.1,607.7 C2309.2,609.2 2308.4,610.6 2307.6,612.1 C2306.8,613.5 2306.0,615.0 2305.2,616.4 C2304.4,617.9 2303.6,619.4 2302.8,620.8 C2302.1,622.3 2301.3,623.8 2300.5,625.2 C2299.8,626.7 2299.0,628.2 2298.3,629.7 C2297.5,631.2 2296.8,632.6 2296.1,634.1 C2295.3,635.6 2294.6,637.1 2293.9,638.6 C2293.2,640.1 2292.5,641.6 2291.8,643.2 C2291.1,644.7 2290.4,646.2 2289.8,647.7 C2289.1,649.2 2288.4,650.7 2287.8,652.3 C2287.1,653.8 2286.5,655.3 2285.8,656.8 C2285.2,658.4 2284.5,659.9 2283.9,661.4 C2283.3,663.0 2282.6,664.5 2282.0,666.1 C2281.4,667.6 2280.8,669.1 2280.1,670.7 C2279.5,672.2 2278.9,673.8 2278.3,675.3 C2277.7,676.9 2277.1,678.4 2276.4,680.0 C2275.8,681.5 2275.2,683.1 2274.6,684.6 C2274.0,686.2 2273.4,687.7 2272.8,689.3 C2272.2,690.8 2271.6,692.4 2271.0,693.9 C2270.3,695.5 2269.7,697.0 2269.1,698.6 C2268.5,700.1 2267.9,701.7 2267.3,703.2 C2266.6,704.7 2266.0,706.3 2265.4,707.8 C2264.8,709.4 2264.1,710.9 2263.5,712.5 C2262.9,714.0 2262.2,715.5 2261.6,717.1 C2261.0,718.6 2260.4,720.2 2259.7,721.7 C2259.1,723.3 2258.5,724.8 2257.9,726.3 C2257.3,727.9 2256.7,729.4 2256.0,731.0 C2255.4,732.5 2254.8,734.1 2254.2,735.6 C2253.7,737.2 2253.1,738.7 2252.5,740.3 C2251.9,741.9 2251.4,743.4 2250.8,745.0 C2250.2,746.6 2249.7,748.1 2249.2,749.7 C2248.6,751.3 2248.1,752.8 2247.6,754.4 C2247.1,756.0 2246.5,757.6 2246.0,759.2 C2245.5,760.8 2245.0,762.3 2244.5,763.9 C2244.0,765.5 2243.5,767.1 2243.1,768.7 C2242.6,770.3 2242.1,771.9 2241.6,773.5 C2241.1,775.0 2240.6,776.6 2240.1,778.2 C2239.6,779.8 2239.1,781.4 2238.6,783.0 C2238.1,784.6 2237.6,786.2 2237.1,787.8 C2236.6,789.3 2236.1,790.9 2235.6,792.5 C2235.1,794.1 2234.6,795.7 2234.0,797.2 C2233.5,798.8 2233.0,800.4 2232.4,802.0 C2231.8,803.5 2231.3,805.1 2230.7,806.6 C2230.1,808.2 2229.5,809.8 2228.9,811.3 C2228.3,812.9 2227.7,814.4 2227.1,815.9 C2226.4,817.5 2225.8,819.0 2225.1,820.5 C2224.4,822.1 2223.7,823.6 2223.0,825.1 C2222.3,826.6 2221.6,828.1 2220.9,829.7 C2220.2,831.2 2219.5,832.7 2218.8,834.2 C2218.0,835.7 2217.3,837.2 2216.6,838.7 C2215.9,840.2 2215.2,841.8 2214.5,843.3 C2213.9,844.8 2213.2,846.3 2212.6,847.9 C2211.9,849.4 2211.3,851.0 2210.7,852.5 C2210.1,854.1 2209.6,855.6 2209.0,857.2 C2208.5,858.8 2207.8,861.2 2207.6,862.0" fill="none" stroke="#000000" stroke-width="7.5" stroke-linejoin="round" stroke-linecap="butt"/>
<path d="M1441.6,826.5 C1441.6,825.6 1441.4,822.8 1441.7,821.1 C1441.9,819.4 1442.4,817.9 1443.0,816.4 C1443.6,815.0 1444.4,813.6 1445.3,812.4 C1446.3,811.1 1447.4,809.9 1448.6,808.8 C1449.7,807.7 1451.1,806.7 1452.5,805.7 C1453.9,804.7 1455.4,803.8 1456.9,802.9 C1458.4,802.0 1460.0,801.1 1461.6,800.3 C1463.2,799.5 1464.8,798.8 1466.4,798.3 C1468.1,797.7 1469.7,797.3 1471.3,797.2 C1472.9,797.0 1474.4,797.1 1475.9,797.5 C1477.4,797.9 1478.8,798.6 1480.2,799.5 C1481.6,800.3 1483.0,801.4 1484.3,802.4 C1485.6,803.5 1486.9,804.6 1488.1,805.7 C1489.4,806.8 1490.6,808.0 1491.8,809.1 C1493.0,810.3 1494.2,811.5 1495.3,812.7 C1496.5,813.9 1497.6,815.1 1498.7,816.3 C1499.8,817.6 1500.9,818.8 1501.9,820.1 C1503.0,821.4 1504.0,822.7 1505.0,824.0 C1506.1,825.3 1507.1,826.6 1508.0,828.0 C1509.0,829.3 1510.0,830.7 1510.9,832.0 C1511.9,833.4 1512.8,834.7 1513.8,836.1 C1514.7,837.5 1515.6,838.9 1516.5,840.3 C1517.4,841.7 1518.3,843.1 1519.2,844.5 C1520.1,845.9 1520.9,847.4 1521.8,848.8 C1522.7,850.2 1523.5,851.7 1524.4,853.1 C1525.3,854.5 1526.1,856.0 1527.0,857.4 C1527.8,858.8 1528.7,860.3 1529.5,861.7 C1530.4,863.2 1531.3,864.6 1532.1,866.0 C1533.0,867.5 1533.8,868.9 1534.7,870.4 C1535.6,871.8 1536.4,873.2 1537.3,874.6 C1538.2,876.1 1539.1,877.5 1540.0,878.9 C1540.9,880.3 1541.8,881.7 1542.7,883.1 C1543.6,884.5 1544.5,885.9 1545.4,887.3 C1546.4,888.6 1547.3,890.0 1548.3,891.4 C1549.2,892.7 1550.2,894.1 1551.2,895.4 C1552.2,896.7 1553.2,898.0 1554.2,899.3 C1555.3,900.6 1556.3,901.9 1557.4,903.2 C1558.4,904.5 1559.5,905.7 1560.6,907.0 C1561.7,908.2 1562.8,909.4 1563.9,910.7 C1565.0,911.9 1566.2,913.1 1567.3,914.3 C1568.5,915.4 1569.6,916.6 1570.8,917.8 C1572.0,918.9 1573.2,920.1 1574.4,921.2 C1575.6,922.3 1576.8,923.4 1578.1,924.5 C1579.3,925.6 1580.6,926.6 1581.9,927.7 C1583.1,928.7 1584.4,929.8 1585.7,930.8 C1587.0,931.8 1588.4,932.8 1589.7,933.8 C1591.0,934.8 1592.4,935.7 1593.8,936.7 C1595.1,937.6 1596.5,938.5 1597.9,939.4 C1599.3,940.3 1600.7,941.2 1602.2,942.0 C1603.6,942.9 1605.0,943.7 1606.5,944.6 C1608.0,945.4 1609.4,946.2 1610.9,946.9 C1612.4,947.7 1613.9,948.5 1615.4,949.2 C1616.9,949.9 1618.5,950.6 1620.0,951.2 C1621.6,951.9 1623.1,952.6 1624.7,953.2 C1626.2,953.8 1627.8,954.4 1629.4,954.9 C1631.0,955.4 1632.6,956.0 1634.2,956.4 C1635.8,956.9 1637.4,957.4 1639.0,957.8 C1640.6,958.2 1642.2,958.6 1643.9,958.9 C1645.5,959.3 1647.1,959.6 1648.8,959.9 C1650.4,960.1 1652.0,960.3 1653.7,960.5 C1655.4,960.7 1657.0,960.9 1658.7,961.0 C1660.3,961.1 1662.0,961.2 1663.6,961.2 C1665.3,961.2 1667.0,961.2 1668.6,961.1 C1670.3,961.0 1672.0,960.9 1673.6,960.7 C1675.2,960.5 1676.9,960.3 1678.5,960.0 C1680.1,959.6 1681.7,959.3 1683.2,958.8 C1684.8,958.4 1686.3,957.8 1687.8,957.2 C1689.3,956.6 1690.8,955.9 1692.2,955.1 C1693.6,954.3 1695.0,953.4 1696.3,952.5 C1697.6,951.5 1698.9,950.4 1700.2,949.4 C1701.4,948.3 1702.6,947.1 1703.8,945.9 C1705.1,944.7 1706.3,943.5 1707.5,942.2 C1708.6,941.0 1709.8,939.8 1711.0,938.5 C1712.2,937.3 1713.4,936.1 1714.7,934.9 C1715.9,933.8 1717.1,932.6 1718.4,931.5 C1719.6,930.3 1720.9,929.2 1722.1,928.1 C1723.4,927.0 1724.7,925.9 1725.9,924.9 C1727.2,923.8 1728.5,922.7 1729.8,921.7 C1731.0,920.6 1732.3,919.6 1733.6,918.5 C1734.9,917.5 1736.2,916.4 1737.4,915.4 C1738.7,914.3 1740.0,913.3 1741.3,912.2 C1742.5,911.1 1743.8,910.1 1745.0,909.0 C1746.3,907.9 1747.5,906.9 1748.8,905.8 C1750.0,904.7 1751.2,903.6 1752.5,902.4 C1753.7,901.3 1754.9,900.2 1756.1,899.1 C1757.3,897.9 1758.5,896.8 1759.7,895.6 C1760.9,894.4 1762.0,893.3 1763.2,892.1 C1764.4,890.9 1765.6,889.7 1766.7,888.5 C1767.9,887.4 1769.1,886.2 1770.2,885.0 C1771.4,883.8 1772.6,882.6 1773.7,881.4 C1774.9,880.2 1776.1,879.0 1777.2,877.8 C1778.4,876.6 1779.5,875.4 1780.7,874.2 C1781.9,873.0 1783.0,871.8 1784.2,870.6 C1785.4,869.4 1786.6,868.2 1787.8,867.0 C1788.9,865.8 1790.1,864.6 1791.3,863.5 C1792.5,862.3 1793.7,861.1 1794.9,859.9 C1796.1,858.8 1797.3,857.6 1798.4,856.4 C1799.6,855.2 1800.7,854.0 1801.8,852.8 C1802.9,851.5 1804.0,850.3 1805.1,849.0 C1806.1,847.7 1807.1,846.4 1808.0,845.1 C1809.0,843.7 1809.9,842.3 1810.7,840.9 C1811.6,839.5 1812.4,838.0 1813.2,836.5 C1814.0,835.1 1814.8,833.6 1815.6,832.2 C1816.4,830.7 1817.2,829.2 1818.1,827.8 C1818.9,826.4 1819.8,825.0 1820.8,823.6 C1821.7,822.3 1822.8,821.0 1823.8,819.7 C1824.9,818.4 1826.0,817.1 1827.1,815.9 C1828.2,814.6 1829.4,813.4 1830.5,812.1 C1831.6,810.9 1832.8,809.7 1833.9,808.4 C1835.0,807.2 1836.1,805.9 1837.2,804.6 C1838.3,803.4 1839.3,802.1 1840.4,800.8 C1841.4,799.4 1842.4,798.1 1843.4,796.8 C1844.4,795.5 1845.4,794.1 1846.3,792.8 C1847.3,791.4 1848.2,790.0 1849.1,788.6 C1850.1,787.3 1851.0,785.9 1851.9,784.5 C1852.7,783.1 1853.6,781.6 1854.5,780.2 C1855.3,778.8 1856.1,777.3 1857.0,775.9 C1857.8,774.5 1858.6,773.0 1859.4,771.5 C1860.2,770.1 1860.9,768.6 1861.7,767.1 C1862.5,765.7 1863.2,764.2 1863.9,762.7 C1864.7,761.2 1865.4,759.7 1866.1,758.2 C1866.8,756.7 1867.5,755.2 1868.2,753.7 C1868.9,752.2 1869.6,750.6 1870.2,749.1 C1870.9,747.6 1871.6,746.1 1872.2,744.5 C1872.9,743.0 1873.5,741.5 1874.1,739.9 C1874.8,738.4 1875.4,736.8 1876.0,735.3 C1876.6,733.8 1877.2,732.2 1877.8,730.7 C1878.4,729.1 1879.0,727.6 1879.6,726.0 C1880.2,724.5 1880.8,722.9 1881.4,721.4 C1882.0,719.8 1882.5,718.2 1883.1,716.7 C1883.7,715.1 1884.3,713.6 1884.9,712.0 C1885.4,710.4 1886.0,708.9 1886.6,707.3 C1887.2,705.8 1887.7,704.2 1888.3,702.6 C1888.9,701.1 1889.5,699.5 1890.0,697.9 C1890.6,696.4 1891.2,694.8 1891.8,693.2 C1892.4,691.7 1893.0,690.1 1893.5,688.6 C1894.1,687.0 1894.7,685.4 1895.3,683.9 C1895.9,682.3 1896.5,680.8 1897.1,679.2 C1897.7,677.7 1898.4,676.1 1899.0,674.6 C1899.6,673.0 1900.2,671.5 1900.9,669.9 C1901.5,668.4 1902.1,666.8 1902.8,665.3 C1903.4,663.8 1904.1,662.2 1904.7,660.7 C1905.4,659.2 1906.1,657.7 1906.8,656.1 C1907.5,654.6 1908.1,653.1 1908.9,651.6 C1909.6,650.1 1910.3,648.6 1911.0,647.1 C1911.7,645.6 1912.5,644.1 1913.2,642.6 C1914.0,641.2 1914.7,639.7 1915.5,638.2 C1916.3,636.7 1917.1,635.3 1917.9,633.8 C1918.7,632.4 1919.5,630.9 1920.3,629.5 C1921.1,628.0 1922.0,626.6 1922.8,625.2 C1923.7,623.7 1924.6,622.3 1925.4,620.9 C1926.3,619.5 1927.2,618.1 1928.1,616.7 C1929.0,615.3 1929.9,613.9 1930.8,612.5 C1931.7,611.1 1932.6,609.7 1933.5,608.3 C1934.4,606.9 1935.3,605.5 1936.2,604.1 C1937.1,602.7 1938.0,601.3 1938.9,599.9 C1939.8,598.4 1940.7,597.0 1941.6,595.6 C1942.5,594.2 1943.4,592.8 1944.3,591.4 C1945.1,590.0 1946.0,588.6 1946.9,587.2 C1947.7,585.7 1948.6,584.3 1949.4,582.9 C1950.3,581.4 1951.1,580.0 1952.0,578.6 C1952.8,577.1 1953.6,575.7 1954.5,574.2 C1955.3,572.8 1956.1,571.4 1956.9,569.9 C1957.8,568.5 1958.6,567.0 1959.4,565.6 C1960.2,564.1 1961.0,562.7 1961.8,561.2 C1962.7,559.8 1963.5,558.3 1964.3,556.9 C1965.1,555.5 1966.0,554.0 1966.8,552.6 C1967.6,551.1 1968.5,549.7 1969.3,548.3 C1970.1,546.8 1971.0,545.4 1971.8,544.0 C1972.7,542.5 1973.5,541.1 1974.4,539.7 C1975.3,538.3 1976.1,536.9 1977.0,535.4 C1977.9,534.0 1978.8,532.6 1979.7,531.2 C1980.6,529.8 1981.5,528.4 1982.5,527.1 C1983.4,525.7 1984.3,524.3 1985.3,522.9 C1986.3,521.6 1987.2,520.2 1988.2,518.8 C1989.2,517.5 1990.2,516.1 1991.2,514.8 C1992.3,513.5 1993.3,512.2 1994.4,510.9 C1995.4,509.6 1996.5,508.3 1997.6,507.1 C1998.8,505.9 1999.9,504.7 2001.1,503.5 C2002.2,502.3 2003.4,501.2 2004.7,500.1 C2005.9,499.0 2007.1,497.9 2008.4,496.9 C2009.7,495.9 2011.1,494.9 2012.4,494.0 C2013.8,493.0 2015.2,492.2 2016.6,491.4 C2018.1,490.5 2019.5,489.8 2021.0,489.0 C2022.5,488.3 2024.1,487.6 2025.6,487.0 C2027.2,486.4 2028.7,485.8 2030.3,485.3 C2031.9,484.7 2033.5,484.2 2035.1,483.8 C2036.8,483.3 2038.4,482.9 2040.0,482.5 C2041.7,482.1 2043.3,481.8 2044.9,481.5 C2046.6,481.2 2048.2,480.9 2049.9,480.7 C2051.5,480.4 2053.1,480.2 2054.8,480.1 C2056.4,479.9 2058.0,479.8 2059.7,479.9 C2061.3,480.0 2063.0,480.4 2064.6,480.8 C2066.3,481.1 2068.0,481.8 2069.6,482.1 C2071.2,482.3 2072.8,482.6 2074.3,482.4 C2075.8,482.3 2077.3,481.7 2078.7,481.1 C2080.1,480.5 2081.4,479.6 2082.8,478.8 C2084.1,478.0 2085.3,477.0 2086.6,476.1 C2087.8,475.1 2089.0,474.0 2090.2,473.0 C2091.3,471.9 2092.4,470.7 2093.5,469.5 C2094.6,468.3 2095.7,467.0 2096.7,465.8 C2097.8,464.5 2098.8,463.1 2099.8,461.8 C2100.8,460.4 2101.7,459.0 2102.7,457.6 C2103.6,456.2 2104.5,454.7 2105.4,453.2 C2106.3,451.8 2107.2,450.3 2108.1,448.8 C2109.0,447.3 2109.9,445.8 2110.7,444.3 C2111.6,442.7 2112.4,441.2 2113.3,439.7 C2114.1,438.2 2114.9,436.7 2115.8,435.2 C2116.6,433.7 2117.5,432.2 2118.3,430.7 C2119.1,429.2 2120.0,427.8 2120.9,426.3 C2121.7,424.9 2122.6,423.5 2123.5,422.1 C2124.4,420.7 2125.3,419.3 2126.3,418.0 C2127.2,416.6 2128.2,415.3 2129.2,414.1 C2130.2,412.8 2131.2,411.5 2132.3,410.3 C2133.4,409.1 2134.5,408.0 2135.7,406.8 C2136.8,405.7 2138.0,404.6 2139.3,403.6 C2140.6,402.6 2141.9,401.6 2143.3,400.7 C2144.6,399.8 2146.0,398.9 2147.5,398.2 C2149.0,397.4 2150.5,396.7 2152.0,396.2 C2153.5,395.6 2155.1,395.2 2156.7,394.8 C2158.3,394.5 2159.9,394.3 2161.5,394.3 C2163.1,394.2 2164.8,394.3 2166.5,394.5 C2168.1,394.7 2169.8,395.0 2171.5,395.3 C2173.2,395.6 2174.8,396.0 2176.5,396.3 C2178.2,396.7 2179.8,397.1 2181.5,397.5 C2183.1,397.9 2184.8,398.2 2186.4,398.6 C2188.1,399.1 2189.7,399.5 2191.4,399.9 C2193.0,400.3 2194.6,400.7 2196.2,401.2 C2197.9,401.6 2199.5,402.0 2201.1,402.5 C2202.7,402.9 2204.3,403.4 2205.9,403.9 C2207.5,404.3 2209.1,404.8 2210.7,405.3 C2212.3,405.7 2213.9,406.2 2215.5,406.7 C2217.1,407.2 2218.6,407.7 2220.2,408.2 C2221.8,408.7 2223.4,409.2 2225.0,409.7 C2226.5,410.2 2228.1,410.8 2229.7,411.3 C2231.2,411.8 2232.8,412.3 2234.4,412.9 C2235.9,413.4 2237.5,413.9 2239.1,414.5 C2240.6,415.0 2242.2,415.6 2243.7,416.1 C2245.3,416.7 2246.9,417.2 2248.4,417.8 C2250.0,418.3 2251.5,418.9 2253.1,419.5 C2254.6,420.0 2256.2,420.6 2257.7,421.2 C2259.3,421.8 2260.9,422.3 2262.4,422.9 C2264.0,423.5 2265.5,424.1 2267.1,424.6 C2268.6,425.2 2270.2,425.8 2271.7,426.4 C2273.3,427.0 2274.8,427.6 2276.4,428.1 C2278.0,428.7 2279.5,429.3 2281.1,429.9 C2282.6,430.5 2284.2,431.1 2285.8,431.7 C2287.3,432.3 2288.9,432.9 2290.4,433.5 C2292.0,434.0 2293.6,434.6 2295.1,435.2 C2296.7,435.8 2298.2,436.4 2299.8,437.0 C2301.4,437.6 2302.9,438.2 2304.5,438.8 C2306.1,439.3 2307.6,439.9 2309.2,440.5 C2310.7,441.1 2312.3,441.7 2313.9,442.3 C2315.4,442.8 2317.0,443.4 2318.6,444.0 C2320.1,444.6 2321.7,445.1 2323.3,445.7 C2324.9,446.3 2326.4,446.9 2328.0,447.4 C2329.6,448.0 2331.1,448.5 2332.7,449.1 C2334.3,449.7 2335.8,450.2 2337.4,450.8 C2339.0,451.3 2340.6,451.9 2342.1,452.4 C2343.7,452.9 2345.3,453.5 2346.9,454.0 C2348.4,454.5 2350.0,455.1 2351.6,455.6 C2353.2,456.1 2354.7,456.6 2356.3,457.1 C2357.9,457.7 2359.5,458.2 2361.0,458.7 C2362.6,459.3 2364.2,459.8 2365.7,460.3 C2367.3,460.9 2368.9,461.5 2370.4,462.1 C2372.0,462.6 2373.6,463.2 2375.1,463.9 C2376.7,464.5 2378.2,465.2 2379.8,465.9 C2381.3,466.6 2382.9,467.2 2384.3,468.1 C2385.7,468.9 2387.1,469.8 2388.2,470.9 C2389.3,472.0 2390.2,473.3 2391.0,474.7 C2391.7,476.1 2392.3,477.7 2392.7,479.3 C2393.1,480.9 2393.4,482.7 2393.6,484.4 C2393.7,486.2 2393.8,488.0 2393.8,489.7 C2393.8,491.5 2393.7,493.3 2393.5,495.0 C2393.4,496.7 2393.2,498.4 2392.9,500.1 C2392.6,501.8 2392.3,503.4 2392.0,505.1 C2391.6,506.7 2391.2,508.3 2390.7,509.9 C2390.3,511.5 2389.8,513.1 2389.2,514.6 C2388.7,516.2 2388.1,517.7 2387.5,519.3 C2386.8,520.8 2386.2,522.3 2385.5,523.8 C2384.8,525.3 2384.1,526.7 2383.3,528.2 C2382.6,529.6 2381.8,531.1 2381.0,532.5 C2380.2,534.0 2379.3,535.4 2378.5,536.8 C2377.6,538.2 2376.8,539.6 2375.9,541.0 C2375.0,542.4 2374.0,543.8 2373.1,545.1 C2372.2,546.5 2371.3,547.9 2370.3,549.3 C2369.4,550.6 2368.4,552.0 2367.4,553.4 C2366.5,554.7 2365.5,556.1 2364.5,557.4 C2363.5,558.8 2362.5,560.2 2361.6,561.5 C2360.6,562.9 2359.6,564.2 2358.6,565.6 C2357.7,566.9 2356.7,568.3 2355.7,569.7 C2354.7,571.0 2353.8,572.4 2352.8,573.7 C2351.8,575.1 2350.9,576.5 2349.9,577.8 C2349.0,579.2 2348.0,580.6 2347.0,581.9 C2346.1,583.3 2345.1,584.7 2344.2,586.0 C2343.2,587.4 2342.3,588.8 2341.3,590.2 C2340.4,591.5 2339.4,592.9 2338.5,594.3 C2337.6,595.7 2336.6,597.1 2335.7,598.4 C2334.8,599.8 2333.9,601.2 2332.9,602.6 C2332.0,604.0 2331.1,605.4 2330.2,606.8 C2329.3,608.2 2328.4,609.5 2327.4,610.9 C2326.5,612.3 2325.6,613.7 2324.7,615.1 C2323.8,616.5 2323.0,617.9 2322.1,619.4 C2321.2,620.8 2320.3,622.2 2319.4,623.6 C2318.5,625.0 2317.7,626.4 2316.8,627.8 C2315.9,629.2 2315.1,630.7 2314.2,632.1 C2313.4,633.5 2312.5,634.9 2311.7,636.4 C2310.8,637.8 2310.0,639.2 2309.2,640.7 C2308.3,642.1 2307.5,643.6 2306.7,645.0 C2305.9,646.4 2305.1,647.9 2304.3,649.3 C2303.5,650.8 2302.7,652.3 2301.9,653.7 C2301.1,655.2 2300.3,656.6 2299.5,658.1 C2298.7,659.6 2298.0,661.0 2297.2,662.5 C2296.4,664.0 2295.7,665.5 2294.9,667.0 C2294.2,668.4 2293.4,669.9 2292.7,671.4 C2291.9,672.9 2291.2,674.4 2290.5,675.9 C2289.7,677.4 2289.0,678.9 2288.3,680.4 C2287.6,681.9 2286.9,683.4 2286.1,684.9 C2285.4,686.4 2284.7,687.9 2284.0,689.4 C2283.3,690.9 2282.6,692.4 2281.9,693.9 C2281.2,695.4 2280.5,696.9 2279.8,698.5 C2279.1,700.0 2278.4,701.5 2277.7,703.0 C2277.0,704.5 2276.3,706.0 2275.6,707.5 C2274.9,709.0 2274.2,710.6 2273.5,712.1 C2272.8,713.6 2272.1,715.1 2271.4,716.6 C2270.7,718.1 2270.0,719.6 2269.3,721.1 C2268.6,722.7 2267.9,724.2 2267.2,725.7 C2266.5,727.2 2265.8,728.7 2265.1,730.2 C2264.4,731.7 2263.7,733.2 2263.0,734.7 C2262.3,736.2 2261.6,737.8 2261.0,739.3 C2260.3,740.8 2259.7,742.3 2259.1,743.9 C2258.4,745.4 2257.8,747.0 2257.3,748.5 C2256.7,750.1 2256.1,751.7 2255.6,753.2 C2255.1,754.8 2254.5,756.4 2254.0,758.0 C2253.5,759.5 2253.0,761.1 2252.5,762.7 C2252.1,764.3 2251.6,765.9 2251.1,767.5 C2250.6,769.1 2250.1,770.7 2249.6,772.3 C2249.1,773.9 2248.6,775.4 2248.1,777.0 C2247.6,778.6 2247.1,780.2 2246.6,781.8 C2246.0,783.3 2245.5,784.9 2244.9,786.5 C2244.4,788.0 2243.8,789.6 2243.2,791.2 C2242.6,792.7 2242.0,794.3 2241.4,795.8 C2240.8,797.4 2240.2,798.9 2239.6,800.4 C2238.9,802.0 2238.3,803.5 2237.6,805.1 C2237.0,806.6 2236.4,808.1 2235.7,809.7 C2235.0,811.2 2234.4,812.7 2233.7,814.2 C2233.0,815.8 2232.4,817.3 2231.7,818.8 C2231.0,820.3 2230.3,821.9 2229.7,823.4 C2229.0,824.9 2228.3,826.4 2227.6,827.9 C2226.9,829.5 2226.2,831.0 2225.6,832.5 C2224.9,834.0 2224.2,835.5 2223.5,837.1 C2222.8,838.6 2222.2,840.1 2221.5,841.6 C2220.8,843.2 2220.1,844.7 2219.5,846.2 C2218.8,847.7 2218.1,849.3 2217.5,850.8 C2216.8,852.3 2216.2,853.9 2215.5,855.4 C2214.9,856.9 2214.3,858.5 2213.6,860.0 C2213.0,861.6 2212.4,863.1 2211.8,864.6 C2211.2,866.2 2210.3,868.5 2210.0,869.3" fill="none" stroke="#e41a1c" stroke-width="5.2" stroke-linejoin="round" stroke-linecap="butt"/>
<path d="M1441.6,826.5 C1441.7,825.6 1441.8,823.0 1442.2,821.4 C1442.6,819.8 1443.2,818.3 1444.0,816.9 C1444.7,815.5 1445.7,814.3 1446.8,813.0 C1447.8,811.8 1449.0,810.6 1450.3,809.5 C1451.5,808.4 1452.9,807.3 1454.3,806.3 C1455.7,805.2 1457.2,804.2 1458.7,803.2 C1460.2,802.3 1461.7,801.4 1463.3,800.7 C1464.8,800.0 1466.4,799.4 1468.0,799.0 C1469.5,798.6 1471.1,798.4 1472.6,798.5 C1474.2,798.6 1475.7,798.9 1477.2,799.5 C1478.6,800.1 1480.1,801.0 1481.5,801.9 C1482.9,802.8 1484.2,803.9 1485.4,805.0 C1486.7,806.1 1487.8,807.3 1489.0,808.5 C1490.1,809.8 1491.2,811.0 1492.2,812.4 C1493.2,813.7 1494.2,815.0 1495.2,816.4 C1496.2,817.8 1497.1,819.2 1498.1,820.6 C1499.0,822.0 1499.9,823.4 1500.8,824.8 C1501.8,826.2 1502.7,827.6 1503.6,829.0 C1504.6,830.4 1505.6,831.8 1506.5,833.1 C1507.5,834.5 1508.5,835.8 1509.6,837.1 C1510.6,838.4 1511.6,839.7 1512.7,841.0 C1513.7,842.3 1514.7,843.5 1515.8,844.8 C1516.8,846.1 1517.8,847.4 1518.8,848.7 C1519.8,850.0 1520.8,851.3 1521.8,852.7 C1522.8,854.0 1523.7,855.4 1524.6,856.7 C1525.6,858.1 1526.5,859.5 1527.4,860.9 C1528.3,862.3 1529.1,863.8 1530.0,865.2 C1530.9,866.6 1531.7,868.1 1532.6,869.5 C1533.4,870.9 1534.3,872.4 1535.1,873.8 C1536.0,875.3 1536.8,876.7 1537.7,878.2 C1538.5,879.6 1539.4,881.1 1540.2,882.5 C1541.1,883.9 1542.0,885.4 1542.9,886.8 C1543.8,888.2 1544.7,889.6 1545.6,891.0 C1546.5,892.4 1547.5,893.7 1548.4,895.1 C1549.4,896.4 1550.4,897.8 1551.4,899.1 C1552.4,900.4 1553.4,901.7 1554.5,903.0 C1555.5,904.3 1556.6,905.6 1557.7,906.8 C1558.8,908.1 1559.9,909.3 1561.0,910.5 C1562.1,911.7 1563.2,913.0 1564.4,914.1 C1565.5,915.3 1566.7,916.5 1567.9,917.7 C1569.1,918.8 1570.3,920.0 1571.5,921.1 C1572.7,922.2 1573.9,923.4 1575.2,924.4 C1576.4,925.5 1577.7,926.6 1578.9,927.7 C1580.2,928.8 1581.5,929.8 1582.8,930.8 C1584.1,931.9 1585.4,932.9 1586.7,933.9 C1588.0,934.9 1589.4,935.9 1590.7,936.9 C1592.1,937.9 1593.4,938.8 1594.8,939.8 C1596.2,940.7 1597.6,941.6 1599.0,942.5 C1600.4,943.5 1601.8,944.4 1603.2,945.2 C1604.6,946.1 1606.0,947.0 1607.5,947.8 C1608.9,948.7 1610.4,949.5 1611.8,950.3 C1613.3,951.2 1614.7,952.0 1616.2,952.7 C1617.7,953.5 1619.2,954.3 1620.7,955.0 C1622.2,955.7 1623.7,956.4 1625.2,957.1 C1626.7,957.8 1628.2,958.5 1629.8,959.1 C1631.3,959.7 1632.9,960.3 1634.4,960.9 C1636.0,961.5 1637.5,962.0 1639.1,962.5 C1640.7,963.1 1642.3,963.5 1643.9,964.0 C1645.4,964.5 1647.0,964.9 1648.7,965.3 C1650.3,965.7 1651.9,966.0 1653.5,966.3 C1655.1,966.6 1656.8,966.9 1658.4,967.2 C1660.1,967.4 1661.7,967.6 1663.4,967.8 C1665.0,967.9 1666.7,968.1 1668.4,968.1 C1670.1,968.2 1671.7,968.2 1673.4,968.2 C1675.1,968.2 1676.7,968.1 1678.4,967.9 C1680.0,967.8 1681.6,967.5 1683.2,967.2 C1684.8,966.9 1686.4,966.5 1688.0,966.0 C1689.5,965.6 1691.1,965.0 1692.5,964.3 C1694.0,963.6 1695.4,962.9 1696.8,962.0 C1698.2,961.2 1699.6,960.2 1700.9,959.2 C1702.3,958.2 1703.6,957.1 1704.9,956.0 C1706.2,954.9 1707.4,953.7 1708.7,952.6 C1710.0,951.5 1711.2,950.3 1712.5,949.2 C1713.8,948.0 1715.0,946.9 1716.3,945.8 C1717.6,944.6 1718.8,943.5 1720.1,942.4 C1721.4,941.3 1722.6,940.3 1723.9,939.2 C1725.2,938.1 1726.4,937.0 1727.7,936.0 C1729.0,934.9 1730.2,933.8 1731.5,932.8 C1732.8,931.7 1734.0,930.6 1735.3,929.6 C1736.6,928.5 1737.8,927.4 1739.1,926.4 C1740.3,925.3 1741.6,924.2 1742.8,923.2 C1744.1,922.1 1745.3,921.0 1746.6,919.9 C1747.8,918.8 1749.0,917.7 1750.3,916.6 C1751.5,915.5 1752.7,914.4 1753.9,913.3 C1755.2,912.2 1756.4,911.0 1757.6,909.9 C1758.8,908.8 1760.0,907.6 1761.2,906.5 C1762.4,905.3 1763.6,904.1 1764.8,903.0 C1765.9,901.8 1767.1,900.6 1768.3,899.4 C1769.5,898.3 1770.6,897.1 1771.8,895.9 C1773.0,894.7 1774.1,893.5 1775.3,892.2 C1776.4,891.0 1777.6,889.8 1778.7,888.6 C1779.8,887.4 1781.0,886.1 1782.1,884.9 C1783.2,883.7 1784.3,882.4 1785.5,881.2 C1786.6,879.9 1787.7,878.7 1788.8,877.4 C1789.9,876.2 1791.0,874.9 1792.0,873.6 C1793.1,872.4 1794.2,871.1 1795.3,869.8 C1796.3,868.6 1797.4,867.3 1798.5,866.0 C1799.5,864.7 1800.6,863.4 1801.6,862.1 C1802.6,860.8 1803.7,859.6 1804.7,858.3 C1805.7,857.0 1806.8,855.7 1807.8,854.4 C1808.8,853.1 1809.8,851.7 1810.8,850.4 C1811.8,849.1 1812.8,847.8 1813.8,846.5 C1814.8,845.2 1815.8,843.9 1816.8,842.6 C1817.8,841.2 1818.8,839.9 1819.8,838.6 C1820.8,837.3 1821.8,836.0 1822.8,834.6 C1823.8,833.3 1824.8,832.0 1825.8,830.6 C1826.8,829.3 1827.8,828.0 1828.8,826.7 C1829.8,825.3 1830.8,824.0 1831.8,822.7 C1832.8,821.3 1833.8,820.0 1834.8,818.6 C1835.8,817.3 1836.8,816.0 1837.8,814.6 C1838.7,813.3 1839.7,811.9 1840.7,810.6 C1841.7,809.2 1842.6,807.9 1843.6,806.5 C1844.6,805.1 1845.5,803.8 1846.4,802.4 C1847.4,801.0 1848.3,799.6 1849.2,798.2 C1850.2,796.9 1851.1,795.5 1852.0,794.1 C1852.9,792.7 1853.8,791.3 1854.6,789.9 C1855.5,788.5 1856.4,787.0 1857.3,785.6 C1858.1,784.2 1859.0,782.8 1859.8,781.3 C1860.7,779.9 1861.5,778.5 1862.3,777.0 C1863.1,775.6 1863.9,774.1 1864.7,772.7 C1865.5,771.2 1866.3,769.8 1867.0,768.3 C1867.8,766.8 1868.6,765.4 1869.3,763.9 C1870.1,762.4 1870.8,760.9 1871.5,759.4 C1872.2,757.9 1872.9,756.4 1873.6,754.9 C1874.3,753.4 1875.0,751.9 1875.6,750.4 C1876.3,748.8 1876.9,747.3 1877.6,745.8 C1878.2,744.2 1878.8,742.7 1879.4,741.2 C1880.0,739.6 1880.6,738.0 1881.2,736.5 C1881.8,734.9 1882.3,733.4 1882.9,731.8 C1883.5,730.2 1884.0,728.6 1884.6,727.1 C1885.1,725.5 1885.7,723.9 1886.2,722.3 C1886.8,720.8 1887.3,719.2 1887.9,717.6 C1888.4,716.0 1889.0,714.5 1889.5,712.9 C1890.1,711.3 1890.6,709.7 1891.2,708.2 C1891.8,706.6 1892.3,705.0 1892.9,703.5 C1893.5,701.9 1894.1,700.4 1894.7,698.8 C1895.3,697.3 1895.9,695.7 1896.6,694.2 C1897.2,692.6 1897.8,691.1 1898.5,689.6 C1899.1,688.0 1899.8,686.5 1900.4,685.0 C1901.1,683.5 1901.8,682.0 1902.5,680.5 C1903.2,678.9 1903.9,677.4 1904.6,675.9 C1905.3,674.4 1906.0,672.9 1906.7,671.4 C1907.4,669.9 1908.1,668.4 1908.8,666.9 C1909.6,665.4 1910.3,664.0 1911.0,662.5 C1911.8,661.0 1912.5,659.5 1913.3,658.0 C1914.0,656.5 1914.8,655.0 1915.5,653.6 C1916.3,652.1 1917.0,650.6 1917.8,649.1 C1918.5,647.7 1919.3,646.2 1920.1,644.7 C1920.8,643.2 1921.6,641.7 1922.4,640.3 C1923.1,638.8 1923.9,637.3 1924.7,635.9 C1925.4,634.4 1926.2,632.9 1927.0,631.4 C1927.7,630.0 1928.5,628.5 1929.3,627.0 C1930.0,625.5 1930.8,624.1 1931.6,622.6 C1932.3,621.1 1933.1,619.6 1933.9,618.2 C1934.6,616.7 1935.4,615.2 1936.2,613.7 C1936.9,612.3 1937.7,610.8 1938.5,609.3 C1939.2,607.8 1940.0,606.4 1940.8,604.9 C1941.5,603.4 1942.3,601.9 1943.1,600.5 C1943.8,599.0 1944.6,597.5 1945.4,596.1 C1946.1,594.6 1946.9,593.1 1947.7,591.6 C1948.4,590.2 1949.2,588.7 1950.0,587.2 C1950.7,585.7 1951.5,584.3 1952.3,582.8 C1953.0,581.3 1953.8,579.9 1954.6,578.4 C1955.4,576.9 1956.1,575.5 1956.9,574.0 C1957.7,572.5 1958.5,571.1 1959.3,569.6 C1960.0,568.2 1960.8,566.7 1961.6,565.2 C1962.4,563.8 1963.2,562.3 1964.0,560.9 C1964.8,559.4 1965.6,558.0 1966.4,556.5 C1967.3,555.1 1968.1,553.7 1968.9,552.2 C1969.7,550.8 1970.6,549.3 1971.4,547.9 C1972.3,546.5 1973.1,545.1 1974.0,543.6 C1974.8,542.2 1975.7,540.8 1976.5,539.4 C1977.4,538.0 1978.3,536.5 1979.2,535.1 C1980.1,533.7 1981.0,532.3 1981.9,530.9 C1982.8,529.5 1983.7,528.1 1984.7,526.8 C1985.6,525.4 1986.5,524.0 1987.5,522.6 C1988.4,521.2 1989.4,519.9 1990.4,518.5 C1991.4,517.2 1992.3,515.8 1993.3,514.5 C1994.4,513.1 1995.4,511.8 1996.4,510.5 C1997.4,509.2 1998.5,507.9 1999.6,506.6 C2000.6,505.3 2001.7,504.0 2002.9,502.8 C2004.0,501.6 2005.1,500.4 2006.3,499.2 C2007.4,498.0 2008.6,496.8 2009.8,495.7 C2011.0,494.6 2012.2,493.5 2013.5,492.4 C2014.8,491.4 2016.1,490.3 2017.4,489.4 C2018.7,488.5 2020.1,487.6 2021.5,486.8 C2023.0,486.1 2024.5,485.5 2026.0,484.9 C2027.6,484.4 2029.2,484.1 2030.9,483.8 C2032.5,483.4 2034.2,483.2 2035.9,482.9 C2037.6,482.5 2039.2,482.1 2040.9,481.7 C2042.5,481.2 2044.1,480.6 2045.7,480.1 C2047.3,479.6 2048.9,479.1 2050.5,478.8 C2052.1,478.4 2053.8,478.2 2055.4,478.1 C2057.0,478.1 2058.7,478.2 2060.3,478.4 C2062.0,478.7 2063.7,479.2 2065.3,479.6 C2067.0,480.0 2068.7,480.6 2070.3,480.9 C2071.9,481.1 2073.4,481.2 2074.9,481.0 C2076.4,480.7 2077.9,480.1 2079.3,479.4 C2080.6,478.7 2082.0,477.9 2083.3,477.0 C2084.6,476.2 2085.8,475.2 2087.1,474.2 C2088.3,473.2 2089.5,472.1 2090.6,471.0 C2091.8,469.9 2092.9,468.7 2093.9,467.5 C2095.0,466.3 2096.1,465.0 2097.1,463.7 C2098.1,462.4 2099.1,461.0 2100.1,459.6 C2101.1,458.3 2102.0,456.8 2103.0,455.4 C2103.9,454.0 2104.8,452.5 2105.7,451.0 C2106.6,449.5 2107.5,448.0 2108.3,446.5 C2109.2,445.0 2110.0,443.5 2110.9,442.0 C2111.7,440.4 2112.6,438.9 2113.4,437.4 C2114.2,435.9 2115.0,434.4 2115.8,432.9 C2116.6,431.4 2117.4,429.9 2118.3,428.5 C2119.1,427.0 2119.9,425.5 2120.7,424.1 C2121.6,422.7 2122.4,421.3 2123.2,419.9 C2124.1,418.5 2125.0,417.1 2125.9,415.7 C2126.8,414.4 2127.7,413.0 2128.6,411.7 C2129.6,410.4 2130.6,409.1 2131.6,407.8 C2132.6,406.6 2133.7,405.3 2134.8,404.1 C2135.9,402.9 2137.0,401.7 2138.2,400.6 C2139.4,399.4 2140.6,398.3 2141.9,397.2 C2143.2,396.1 2144.5,395.1 2145.9,394.2 C2147.3,393.2 2148.7,392.3 2150.2,391.5 C2151.6,390.8 2153.1,390.1 2154.7,389.6 C2156.2,389.0 2157.8,388.6 2159.4,388.4 C2161.0,388.1 2162.6,388.1 2164.3,388.1 C2166.0,388.2 2167.6,388.4 2169.3,388.7 C2171.0,388.9 2172.7,389.3 2174.4,389.7 C2176.1,390.0 2177.7,390.4 2179.4,390.8 C2181.1,391.2 2182.7,391.6 2184.4,392.0 C2186.0,392.4 2187.7,392.8 2189.3,393.2 C2190.9,393.6 2192.6,394.0 2194.2,394.5 C2195.8,394.9 2197.4,395.3 2199.0,395.8 C2200.6,396.2 2202.2,396.7 2203.8,397.1 C2205.4,397.6 2207.0,398.0 2208.6,398.5 C2210.2,399.0 2211.8,399.5 2213.3,400.0 C2214.9,400.4 2216.5,400.9 2218.1,401.4 C2219.6,401.9 2221.2,402.4 2222.8,402.9 C2224.3,403.5 2225.9,404.0 2227.5,404.5 C2229.0,405.0 2230.6,405.5 2232.1,406.1 C2233.7,406.6 2235.3,407.2 2236.8,407.7 C2238.4,408.2 2239.9,408.8 2241.5,409.3 C2243.0,409.9 2244.6,410.5 2246.2,411.0 C2247.7,411.6 2249.3,412.2 2250.8,412.7 C2252.4,413.3 2254.0,413.9 2255.5,414.4 C2257.1,415.0 2258.6,415.6 2260.2,416.2 C2261.7,416.8 2263.3,417.4 2264.9,418.0 C2266.4,418.5 2268.0,419.1 2269.5,419.7 C2271.1,420.3 2272.7,420.9 2274.2,421.5 C2275.8,422.1 2277.3,422.7 2278.9,423.3 C2280.5,423.9 2282.0,424.5 2283.6,425.1 C2285.1,425.7 2286.7,426.3 2288.3,426.9 C2289.8,427.5 2291.4,428.1 2292.9,428.7 C2294.5,429.3 2296.1,429.9 2297.6,430.5 C2299.2,431.1 2300.7,431.6 2302.3,432.2 C2303.9,432.8 2305.4,433.4 2307.0,434.0 C2308.6,434.6 2310.1,435.2 2311.7,435.7 C2313.2,436.3 2314.8,436.9 2316.4,437.5 C2317.9,438.0 2319.5,438.6 2321.0,439.2 C2322.6,439.7 2324.2,440.3 2325.7,440.9 C2327.3,441.4 2328.9,442.0 2330.4,442.5 C2332.0,443.1 2333.6,443.6 2335.1,444.1 C2336.7,444.7 2338.3,445.2 2339.8,445.7 C2341.4,446.2 2343.0,446.7 2344.6,447.2 C2346.2,447.6 2347.8,448.1 2349.3,448.6 C2350.9,449.0 2352.5,449.4 2354.1,449.9 C2355.7,450.3 2357.4,450.7 2359.0,451.2 C2360.6,451.6 2362.2,452.0 2363.8,452.5 C2365.4,453.1 2367.0,453.6 2368.6,454.2 C2370.2,454.7 2371.8,455.4 2373.3,456.1 C2374.9,456.8 2376.4,457.6 2377.8,458.4 C2379.3,459.3 2380.7,460.2 2381.9,461.2 C2383.2,462.2 2384.3,463.3 2385.3,464.5 C2386.3,465.7 2387.1,467.0 2387.8,468.4 C2388.4,469.8 2388.9,471.4 2389.2,472.9 C2389.6,474.5 2389.7,476.2 2389.8,477.9 C2389.9,479.6 2389.9,481.4 2389.8,483.1 C2389.8,484.9 2389.6,486.7 2389.4,488.5 C2389.3,490.2 2389.1,492.0 2388.9,493.7 C2388.7,495.5 2388.4,497.2 2388.1,498.9 C2387.9,500.6 2387.6,502.3 2387.2,504.0 C2386.9,505.6 2386.5,507.3 2386.1,508.9 C2385.6,510.5 2385.2,512.0 2384.6,513.6 C2384.1,515.1 2383.5,516.7 2382.8,518.1 C2382.1,519.6 2381.4,521.1 2380.6,522.5 C2379.8,523.9 2378.9,525.2 2378.0,526.6 C2377.0,527.9 2376.1,529.3 2375.0,530.6 C2374.0,531.9 2373.0,533.2 2371.9,534.4 C2370.8,535.7 2369.7,537.0 2368.7,538.3 C2367.6,539.6 2366.5,540.8 2365.4,542.1 C2364.4,543.4 2363.3,544.7 2362.2,546.0 C2361.2,547.3 2360.1,548.6 2359.1,549.9 C2358.1,551.2 2357.0,552.5 2356.0,553.8 C2355.0,555.1 2354.0,556.5 2352.9,557.8 C2351.9,559.1 2350.9,560.5 2349.9,561.8 C2348.9,563.1 2347.9,564.5 2347.0,565.8 C2346.0,567.2 2345.0,568.5 2344.0,569.9 C2343.1,571.2 2342.1,572.6 2341.1,573.9 C2340.2,575.3 2339.2,576.7 2338.3,578.0 C2337.3,579.4 2336.4,580.8 2335.5,582.2 C2334.5,583.5 2333.6,584.9 2332.7,586.3 C2331.8,587.7 2330.9,589.1 2330.0,590.5 C2329.0,591.9 2328.1,593.3 2327.2,594.7 C2326.4,596.1 2325.5,597.5 2324.6,598.9 C2323.7,600.3 2322.8,601.7 2321.9,603.1 C2321.1,604.5 2320.2,606.0 2319.3,607.4 C2318.5,608.8 2317.6,610.2 2316.8,611.7 C2315.9,613.1 2315.1,614.5 2314.2,615.9 C2313.4,617.4 2312.6,618.8 2311.7,620.3 C2310.9,621.7 2310.1,623.1 2309.3,624.6 C2308.4,626.0 2307.6,627.5 2306.8,628.9 C2306.0,630.4 2305.2,631.8 2304.4,633.3 C2303.6,634.8 2302.8,636.2 2302.0,637.7 C2301.2,639.1 2300.4,640.6 2299.6,642.1 C2298.9,643.5 2298.1,645.0 2297.3,646.5 C2296.5,648.0 2295.8,649.4 2295.0,650.9 C2294.2,652.4 2293.5,653.9 2292.7,655.3 C2292.0,656.8 2291.2,658.3 2290.5,659.8 C2289.7,661.3 2289.0,662.7 2288.2,664.2 C2287.5,665.7 2286.7,667.2 2286.0,668.7 C2285.3,670.2 2284.5,671.7 2283.8,673.2 C2283.1,674.7 2282.3,676.2 2281.6,677.7 C2280.9,679.2 2280.2,680.7 2279.5,682.2 C2278.8,683.7 2278.0,685.2 2277.3,686.7 C2276.6,688.2 2275.9,689.7 2275.2,691.2 C2274.5,692.7 2273.8,694.2 2273.1,695.7 C2272.4,697.2 2271.7,698.7 2271.0,700.2 C2270.3,701.7 2269.6,703.2 2268.9,704.8 C2268.2,706.3 2267.5,707.8 2266.9,709.3 C2266.2,710.8 2265.5,712.3 2264.8,713.8 C2264.1,715.4 2263.4,716.9 2262.8,718.4 C2262.1,719.9 2261.4,721.4 2260.7,723.0 C2260.0,724.5 2259.4,726.0 2258.7,727.5 C2258.0,729.0 2257.4,730.6 2256.7,732.1 C2256.0,733.6 2255.3,735.1 2254.7,736.6 C2254.0,738.2 2253.3,739.7 2252.7,741.2 C2252.0,742.7 2251.3,744.3 2250.7,745.8 C2250.0,747.3 2249.3,748.8 2248.7,750.4 C2248.0,751.9 2247.3,753.4 2246.7,754.9 C2246.0,756.5 2245.3,758.0 2244.7,759.5 C2244.0,761.1 2243.4,762.6 2242.7,764.1 C2242.0,765.6 2241.4,767.2 2240.7,768.7 C2240.0,770.2 2239.4,771.7 2238.7,773.3 C2238.0,774.8 2237.4,776.3 2236.7,777.8 C2236.0,779.4 2235.4,780.9 2234.7,782.4 C2234.0,783.9 2233.4,785.5 2232.7,787.0 C2232.0,788.5 2231.4,790.0 2230.7,791.6 C2230.0,793.1 2229.4,794.6 2228.7,796.1 C2228.0,797.7 2227.3,799.2 2226.7,800.7 C2226.0,802.2 2225.3,803.7 2224.6,805.3 C2224.0,806.8 2223.3,808.3 2222.6,809.8 C2221.9,811.3 2221.2,812.9 2220.6,814.4 C2219.9,815.9 2219.2,817.4 2218.5,818.9 C2217.8,820.4 2217.1,821.9 2216.4,823.5 C2215.7,825.0 2215.0,826.5 2214.3,828.0 C2213.6,829.5 2212.9,831.0 2212.2,832.5 C2211.5,834.0 2210.8,835.5 2210.1,837.0 C2209.4,838.5 2208.7,840.0 2208.0,841.5 C2207.3,843.0 2206.6,844.5 2205.9,846.0 C2205.1,847.5 2204.4,849.0 2203.7,850.5 C2203.0,852.0 2202.2,853.5 2201.5,855.0 C2200.8,856.5 2199.7,858.8 2199.3,859.5" fill="none" stroke="#377eb8" stroke-width="5.2" stroke-linejoin="round" stroke-linecap="butt"/>
<path d="M1441.6,826.5 C1441.5,825.7 1441.2,823.3 1441.1,821.6 C1441.1,820.0 1441.2,818.3 1441.4,816.6 C1441.6,815.0 1441.9,813.3 1442.3,811.7 C1442.8,810.0 1443.3,808.4 1444.0,806.8 C1444.6,805.2 1445.4,803.7 1446.2,802.2 C1447.0,800.7 1448.0,799.3 1449.0,798.0 C1450.1,796.7 1451.2,795.4 1452.4,794.3 C1453.7,793.1 1455.0,792.1 1456.3,791.1 C1457.7,790.2 1459.2,789.3 1460.7,788.6 C1462.1,787.8 1463.7,787.2 1465.3,786.7 C1466.8,786.2 1468.5,785.8 1470.1,785.5 C1471.7,785.2 1473.3,785.0 1474.9,785.0 C1476.6,784.9 1478.2,785.0 1479.8,785.2 C1481.4,785.4 1482.9,785.7 1484.5,786.1 C1486.0,786.6 1487.5,787.2 1488.9,787.9 C1490.3,788.6 1491.7,789.4 1493.1,790.3 C1494.4,791.2 1495.8,792.2 1497.1,793.3 C1498.4,794.4 1499.6,795.5 1500.9,796.7 C1502.2,797.8 1503.4,799.1 1504.6,800.3 C1505.9,801.5 1507.1,802.8 1508.3,804.0 C1509.6,805.3 1510.8,806.6 1512.0,807.8 C1513.3,809.0 1514.6,810.2 1515.8,811.3 C1517.1,812.4 1518.4,813.5 1519.7,814.6 C1521.0,815.6 1522.3,816.6 1523.6,817.7 C1524.9,818.7 1526.2,819.7 1527.5,820.7 C1528.8,821.7 1530.1,822.7 1531.3,823.7 C1532.6,824.8 1533.8,825.8 1535.0,827.0 C1536.2,828.1 1537.3,829.2 1538.5,830.4 C1539.6,831.5 1540.7,832.8 1541.8,834.0 C1542.9,835.2 1544.0,836.4 1545.1,837.7 C1546.1,839.0 1547.2,840.2 1548.3,841.5 C1549.3,842.8 1550.4,844.1 1551.4,845.4 C1552.5,846.7 1553.5,848.0 1554.6,849.3 C1555.7,850.6 1556.7,851.9 1557.8,853.1 C1558.9,854.4 1560.0,855.7 1561.1,856.9 C1562.3,858.1 1563.4,859.4 1564.6,860.5 C1565.8,861.7 1567.0,862.9 1568.2,864.0 C1569.4,865.2 1570.7,866.3 1572.0,867.4 C1573.2,868.5 1574.5,869.5 1575.9,870.5 C1577.2,871.5 1578.5,872.5 1579.9,873.5 C1581.3,874.5 1582.7,875.4 1584.1,876.3 C1585.5,877.2 1586.9,878.0 1588.4,878.9 C1589.8,879.7 1591.3,880.5 1592.8,881.3 C1594.3,882.0 1595.8,882.7 1597.3,883.4 C1598.8,884.1 1600.4,884.8 1601.9,885.4 C1603.5,886.0 1605.0,886.6 1606.6,887.1 C1608.2,887.6 1609.8,888.1 1611.4,888.6 C1613.0,889.0 1614.6,889.4 1616.2,889.8 C1617.8,890.2 1619.5,890.5 1621.1,890.8 C1622.8,891.0 1624.4,891.3 1626.1,891.5 C1627.7,891.7 1629.4,891.8 1631.1,891.9 C1632.8,892.0 1634.4,892.1 1636.1,892.1 C1637.8,892.1 1639.5,892.0 1641.2,892.0 C1642.8,891.9 1644.5,891.8 1646.2,891.6 C1647.9,891.4 1649.5,891.2 1651.2,890.9 C1652.9,890.7 1654.5,890.4 1656.1,890.0 C1657.8,889.7 1659.4,889.3 1661.0,888.8 C1662.6,888.4 1664.2,887.9 1665.8,887.4 C1667.4,886.9 1668.9,886.3 1670.5,885.7 C1672.0,885.0 1673.5,884.4 1675.0,883.7 C1676.5,883.0 1678.0,882.2 1679.4,881.4 C1680.9,880.6 1682.3,879.8 1683.6,878.9 C1685.0,878.0 1686.4,877.1 1687.7,876.2 C1689.0,875.2 1690.3,874.2 1691.5,873.1 C1692.8,872.1 1694.0,871.0 1695.2,869.9 C1696.3,868.8 1697.5,867.6 1698.6,866.4 C1699.8,865.2 1700.9,864.0 1702.0,862.8 C1703.1,861.5 1704.1,860.3 1705.2,859.0 C1706.2,857.7 1707.3,856.4 1708.3,855.0 C1709.3,853.7 1710.3,852.4 1711.3,851.0 C1712.3,849.7 1713.3,848.3 1714.3,846.9 C1715.3,845.5 1716.3,844.2 1717.3,842.8 C1718.2,841.4 1719.2,840.0 1720.2,838.6 C1721.2,837.2 1722.2,835.8 1723.1,834.4 C1724.1,833.1 1725.1,831.7 1726.1,830.3 C1727.1,829.0 1728.1,827.6 1729.1,826.3 C1730.2,824.9 1731.2,823.6 1732.2,822.3 C1733.3,821.0 1734.4,819.7 1735.4,818.4 C1736.5,817.1 1737.6,815.8 1738.7,814.6 C1739.7,813.3 1740.8,812.1 1741.9,810.8 C1743.0,809.6 1744.1,808.3 1745.2,807.1 C1746.3,805.8 1747.4,804.6 1748.6,803.4 C1749.7,802.1 1750.8,800.9 1751.9,799.7 C1753.0,798.5 1754.1,797.2 1755.2,796.0 C1756.2,794.7 1757.3,793.5 1758.4,792.3 C1759.5,791.0 1760.6,789.8 1761.6,788.5 C1762.7,787.2 1763.7,786.0 1764.8,784.7 C1765.8,783.4 1766.8,782.1 1767.8,780.8 C1768.8,779.5 1769.8,778.1 1770.8,776.8 C1771.8,775.5 1772.7,774.1 1773.7,772.7 C1774.6,771.4 1775.5,770.0 1776.5,768.6 C1777.4,767.2 1778.3,765.8 1779.2,764.4 C1780.1,763.0 1781.0,761.6 1781.9,760.2 C1782.7,758.8 1783.6,757.3 1784.5,755.9 C1785.3,754.5 1786.2,753.0 1787.0,751.6 C1787.9,750.1 1788.7,748.7 1789.5,747.2 C1790.4,745.8 1791.2,744.3 1792.0,742.8 C1792.8,741.4 1793.6,739.9 1794.4,738.4 C1795.2,737.0 1796.0,735.5 1796.9,734.0 C1797.7,732.6 1798.5,731.1 1799.3,729.6 C1800.0,728.2 1800.8,726.7 1801.6,725.2 C1802.4,723.8 1803.2,722.3 1804.0,720.9 C1804.8,719.4 1805.6,717.9 1806.4,716.5 C1807.2,715.0 1808.0,713.6 1808.8,712.1 C1809.6,710.6 1810.3,709.2 1811.1,707.7 C1811.9,706.3 1812.7,704.8 1813.5,703.3 C1814.3,701.9 1815.1,700.4 1815.8,699.0 C1816.6,697.5 1817.4,696.0 1818.2,694.6 C1819.0,693.1 1819.8,691.7 1820.5,690.2 C1821.3,688.7 1822.1,687.3 1822.9,685.8 C1823.7,684.4 1824.4,682.9 1825.2,681.4 C1826.0,680.0 1826.8,678.5 1827.6,677.0 C1828.4,675.6 1829.1,674.1 1829.9,672.6 C1830.7,671.2 1831.5,669.7 1832.3,668.2 C1833.1,666.8 1833.8,665.3 1834.6,663.8 C1835.4,662.3 1836.1,660.8 1836.9,659.4 C1837.6,657.9 1838.4,656.4 1839.1,654.9 C1839.9,653.4 1840.6,651.9 1841.3,650.4 C1842.0,648.9 1842.7,647.4 1843.4,645.9 C1844.1,644.4 1844.8,642.9 1845.5,641.3 C1846.1,639.8 1846.8,638.3 1847.4,636.8 C1848.1,635.2 1848.7,633.7 1849.4,632.2 C1850.0,630.6 1850.6,629.1 1851.2,627.5 C1851.8,626.0 1852.4,624.5 1853.0,622.9 C1853.6,621.4 1854.2,619.8 1854.8,618.2 C1855.4,616.7 1856.0,615.1 1856.5,613.6 C1857.1,612.0 1857.7,610.4 1858.2,608.9 C1858.8,607.3 1859.3,605.7 1859.9,604.2 C1860.4,602.6 1860.9,601.0 1861.5,599.4 C1862.0,597.9 1862.5,596.3 1863.1,594.7 C1863.6,593.1 1864.1,591.5 1864.6,590.0 C1865.1,588.4 1865.6,586.8 1866.1,585.2 C1866.7,583.6 1867.2,582.0 1867.7,580.5 C1868.2,578.9 1868.7,577.3 1869.2,575.7 C1869.7,574.1 1870.2,572.5 1870.7,570.9 C1871.2,569.3 1871.7,567.7 1872.2,566.1 C1872.6,564.5 1873.1,562.9 1873.6,561.4 C1874.1,559.8 1874.6,558.2 1875.1,556.6 C1875.6,555.0 1876.1,553.4 1876.6,551.8 C1877.1,550.2 1877.6,548.6 1878.1,547.0 C1878.6,545.4 1879.1,543.8 1879.6,542.2 C1880.1,540.7 1880.6,539.1 1881.1,537.5 C1881.6,535.9 1882.1,534.3 1882.7,532.7 C1883.2,531.1 1883.7,529.6 1884.2,528.0 C1884.7,526.4 1885.3,524.8 1885.8,523.2 C1886.3,521.7 1886.9,520.1 1887.4,518.5 C1888.0,516.9 1888.5,515.4 1889.1,513.8 C1889.6,512.2 1890.2,510.6 1890.7,509.1 C1891.3,507.5 1891.8,505.9 1892.4,504.4 C1893.0,502.8 1893.5,501.2 1894.1,499.7 C1894.7,498.1 1895.3,496.5 1895.8,495.0 C1896.4,493.4 1897.0,491.9 1897.6,490.3 C1898.2,488.7 1898.8,487.2 1899.3,485.6 C1899.9,484.1 1900.5,482.5 1901.1,481.0 C1901.7,479.4 1902.3,477.8 1902.9,476.3 C1903.5,474.7 1904.1,473.2 1904.6,471.6 C1905.2,470.1 1905.8,468.5 1906.4,467.0 C1907.0,465.4 1907.6,463.9 1908.2,462.3 C1908.8,460.8 1909.4,459.2 1910.0,457.7 C1910.6,456.1 1911.1,454.5 1911.7,453.0 C1912.3,451.4 1912.9,449.9 1913.5,448.3 C1914.1,446.8 1914.7,445.2 1915.2,443.7 C1915.8,442.1 1916.4,440.6 1917.0,439.0 C1917.6,437.5 1918.1,435.9 1918.7,434.3 C1919.3,432.8 1919.8,431.2 1920.4,429.7 C1921.0,428.1 1921.5,426.6 1922.1,425.0 C1922.7,423.4 1923.2,421.9 1923.8,420.3 C1924.4,418.8 1924.9,417.2 1925.5,415.6 C1926.1,414.1 1926.6,412.5 1927.2,411.0 C1927.8,409.4 1928.3,407.8 1928.9,406.3 C1929.5,404.7 1930.1,403.2 1930.6,401.6 C1931.2,400.0 1931.8,398.5 1932.3,396.9 C1932.9,395.4 1933.5,393.8 1934.1,392.2 C1934.7,390.7 1935.3,389.1 1935.8,387.6 C1936.4,386.0 1937.0,384.4 1937.6,382.9 C1938.2,381.3 1938.8,379.8 1939.4,378.2 C1940.0,376.6 1940.6,375.1 1941.2,373.5 C1941.9,372.0 1942.5,370.4 1943.1,368.8 C1943.7,367.3 1944.4,365.7 1945.0,364.2 C1945.7,362.6 1946.3,361.1 1947.0,359.6 C1947.7,358.0 1948.4,356.5 1949.1,355.0 C1949.8,353.5 1950.5,352.0 1951.2,350.5 C1951.9,349.0 1952.7,347.5 1953.5,346.0 C1954.2,344.5 1955.0,343.1 1955.8,341.6 C1956.6,340.2 1957.5,338.8 1958.3,337.3 C1959.2,335.9 1960.1,334.5 1961.0,333.1 C1961.9,331.8 1962.8,330.4 1963.8,329.1 C1964.7,327.7 1965.7,326.4 1966.8,325.1 C1967.8,323.8 1968.8,322.5 1969.9,321.3 C1971.0,320.0 1972.1,318.8 1973.3,317.6 C1974.4,316.4 1975.6,315.2 1976.8,314.1 C1978.0,312.9 1979.2,311.8 1980.5,310.6 C1981.7,309.5 1983.0,308.4 1984.3,307.4 C1985.6,306.3 1986.9,305.2 1988.2,304.2 C1989.6,303.2 1990.9,302.2 1992.3,301.2 C1993.6,300.2 1995.0,299.2 1996.4,298.2 C1997.8,297.3 1999.1,296.3 2000.5,295.4 C2001.9,294.5 2003.4,293.6 2004.8,292.8 C2006.2,292.0 2007.7,291.2 2009.2,290.5 C2010.7,289.8 2012.2,289.2 2013.7,288.6 C2015.3,288.1 2016.9,287.6 2018.4,287.1 C2020.0,286.7 2021.6,286.3 2023.1,285.8 C2024.6,285.2 2026.2,284.8 2027.6,284.1 C2029.1,283.5 2030.5,282.7 2031.8,281.9 C2033.1,281.0 2034.4,280.0 2035.6,279.0 C2036.8,277.9 2038.0,276.8 2039.1,275.6 C2040.2,274.4 2041.3,273.2 2042.4,271.9 C2043.4,270.6 2044.4,269.3 2045.4,267.9 C2046.4,266.6 2047.4,265.2 2048.3,263.9 C2049.2,262.5 2050.2,261.2 2051.1,259.8 C2052.0,258.5 2052.8,257.1 2053.7,255.7 C2054.6,254.4 2055.4,253.0 2056.2,251.6 C2057.1,250.1 2057.9,248.7 2058.7,247.3 C2059.5,245.8 2060.3,244.4 2061.0,242.9 C2061.8,241.4 2062.6,239.9 2063.3,238.3 C2064.1,236.8 2064.8,235.3 2065.6,233.7 C2066.4,232.2 2067.1,230.6 2067.9,229.1 C2068.6,227.5 2069.4,226.0 2070.1,224.4 C2070.9,222.8 2071.7,221.3 2072.4,219.8 C2073.2,218.2 2074.0,216.7 2074.8,215.2 C2075.7,213.7 2076.5,212.2 2077.3,210.7 C2078.2,209.2 2079.0,207.8 2079.9,206.3 C2080.8,204.9 2081.8,203.5 2082.7,202.1 C2083.7,200.8 2084.6,199.4 2085.7,198.2 C2086.7,196.9 2087.7,195.6 2088.8,194.4 C2089.9,193.2 2091.0,192.0 2092.2,190.9 C2093.4,189.8 2094.6,188.8 2095.8,187.8 C2097.1,186.8 2098.4,185.8 2099.8,184.9 C2101.1,184.0 2102.5,183.2 2103.9,182.4 C2105.3,181.6 2106.8,180.9 2108.3,180.2 C2109.8,179.5 2111.3,178.9 2112.9,178.3 C2114.4,177.7 2116.0,177.1 2117.6,176.6 C2119.1,176.1 2120.7,175.7 2122.4,175.2 C2124.0,174.8 2125.6,174.4 2127.2,174.0 C2128.9,173.7 2130.5,173.4 2132.2,173.1 C2133.8,172.8 2135.4,172.5 2137.1,172.3 C2138.7,172.1 2140.4,171.9 2142.0,171.7 C2143.7,171.6 2145.3,171.4 2147.0,171.3 C2148.6,171.2 2150.3,171.1 2152.0,171.1 C2153.6,171.0 2155.3,171.0 2156.9,171.0 C2158.6,171.0 2160.3,171.0 2161.9,171.0 C2163.6,171.0 2165.3,171.1 2166.9,171.2 C2168.6,171.3 2170.3,171.3 2171.9,171.5 C2173.6,171.6 2175.3,171.7 2176.9,171.9 C2178.6,172.0 2180.3,172.2 2182.0,172.3 C2183.6,172.5 2185.3,172.7 2187.0,172.9 C2188.6,173.1 2190.3,173.3 2192.0,173.5 C2193.6,173.8 2195.3,174.0 2197.0,174.2 C2198.6,174.5 2200.3,174.7 2202.0,175.0 C2203.6,175.3 2205.3,175.5 2206.9,175.8 C2208.6,176.1 2210.3,176.3 2211.9,176.6 C2213.6,176.9 2215.2,177.2 2216.9,177.4 C2218.5,177.7 2220.2,178.0 2221.8,178.3 C2223.5,178.5 2225.1,178.8 2226.8,179.1 C2228.4,179.4 2230.1,179.6 2231.7,179.9 C2233.3,180.2 2235.0,180.4 2236.6,180.7 C2238.2,180.9 2239.9,181.2 2241.5,181.4 C2243.1,181.7 2244.7,181.9 2246.4,182.2 C2248.0,182.4 2249.6,182.7 2251.3,182.9 C2252.9,183.2 2254.5,183.4 2256.1,183.6 C2257.8,183.9 2259.4,184.1 2261.0,184.3 C2262.7,184.6 2264.3,184.8 2265.9,185.0 C2267.5,185.3 2269.2,185.5 2270.8,185.7 C2272.5,186.0 2274.1,186.2 2275.7,186.4 C2277.4,186.7 2279.0,186.9 2280.7,187.1 C2282.3,187.3 2284.0,187.6 2285.6,187.8 C2287.3,188.0 2288.9,188.3 2290.6,188.5 C2292.3,188.8 2293.9,189.0 2295.6,189.2 C2297.3,189.5 2299.0,189.7 2300.7,190.0 C2302.3,190.2 2304.0,190.4 2305.7,190.7 C2307.4,190.9 2309.2,191.2 2310.9,191.5 C2312.5,191.7 2314.3,192.0 2315.9,192.4 C2317.5,192.8 2319.1,193.2 2320.6,193.7 C2322.1,194.3 2323.5,194.9 2324.8,195.7 C2326.1,196.5 2327.3,197.4 2328.3,198.5 C2329.4,199.6 2330.3,200.9 2331.0,202.2 C2331.7,203.6 2332.3,205.0 2332.8,206.6 C2333.2,208.1 2333.5,209.8 2333.7,211.4 C2333.9,213.1 2334.0,214.8 2334.0,216.6 C2334.0,218.3 2333.9,220.1 2333.8,221.9 C2333.6,223.6 2333.3,225.4 2333.0,227.2 C2332.8,228.9 2332.4,230.6 2332.0,232.3 C2331.6,234.0 2331.2,235.6 2330.7,237.3 C2330.3,238.9 2329.8,240.5 2329.2,242.1 C2328.7,243.7 2328.1,245.2 2327.5,246.7 C2326.9,248.3 2326.3,249.8 2325.6,251.3 C2325.0,252.8 2324.3,254.3 2323.6,255.8 C2322.9,257.3 2322.2,258.8 2321.5,260.2 C2320.8,261.7 2320.0,263.2 2319.3,264.6 C2318.6,266.1 2317.8,267.5 2317.1,269.0 C2316.3,270.5 2315.5,271.9 2314.8,273.4 C2314.0,274.9 2313.3,276.3 2312.5,277.8 C2311.7,279.3 2311.0,280.7 2310.2,282.2 C2309.4,283.7 2308.7,285.1 2307.9,286.6 C2307.1,288.1 2306.3,289.6 2305.5,291.0 C2304.7,292.5 2303.9,294.0 2303.2,295.4 C2302.4,296.9 2301.6,298.4 2300.8,299.8 C2299.9,301.3 2299.1,302.8 2298.3,304.2 C2297.5,305.7 2296.7,307.2 2295.9,308.6 C2295.0,310.1 2294.2,311.5 2293.4,313.0 C2292.5,314.4 2291.7,315.9 2290.8,317.3 C2290.0,318.8 2289.1,320.2 2288.3,321.6 C2287.4,323.1 2286.6,324.5 2285.7,325.9 C2284.8,327.4 2283.9,328.8 2283.1,330.2 C2282.2,331.7 2281.3,333.1 2280.5,334.5 C2279.6,335.9 2278.7,337.4 2277.8,338.8 C2277.0,340.2 2276.1,341.6 2275.2,343.1 C2274.4,344.5 2273.5,345.9 2272.7,347.3 C2271.8,348.8 2270.9,350.2 2270.1,351.6 C2269.3,353.1 2268.4,354.5 2267.6,355.9 C2266.8,357.4 2266.0,358.8 2265.2,360.3 C2264.3,361.7 2263.5,363.2 2262.8,364.6 C2262.0,366.1 2261.2,367.6 2260.5,369.0 C2259.7,370.5 2259.0,372.0 2258.2,373.5 C2257.5,375.0 2256.8,376.5 2256.1,378.0 C2255.4,379.5 2254.7,381.0 2254.1,382.5 C2253.4,384.0 2252.8,385.6 2252.2,387.1 C2251.5,388.6 2250.9,390.2 2250.3,391.7 C2249.8,393.3 2249.2,394.8 2248.6,396.4 C2248.0,398.0 2247.5,399.5 2246.9,401.1 C2246.4,402.7 2245.9,404.2 2245.3,405.8 C2244.8,407.4 2244.3,409.0 2243.8,410.6 C2243.3,412.1 2242.7,413.7 2242.2,415.3 C2241.7,416.9 2241.2,418.5 2240.7,420.1 C2240.2,421.7 2239.8,423.3 2239.3,424.9 C2238.8,426.4 2238.3,428.0 2237.8,429.6 C2237.3,431.2 2236.9,432.8 2236.4,434.4 C2235.9,436.0 2235.4,437.6 2235.0,439.2 C2234.5,440.8 2234.0,442.4 2233.6,444.0 C2233.1,445.6 2232.7,447.2 2232.2,448.8 C2231.7,450.4 2231.3,452.0 2230.8,453.6 C2230.4,455.2 2229.9,456.8 2229.5,458.4 C2229.0,460.0 2228.6,461.6 2228.2,463.2 C2227.7,464.8 2227.3,466.4 2226.8,468.0 C2226.4,469.6 2225.9,471.3 2225.5,472.9 C2225.1,474.5 2224.6,476.1 2224.2,477.7 C2223.8,479.3 2223.3,480.9 2222.9,482.5 C2222.4,484.1 2222.0,485.7 2221.6,487.3 C2221.1,488.9 2220.7,490.5 2220.3,492.1 C2219.8,493.7 2219.4,495.4 2219.0,497.0 C2218.5,498.6 2218.1,500.2 2217.7,501.8 C2217.2,503.4 2216.8,505.0 2216.3,506.6 C2215.9,508.2 2215.5,509.8 2215.0,511.4 C2214.6,513.0 2214.2,514.6 2213.7,516.2 C2213.3,517.8 2212.8,519.4 2212.4,521.0 C2211.9,522.7 2211.5,524.3 2211.0,525.9 C2210.6,527.5 2210.1,529.1 2209.7,530.7 C2209.2,532.3 2208.8,533.9 2208.3,535.5 C2207.8,537.1 2207.4,538.7 2206.9,540.3 C2206.5,541.9 2206.0,543.5 2205.5,545.1 C2205.1,546.7 2204.6,548.3 2204.1,549.9 C2203.7,551.5 2203.2,553.1 2202.7,554.6 C2202.3,556.2 2201.8,557.8 2201.3,559.4 C2200.8,561.0 2200.4,562.6 2199.9,564.2 C2199.4,565.8 2198.9,567.4 2198.5,569.0 C2198.0,570.6 2197.5,572.2 2197.1,573.8 C2196.6,575.4 2196.1,577.0 2195.6,578.6 C2195.2,580.2 2194.7,581.8 2194.2,583.4 C2193.7,585.0 2193.3,586.6 2192.8,588.2 C2192.3,589.8 2191.9,591.4 2191.4,593.0 C2190.9,594.6 2190.5,596.1 2190.0,597.7 C2189.5,599.3 2189.1,600.9 2188.6,602.5 C2188.1,604.1 2187.7,605.7 2187.2,607.3 C2186.7,608.9 2186.3,610.5 2185.8,612.1 C2185.4,613.7 2184.9,615.3 2184.5,616.9 C2184.0,618.5 2183.6,620.1 2183.1,621.7 C2182.7,623.4 2182.2,625.0 2181.8,626.6 C2181.3,628.2 2180.9,629.8 2180.5,631.4 C2180.0,633.0 2179.6,634.6 2179.2,636.2 C2178.7,637.8 2178.3,639.4 2177.9,641.0 C2177.5,642.6 2177.0,644.2 2176.6,645.9 C2176.2,647.5 2175.6,649.9 2175.4,650.7" fill="none" stroke="#4daf4a" stroke-width="5.2" stroke-linejoin="round" stroke-linecap="butt"/>
<path d="M1441.6,826.5 C1441.5,825.7 1441.1,823.3 1441.1,821.7 C1441.1,820.1 1441.3,818.5 1441.6,816.8 C1442.0,815.2 1442.5,813.6 1443.1,812.0 C1443.7,810.4 1444.5,808.8 1445.4,807.3 C1446.3,805.8 1447.3,804.4 1448.4,803.0 C1449.5,801.7 1450.7,800.4 1452.0,799.2 C1453.2,798.1 1454.6,797.0 1456.0,796.1 C1457.4,795.2 1458.9,794.4 1460.4,793.7 C1461.9,793.0 1463.4,792.4 1465.0,792.0 C1466.6,791.6 1468.2,791.2 1469.8,791.0 C1471.4,790.8 1473.0,790.8 1474.6,790.8 C1476.2,790.9 1477.9,791.0 1479.4,791.3 C1481.0,791.6 1482.6,792.0 1484.1,792.5 C1485.6,793.1 1487.1,793.7 1488.5,794.5 C1489.9,795.2 1491.3,796.1 1492.6,797.0 C1494.0,798.0 1495.3,799.0 1496.6,800.1 C1497.8,801.2 1499.1,802.4 1500.3,803.6 C1501.5,804.8 1502.7,806.0 1503.9,807.3 C1505.1,808.6 1506.3,809.9 1507.5,811.2 C1508.7,812.5 1509.8,813.8 1511.0,815.1 C1512.1,816.3 1513.3,817.6 1514.5,818.9 C1515.7,820.1 1516.8,821.3 1518.0,822.4 C1519.2,823.6 1520.4,824.7 1521.6,825.9 C1522.8,827.0 1524.0,828.1 1525.2,829.2 C1526.4,830.3 1527.5,831.4 1528.7,832.5 C1529.9,833.6 1531.0,834.7 1532.2,835.8 C1533.3,837.0 1534.4,838.2 1535.5,839.4 C1536.6,840.6 1537.7,841.8 1538.8,843.1 C1539.8,844.3 1540.9,845.6 1541.9,846.9 C1543.0,848.2 1544.0,849.6 1545.0,850.9 C1546.1,852.2 1547.1,853.6 1548.1,854.9 C1549.1,856.3 1550.1,857.6 1551.2,859.0 C1552.2,860.3 1553.2,861.7 1554.3,863.0 C1555.3,864.4 1556.4,865.7 1557.4,867.0 C1558.5,868.4 1559.5,869.7 1560.6,870.9 C1561.7,872.2 1562.8,873.5 1564.0,874.7 C1565.1,875.9 1566.3,877.1 1567.4,878.3 C1568.6,879.5 1569.8,880.6 1571.0,881.7 C1572.2,882.8 1573.5,883.9 1574.7,885.0 C1576.0,886.0 1577.3,887.0 1578.6,888.0 C1579.9,889.0 1581.2,890.0 1582.6,890.9 C1583.9,891.8 1585.3,892.7 1586.7,893.6 C1588.0,894.4 1589.4,895.2 1590.9,896.0 C1592.3,896.8 1593.7,897.6 1595.2,898.3 C1596.7,899.0 1598.1,899.7 1599.6,900.4 C1601.1,901.1 1602.6,901.7 1604.2,902.3 C1605.7,902.9 1607.3,903.4 1608.8,903.9 C1610.4,904.5 1612.0,904.9 1613.6,905.4 C1615.2,905.8 1616.8,906.2 1618.4,906.6 C1620.1,907.0 1621.7,907.3 1623.4,907.6 C1625.1,908.0 1626.7,908.2 1628.4,908.4 C1630.1,908.7 1631.8,908.9 1633.6,909.0 C1635.3,909.2 1637.0,909.3 1638.7,909.4 C1640.5,909.4 1642.2,909.5 1643.9,909.4 C1645.6,909.4 1647.4,909.4 1649.1,909.3 C1650.8,909.2 1652.5,909.0 1654.2,908.8 C1655.9,908.6 1657.6,908.4 1659.3,908.1 C1661.0,907.8 1662.6,907.4 1664.3,907.0 C1665.9,906.6 1667.5,906.2 1669.1,905.7 C1670.7,905.2 1672.2,904.6 1673.7,904.0 C1675.3,903.4 1676.8,902.8 1678.2,902.0 C1679.7,901.3 1681.1,900.5 1682.4,899.7 C1683.8,898.8 1685.1,897.9 1686.4,897.0 C1687.7,896.0 1689.0,895.0 1690.2,894.0 C1691.4,892.9 1692.6,891.8 1693.7,890.7 C1694.9,889.6 1696.0,888.4 1697.2,887.2 C1698.3,886.0 1699.3,884.7 1700.4,883.5 C1701.5,882.2 1702.5,880.9 1703.6,879.6 C1704.6,878.3 1705.7,877.0 1706.7,875.7 C1707.7,874.3 1708.7,873.0 1709.7,871.6 C1710.8,870.3 1711.8,868.9 1712.8,867.6 C1713.8,866.2 1714.8,864.8 1715.8,863.5 C1716.9,862.2 1717.9,860.8 1719.0,859.5 C1720.0,858.2 1721.1,856.9 1722.1,855.6 C1723.2,854.3 1724.3,853.0 1725.4,851.7 C1726.5,850.5 1727.6,849.2 1728.7,847.9 C1729.8,846.7 1730.9,845.4 1732.0,844.2 C1733.1,843.0 1734.2,841.7 1735.3,840.5 C1736.4,839.2 1737.6,838.0 1738.7,836.8 C1739.8,835.5 1740.9,834.3 1742.0,833.1 C1743.1,831.8 1744.2,830.6 1745.3,829.4 C1746.4,828.1 1747.5,826.9 1748.6,825.6 C1749.6,824.4 1750.7,823.1 1751.8,821.9 C1752.8,820.6 1753.9,819.3 1754.9,818.0 C1756.0,816.7 1757.0,815.5 1758.0,814.1 C1759.0,812.8 1760.0,811.5 1761.0,810.2 C1761.9,808.9 1762.9,807.5 1763.9,806.2 C1764.8,804.9 1765.8,803.5 1766.7,802.2 C1767.7,800.8 1768.6,799.4 1769.5,798.1 C1770.4,796.7 1771.3,795.3 1772.2,793.9 C1773.2,792.5 1774.0,791.1 1774.9,789.7 C1775.8,788.3 1776.7,786.9 1777.6,785.5 C1778.4,784.1 1779.3,782.7 1780.2,781.3 C1781.0,779.8 1781.9,778.4 1782.7,777.0 C1783.6,775.6 1784.4,774.1 1785.3,772.7 C1786.1,771.3 1787.0,769.8 1787.8,768.4 C1788.6,766.9 1789.5,765.5 1790.3,764.1 C1791.1,762.6 1792.0,761.2 1792.8,759.7 C1793.6,758.3 1794.5,756.8 1795.3,755.4 C1796.1,753.9 1797.0,752.5 1797.8,751.0 C1798.6,749.6 1799.4,748.1 1800.3,746.7 C1801.1,745.2 1801.9,743.8 1802.8,742.3 C1803.6,740.9 1804.4,739.4 1805.3,738.0 C1806.1,736.5 1806.9,735.1 1807.8,733.6 C1808.6,732.2 1809.4,730.7 1810.2,729.3 C1811.1,727.8 1811.9,726.4 1812.7,724.9 C1813.5,723.5 1814.3,722.0 1815.2,720.6 C1816.0,719.1 1816.8,717.7 1817.6,716.2 C1818.4,714.7 1819.2,713.3 1820.0,711.8 C1820.8,710.4 1821.6,708.9 1822.4,707.4 C1823.2,706.0 1824.0,704.5 1824.7,703.0 C1825.5,701.6 1826.3,700.1 1827.1,698.6 C1827.8,697.1 1828.6,695.7 1829.3,694.2 C1830.1,692.7 1830.8,691.2 1831.6,689.7 C1832.3,688.2 1833.1,686.7 1833.8,685.2 C1834.5,683.8 1835.2,682.3 1835.9,680.8 C1836.7,679.3 1837.4,677.8 1838.1,676.2 C1838.7,674.7 1839.4,673.2 1840.1,671.7 C1840.8,670.2 1841.5,668.7 1842.1,667.2 C1842.8,665.6 1843.4,664.1 1844.1,662.6 C1844.7,661.1 1845.4,659.5 1846.0,658.0 C1846.6,656.5 1847.3,654.9 1847.9,653.4 C1848.5,651.8 1849.1,650.3 1849.7,648.8 C1850.3,647.2 1850.9,645.7 1851.5,644.1 C1852.1,642.6 1852.7,641.0 1853.3,639.5 C1853.9,637.9 1854.4,636.3 1855.0,634.8 C1855.6,633.2 1856.1,631.7 1856.7,630.1 C1857.3,628.5 1857.8,627.0 1858.4,625.4 C1858.9,623.8 1859.5,622.3 1860.0,620.7 C1860.6,619.1 1861.1,617.6 1861.7,616.0 C1862.2,614.4 1862.7,612.8 1863.3,611.3 C1863.8,609.7 1864.3,608.1 1864.9,606.5 C1865.4,604.9 1865.9,603.4 1866.5,601.8 C1867.0,600.2 1867.5,598.6 1868.0,597.0 C1868.5,595.5 1869.1,593.9 1869.6,592.3 C1870.1,590.7 1870.6,589.1 1871.1,587.6 C1871.6,586.0 1872.2,584.4 1872.7,582.8 C1873.2,581.2 1873.7,579.6 1874.2,578.1 C1874.7,576.5 1875.3,574.9 1875.8,573.3 C1876.3,571.7 1876.8,570.1 1877.3,568.6 C1877.8,567.0 1878.3,565.4 1878.9,563.8 C1879.4,562.2 1879.9,560.6 1880.4,559.1 C1880.9,557.5 1881.5,555.9 1882.0,554.3 C1882.5,552.7 1883.0,551.2 1883.6,549.6 C1884.1,548.0 1884.6,546.4 1885.2,544.9 C1885.7,543.3 1886.2,541.7 1886.8,540.1 C1887.3,538.6 1887.8,537.0 1888.4,535.4 C1888.9,533.8 1889.4,532.3 1890.0,530.7 C1890.5,529.1 1891.1,527.5 1891.6,526.0 C1892.1,524.4 1892.7,522.8 1893.2,521.3 C1893.8,519.7 1894.3,518.1 1894.9,516.5 C1895.4,515.0 1896.0,513.4 1896.5,511.8 C1897.1,510.3 1897.6,508.7 1898.2,507.1 C1898.7,505.6 1899.3,504.0 1899.8,502.4 C1900.4,500.9 1900.9,499.3 1901.5,497.7 C1902.0,496.2 1902.6,494.6 1903.1,493.0 C1903.7,491.5 1904.2,489.9 1904.8,488.3 C1905.3,486.8 1905.9,485.2 1906.4,483.6 C1907.0,482.1 1907.6,480.5 1908.1,478.9 C1908.7,477.3 1909.2,475.8 1909.8,474.2 C1910.3,472.6 1910.9,471.1 1911.4,469.5 C1912.0,467.9 1912.5,466.4 1913.1,464.8 C1913.6,463.2 1914.2,461.7 1914.8,460.1 C1915.3,458.5 1915.9,457.0 1916.4,455.4 C1917.0,453.8 1917.5,452.2 1918.1,450.7 C1918.6,449.1 1919.2,447.5 1919.7,446.0 C1920.3,444.4 1920.8,442.8 1921.4,441.2 C1921.9,439.7 1922.5,438.1 1923.0,436.5 C1923.5,434.9 1924.1,433.4 1924.6,431.8 C1925.2,430.2 1925.7,428.6 1926.3,427.1 C1926.8,425.5 1927.3,423.9 1927.9,422.3 C1928.4,420.8 1929.0,419.2 1929.5,417.6 C1930.1,416.0 1930.6,414.5 1931.1,412.9 C1931.7,411.3 1932.2,409.7 1932.8,408.2 C1933.4,406.6 1933.9,405.0 1934.5,403.4 C1935.0,401.9 1935.6,400.3 1936.2,398.7 C1936.7,397.2 1937.3,395.6 1937.9,394.1 C1938.5,392.5 1939.1,390.9 1939.7,389.4 C1940.3,387.8 1940.9,386.3 1941.5,384.7 C1942.1,383.2 1942.8,381.7 1943.4,380.1 C1944.0,378.6 1944.7,377.1 1945.3,375.5 C1946.0,374.0 1946.6,372.5 1947.3,371.0 C1948.0,369.5 1948.7,367.9 1949.4,366.4 C1950.1,364.9 1950.8,363.4 1951.5,361.9 C1952.3,360.5 1953.0,359.0 1953.8,357.5 C1954.5,356.0 1955.3,354.5 1956.1,353.1 C1956.9,351.6 1957.7,350.2 1958.6,348.7 C1959.4,347.3 1960.2,345.9 1961.1,344.5 C1962.0,343.1 1962.9,341.7 1963.9,340.4 C1964.8,339.0 1965.8,337.7 1966.8,336.4 C1967.8,335.1 1968.8,333.8 1969.9,332.6 C1971.0,331.3 1972.1,330.1 1973.3,329.0 C1974.4,327.8 1975.7,326.7 1976.9,325.6 C1978.2,324.5 1979.5,323.5 1980.8,322.5 C1982.1,321.5 1983.5,320.5 1984.9,319.6 C1986.3,318.6 1987.8,317.7 1989.2,316.8 C1990.7,316.0 1992.2,315.1 1993.7,314.3 C1995.1,313.4 1996.6,312.6 1998.1,311.8 C1999.6,310.9 2001.1,310.1 2002.6,309.3 C2004.1,308.5 2005.5,307.7 2007.0,306.8 C2008.4,306.0 2009.8,305.1 2011.2,304.3 C2012.6,303.5 2013.9,302.6 2015.4,302.0 C2016.9,301.4 2018.3,301.0 2019.9,300.9 C2021.5,300.7 2023.3,301.1 2025.0,301.2 C2026.7,301.4 2028.4,301.7 2030.1,301.6 C2031.7,301.4 2033.3,301.0 2034.8,300.4 C2036.3,299.8 2037.7,298.8 2039.0,297.9 C2040.3,296.9 2041.6,295.8 2042.7,294.6 C2043.9,293.5 2045.0,292.3 2046.1,291.0 C2047.2,289.7 2048.2,288.4 2049.2,287.1 C2050.2,285.8 2051.1,284.4 2052.1,283.0 C2053.0,281.6 2053.9,280.2 2054.9,278.8 C2055.8,277.3 2056.7,275.9 2057.6,274.5 C2058.5,273.1 2059.4,271.6 2060.3,270.2 C2061.2,268.8 2062.1,267.3 2063.0,265.9 C2063.9,264.5 2064.8,263.0 2065.7,261.6 C2066.6,260.2 2067.5,258.8 2068.4,257.4 C2069.4,256.0 2070.3,254.6 2071.3,253.2 C2072.2,251.9 2073.2,250.5 2074.2,249.2 C2075.2,247.8 2076.2,246.5 2077.2,245.2 C2078.3,243.9 2079.3,242.6 2080.4,241.4 C2081.5,240.1 2082.6,238.9 2083.7,237.7 C2084.8,236.5 2086.0,235.3 2087.2,234.1 C2088.4,233.0 2089.7,231.9 2090.9,230.8 C2092.2,229.7 2093.5,228.7 2094.8,227.7 C2096.2,226.7 2097.6,225.8 2099.0,224.9 C2100.4,224.0 2101.8,223.2 2103.3,222.4 C2104.7,221.7 2106.2,221.0 2107.7,220.4 C2109.3,219.8 2110.8,219.3 2112.3,218.9 C2113.9,218.5 2115.5,218.2 2117.1,218.0 C2118.6,217.8 2120.2,217.7 2121.8,217.7 C2123.5,217.7 2125.1,217.8 2126.7,218.0 C2128.3,218.2 2130.0,218.4 2131.6,218.8 C2133.2,219.1 2134.9,219.5 2136.5,220.0 C2138.2,220.4 2139.8,220.9 2141.5,221.4 C2143.1,222.0 2144.8,222.6 2146.4,223.2 C2148.1,223.8 2149.7,224.4 2151.3,225.0 C2153.0,225.6 2154.6,226.3 2156.2,226.9 C2157.8,227.5 2159.4,228.1 2161.0,228.7 C2162.6,229.3 2164.2,229.8 2165.8,230.4 C2167.3,230.9 2168.9,231.5 2170.4,232.0 C2172.0,232.5 2173.5,233.0 2175.1,233.6 C2176.6,234.1 2178.2,234.6 2179.7,235.1 C2181.2,235.6 2182.8,236.2 2184.3,236.7 C2185.8,237.2 2187.4,237.8 2188.9,238.3 C2190.4,238.9 2192.0,239.5 2193.5,240.0 C2195.0,240.6 2196.6,241.2 2198.1,241.8 C2199.6,242.4 2201.2,243.0 2202.7,243.6 C2204.2,244.2 2205.8,244.9 2207.3,245.5 C2208.9,246.1 2210.4,246.8 2211.9,247.4 C2213.5,248.1 2215.0,248.7 2216.5,249.4 C2218.1,250.0 2219.6,250.7 2221.2,251.3 C2222.7,252.0 2224.2,252.7 2225.8,253.3 C2227.3,254.0 2228.9,254.7 2230.4,255.4 C2231.9,256.0 2233.5,256.7 2235.0,257.4 C2236.5,258.1 2238.1,258.8 2239.6,259.4 C2241.2,260.1 2242.7,260.8 2244.2,261.5 C2245.8,262.1 2247.3,262.8 2248.8,263.5 C2250.4,264.2 2251.9,264.8 2253.4,265.5 C2255.0,266.2 2256.5,266.8 2258.0,267.5 C2259.6,268.1 2261.1,268.8 2262.6,269.5 C2264.2,270.1 2265.7,270.7 2267.2,271.4 C2268.8,272.0 2270.3,272.7 2271.8,273.3 C2273.4,273.9 2274.9,274.5 2276.4,275.1 C2278.0,275.8 2279.5,276.4 2281.0,277.0 C2282.6,277.6 2284.1,278.1 2285.6,278.7 C2287.2,279.3 2288.7,279.9 2290.3,280.5 C2291.8,281.0 2293.4,281.6 2294.9,282.1 C2296.5,282.7 2298.1,283.2 2299.6,283.7 C2301.2,284.3 2302.8,284.8 2304.3,285.3 C2305.9,285.8 2307.5,286.3 2309.1,286.8 C2310.7,287.3 2312.3,287.8 2313.9,288.2 C2315.6,288.7 2317.2,289.1 2318.9,289.6 C2320.5,290.0 2322.3,290.4 2323.9,290.9 C2325.5,291.4 2327.1,292.0 2328.6,292.8 C2330.0,293.6 2331.3,294.5 2332.4,295.6 C2333.6,296.7 2334.7,297.9 2335.6,299.2 C2336.6,300.4 2337.4,301.8 2338.2,303.2 C2338.9,304.6 2339.6,306.1 2340.1,307.6 C2340.7,309.1 2341.1,310.7 2341.5,312.3 C2341.9,314.0 2342.2,315.6 2342.4,317.3 C2342.6,319.0 2342.8,320.7 2342.8,322.4 C2342.9,324.2 2342.9,325.9 2342.8,327.7 C2342.7,329.4 2342.6,331.1 2342.4,332.9 C2342.2,334.6 2341.9,336.3 2341.6,338.0 C2341.3,339.7 2340.9,341.3 2340.5,343.0 C2340.1,344.6 2339.6,346.2 2339.1,347.8 C2338.6,349.4 2338.0,350.9 2337.4,352.5 C2336.9,354.0 2336.2,355.5 2335.6,357.1 C2334.9,358.6 2334.2,360.1 2333.5,361.5 C2332.8,363.0 2332.1,364.5 2331.3,366.0 C2330.5,367.4 2329.8,368.9 2329.0,370.3 C2328.2,371.7 2327.4,373.2 2326.6,374.6 C2325.8,376.1 2324.9,377.5 2324.1,378.9 C2323.3,380.3 2322.5,381.8 2321.6,383.2 C2320.8,384.6 2320.0,386.1 2319.1,387.5 C2318.3,388.9 2317.5,390.4 2316.7,391.8 C2315.8,393.2 2315.0,394.7 2314.2,396.1 C2313.3,397.6 2312.5,399.0 2311.7,400.4 C2310.8,401.9 2310.0,403.3 2309.2,404.7 C2308.4,406.2 2307.5,407.6 2306.7,409.1 C2305.9,410.5 2305.0,412.0 2304.2,413.4 C2303.4,414.9 2302.6,416.3 2301.8,417.8 C2300.9,419.2 2300.1,420.7 2299.3,422.1 C2298.5,423.6 2297.7,425.0 2296.9,426.5 C2296.1,427.9 2295.3,429.4 2294.5,430.9 C2293.7,432.3 2292.9,433.8 2292.1,435.3 C2291.3,436.7 2290.5,438.2 2289.7,439.7 C2288.9,441.1 2288.2,442.6 2287.4,444.1 C2286.6,445.6 2285.8,447.0 2285.1,448.5 C2284.3,450.0 2283.6,451.5 2282.8,453.0 C2282.0,454.4 2281.3,455.9 2280.6,457.4 C2279.8,458.9 2279.1,460.4 2278.4,461.9 C2277.6,463.4 2276.9,464.9 2276.2,466.4 C2275.5,467.9 2274.8,469.4 2274.1,470.9 C2273.4,472.4 2272.7,473.9 2272.0,475.5 C2271.3,477.0 2270.7,478.5 2270.0,480.0 C2269.3,481.5 2268.7,483.1 2268.0,484.6 C2267.4,486.1 2266.7,487.6 2266.1,489.2 C2265.4,490.7 2264.8,492.2 2264.2,493.8 C2263.5,495.3 2262.9,496.9 2262.3,498.4 C2261.7,500.0 2261.1,501.5 2260.5,503.0 C2259.9,504.6 2259.3,506.2 2258.7,507.7 C2258.1,509.3 2257.5,510.8 2257.0,512.4 C2256.4,513.9 2255.8,515.5 2255.3,517.1 C2254.7,518.6 2254.1,520.2 2253.6,521.7 C2253.0,523.3 2252.5,524.9 2251.9,526.5 C2251.4,528.0 2250.8,529.6 2250.3,531.2 C2249.7,532.7 2249.2,534.3 2248.7,535.9 C2248.1,537.5 2247.6,539.1 2247.1,540.6 C2246.6,542.2 2246.1,543.8 2245.5,545.4 C2245.0,547.0 2244.5,548.5 2244.0,550.1 C2243.5,551.7 2243.0,553.3 2242.5,554.9 C2242.0,556.5 2241.5,558.1 2241.0,559.7 C2240.5,561.2 2240.0,562.8 2239.5,564.4 C2239.0,566.0 2238.5,567.6 2238.0,569.2 C2237.5,570.8 2237.0,572.4 2236.6,574.0 C2236.1,575.6 2235.6,577.2 2235.1,578.8 C2234.6,580.4 2234.1,582.0 2233.7,583.6 C2233.2,585.2 2232.7,586.7 2232.2,588.3 C2231.8,589.9 2231.3,591.5 2230.8,593.1 C2230.3,594.7 2229.8,596.3 2229.4,597.9 C2228.9,599.5 2228.4,601.1 2227.9,602.7 C2227.5,604.3 2227.0,605.9 2226.5,607.5 C2226.0,609.1 2225.6,610.7 2225.1,612.3 C2224.6,613.9 2224.1,615.5 2223.6,617.1 C2223.2,618.7 2222.7,620.3 2222.2,621.9 C2221.7,623.5 2221.2,625.0 2220.8,626.6 C2220.3,628.2 2219.8,629.8 2219.3,631.4 C2218.8,633.0 2218.3,634.6 2217.8,636.2 C2217.3,637.8 2216.9,639.4 2216.4,641.0 C2215.9,642.5 2215.4,644.1 2214.9,645.7 C2214.4,647.3 2213.9,648.9 2213.4,650.5 C2212.9,652.1 2212.4,653.7 2211.9,655.2 C2211.4,656.8 2210.9,658.4 2210.5,660.0 C2210.0,661.6 2209.5,663.2 2209.0,664.8 C2208.5,666.3 2208.0,667.9 2207.5,669.5 C2207.0,671.1 2206.5,672.7 2206.0,674.3 C2205.5,675.9 2205.0,677.4 2204.5,679.0 C2204.0,680.6 2203.5,682.2 2203.0,683.8 C2202.5,685.4 2202.0,687.0 2201.6,688.6 C2201.1,690.1 2200.6,691.7 2200.1,693.3 C2199.6,694.9 2199.1,696.5 2198.6,698.1 C2198.1,699.7 2197.6,701.2 2197.1,702.8 C2196.6,704.4 2196.2,706.0 2195.7,707.6 C2195.2,709.2 2194.7,710.8 2194.2,712.4 C2193.7,714.0 2193.2,715.6 2192.8,717.2 C2192.3,718.7 2191.8,720.3 2191.3,721.9 C2190.8,723.5 2190.4,725.1 2189.9,726.7 C2189.4,728.3 2188.9,729.9 2188.5,731.5 C2188.0,733.1 2187.5,734.7 2187.1,736.3 C2186.6,737.9 2186.1,739.5 2185.7,741.1 C2185.2,742.7 2184.7,744.3 2184.3,745.9 C2183.8,747.5 2183.1,749.9 2182.9,750.7" fill="none" stroke="#984ea3" stroke-width="5.2" stroke-linejoin="round" stroke-linecap="butt"/></g>
<line x1="321.50" y1="1007.50" x2="321.50" y2="1014.30" class="tk"/>
<text x="321.50" y="1052.20" text-anchor="middle" class="tk1">−100</text>
<line x1="484.80" y1="1007.50" x2="484.80" y2="1014.30" class="tk"/>
<text x="484.80" y="1052.20" text-anchor="middle" class="tk1">0</text>
<line x1="648.10" y1="1007.50" x2="648.10" y2="1014.30" class="tk"/>
<text x="648.10" y="1052.20" text-anchor="middle" class="tk1">100</text>
<line x1="811.40" y1="1007.50" x2="811.40" y2="1014.30" class="tk"/>
<text x="811.40" y="1052.20" text-anchor="middle" class="tk1">200</text>
<line x1="974.70" y1="1007.50" x2="974.70" y2="1014.30" class="tk"/>
<text x="974.70" y="1052.20" text-anchor="middle" class="tk1">300</text>
<line x1="1138.00" y1="1007.50" x2="1138.00" y2="1014.30" class="tk"/>
<text x="1138.00" y="1052.20" text-anchor="middle" class="tk1">400</text>
<line x1="201.50" y1="1003.55" x2="208.30" y2="1003.55" class="tk"/>
<text x="193.70" y="1019.65" text-anchor="end" class="tk1">−100</text>
<line x1="201.50" y1="870.80" x2="208.30" y2="870.80" class="tk"/>
<text x="193.70" y="886.90" text-anchor="end" class="tk1">0</text>
<line x1="201.50" y1="738.05" x2="208.30" y2="738.05" class="tk"/>
<text x="193.70" y="754.15" text-anchor="end" class="tk1">100</text>
<line x1="201.50" y1="605.30" x2="208.30" y2="605.30" class="tk"/>
<text x="193.70" y="621.40" text-anchor="end" class="tk1">200</text>
<line x1="201.50" y1="472.55" x2="208.30" y2="472.55" class="tk"/>
<text x="193.70" y="488.65" text-anchor="end" class="tk1">300</text>
<line x1="201.50" y1="339.80" x2="208.30" y2="339.80" class="tk"/>
<text x="193.70" y="355.90" text-anchor="end" class="tk1">400</text>
<line x1="201.50" y1="207.05" x2="208.30" y2="207.05" class="tk"/>
<text x="193.70" y="223.15" text-anchor="end" class="tk1">500</text>
<rect x="208.30" y="130.10" width="1012.10" height="877.40" class="sp"/>
<text transform="translate(713.20,1103.60) scale(0.965,1)" text-anchor="middle" class="t">x [m]</text>
<text transform="translate(60.10,570.00) rotate(-90) scale(0.965,1)" text-anchor="middle" class="t">z [m]</text>
<line x1="1441.60" y1="1009.30" x2="1441.60" y2="1016.10" class="tk"/>
<text x="1441.60" y="1055.40" text-anchor="middle" class="tk1">0</text>
<line x1="1582.70" y1="1009.30" x2="1582.70" y2="1016.10" class="tk"/>
<text x="1582.70" y="1055.40" text-anchor="middle" class="tk1">100</text>
<line x1="1723.80" y1="1009.30" x2="1723.80" y2="1016.10" class="tk"/>
<text x="1723.80" y="1055.40" text-anchor="middle" class="tk1">200</text>
<line x1="1864.90" y1="1009.30" x2="1864.90" y2="1016.10" class="tk"/>
<text x="1864.90" y="1055.40" text-anchor="middle" class="tk1">300</text>
<line x1="2006.00" y1="1009.30" x2="2006.00" y2="1016.10" class="tk"/>
<text x="2006.00" y="1055.40" text-anchor="middle" class="tk1">400</text>
<line x1="2147.10" y1="1009.30" x2="2147.10" y2="1016.10" class="tk"/>
<text x="2147.10" y="1055.40" text-anchor="middle" class="tk1">500</text>
<line x1="2288.20" y1="1009.30" x2="2288.20" y2="1016.10" class="tk"/>
<text x="2288.20" y="1055.40" text-anchor="middle" class="tk1">600</text>
<line x1="2429.30" y1="1009.30" x2="2429.30" y2="1016.10" class="tk"/>
<text x="2429.30" y="1055.40" text-anchor="middle" class="tk1">700</text>
<line x1="1387.40" y1="987.48" x2="1394.20" y2="987.48" class="tk"/>
<text x="1379.60" y="1003.58" text-anchor="end" class="tk1">−50</text>
<line x1="1387.40" y1="825.20" x2="1394.20" y2="825.20" class="tk"/>
<text x="1379.60" y="841.30" text-anchor="end" class="tk1">0</text>
<line x1="1387.40" y1="662.92" x2="1394.20" y2="662.92" class="tk"/>
<text x="1379.60" y="679.02" text-anchor="end" class="tk1">50</text>
<line x1="1387.40" y1="500.64" x2="1394.20" y2="500.64" class="tk"/>
<text x="1379.60" y="516.74" text-anchor="end" class="tk1">100</text>
<line x1="1387.40" y1="338.36" x2="1394.20" y2="338.36" class="tk"/>
<text x="1379.60" y="354.46" text-anchor="end" class="tk1">150</text>
<line x1="1387.40" y1="176.08" x2="1394.20" y2="176.08" class="tk"/>
<text x="1379.60" y="192.18" text-anchor="end" class="tk1">200</text>
<rect x="1394.20" y="132.40" width="1046.00" height="876.90" class="sp"/>
<text transform="translate(1915.00,1105.60) scale(0.965,1)" text-anchor="middle" class="t">x [m]</text>
<text transform="translate(1273.30,571.30) rotate(-90) scale(0.965,1)" text-anchor="middle" class="t">z [m]</text>
<rect x="205.0" y="29.0" width="1731.6" height="78.2" rx="13" ry="13" fill="#ffffff" fill-opacity="0.8" stroke="#d6d6d6" stroke-width="2"/>
<line x1="217" y1="64.8" x2="313.7" y2="64.8" stroke="#000000" stroke-width="8"/>
<text x="346.4" y="79.6" class="tl">GT</text>
<line x1="489" y1="64.8" x2="583.3" y2="64.8" stroke="#e41a1c" stroke-width="6.2"/>
<text x="617.5" y="79.6" class="tl">UnVELO</text>
<line x1="876.2" y1="64.8" x2="969.8" y2="64.8" stroke="#377eb8" stroke-width="6.2"/>
<text x="1002.5" y="79.6" class="tl">SeVLO</text>
<line x1="1229.7" y1="64.8" x2="1324" y2="64.8" stroke="#4daf4a" stroke-width="6.2"/>
<text x="1358.1" y="79.6" class="tl">DeLORA</text>
<line x1="1619" y1="64.8" x2="1713.3" y2="64.8" stroke="#984ea3" stroke-width="6.2"/>
<text x="1747.5" y="79.6" class="tl">DeepLO</text>
<text x="466.3" y="1184.0" class="cap" textLength="427.0" lengthAdjust="spacingAndGlyphs">(a) Sequence 09</text>
<text x="1749.8" y="1185.2" class="cap" textLength="431.0" lengthAdjust="spacingAndGlyphs">(b) Sequence 10</text>
</svg>
</body></html>
